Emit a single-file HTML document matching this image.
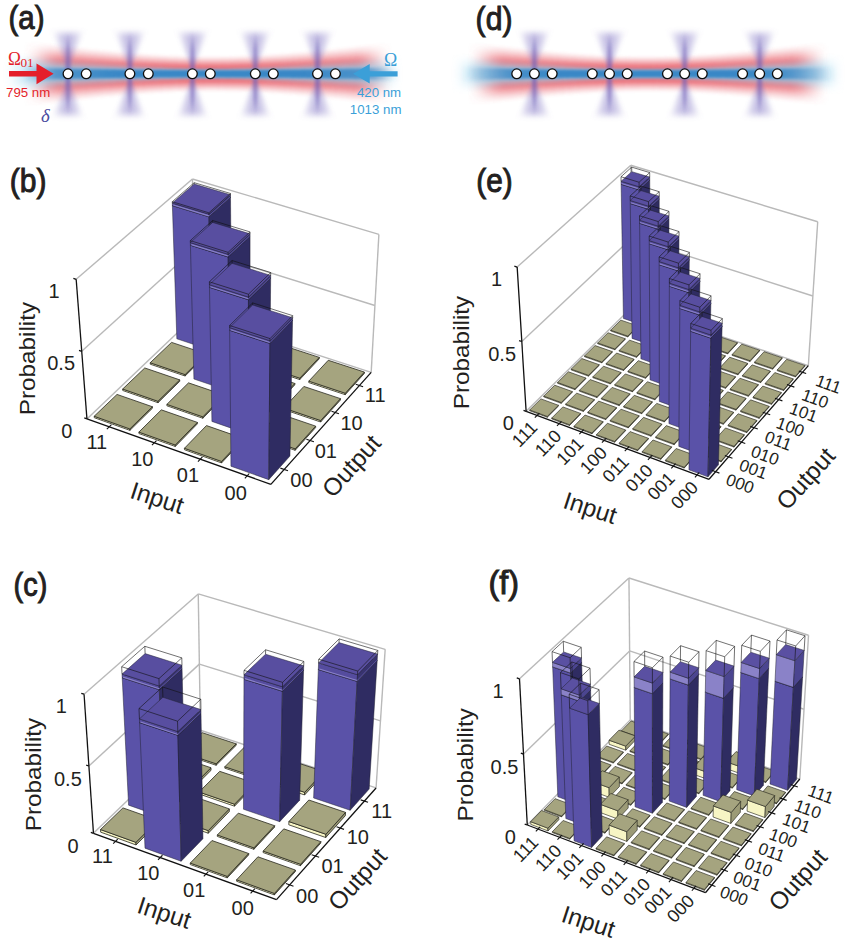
<!DOCTYPE html>
<html><head><meta charset="utf-8"><style>
html,body{margin:0;padding:0;background:#fff;overflow:hidden;}
svg{display:block;font-family:"Liberation Sans",sans-serif;}
</style></head><body>
<svg width="847" height="944" viewBox="0 0 847 944">
<defs><filter id="fsoft" x="-10%" y="-10%" width="120%" height="120%"><feGaussianBlur stdDeviation="0.9"/></filter><filter id="fsoft2" x="-30%" y="-10%" width="160%" height="120%"><feGaussianBlur stdDeviation="1.8"/></filter><linearGradient id="gRed" x1="0" y1="0" x2="0" y2="1"><stop offset="0.000" stop-color="#e9606a" stop-opacity="0.000"/><stop offset="0.090" stop-color="#e9606a" stop-opacity="0.200"/><stop offset="0.175" stop-color="#e9606a" stop-opacity="0.470"/><stop offset="0.275" stop-color="#e9606a" stop-opacity="0.800"/><stop offset="0.375" stop-color="#e9606a" stop-opacity="0.970"/><stop offset="0.500" stop-color="#e9606a" stop-opacity="1.000"/><stop offset="0.625" stop-color="#e9606a" stop-opacity="0.970"/><stop offset="0.725" stop-color="#e9606a" stop-opacity="0.800"/><stop offset="0.825" stop-color="#e9606a" stop-opacity="0.470"/><stop offset="0.910" stop-color="#e9606a" stop-opacity="0.200"/><stop offset="1.000" stop-color="#e9606a" stop-opacity="0.000"/></linearGradient><linearGradient id="gBlue" x1="0" y1="0" x2="0" y2="1"><stop offset="0.000" stop-color="#3787c6" stop-opacity="0.000"/><stop offset="0.075" stop-color="#3787c6" stop-opacity="0.120"/><stop offset="0.150" stop-color="#3787c6" stop-opacity="0.450"/><stop offset="0.225" stop-color="#3787c6" stop-opacity="0.850"/><stop offset="0.300" stop-color="#3787c6" stop-opacity="0.980"/><stop offset="0.500" stop-color="#3787c6" stop-opacity="1.000"/><stop offset="0.700" stop-color="#3787c6" stop-opacity="0.980"/><stop offset="0.775" stop-color="#3787c6" stop-opacity="0.850"/><stop offset="0.850" stop-color="#3787c6" stop-opacity="0.450"/><stop offset="0.925" stop-color="#3787c6" stop-opacity="0.120"/><stop offset="1.000" stop-color="#3787c6" stop-opacity="0.000"/></linearGradient><linearGradient id="gCyan" x1="0" y1="0" x2="0" y2="1"><stop offset="0.000" stop-color="#9ed8f2" stop-opacity="0.000"/><stop offset="0.100" stop-color="#9ed8f2" stop-opacity="0.180"/><stop offset="0.200" stop-color="#9ed8f2" stop-opacity="0.500"/><stop offset="0.325" stop-color="#9ed8f2" stop-opacity="0.900"/><stop offset="0.500" stop-color="#9ed8f2" stop-opacity="1.000"/><stop offset="0.675" stop-color="#9ed8f2" stop-opacity="0.900"/><stop offset="0.800" stop-color="#9ed8f2" stop-opacity="0.500"/><stop offset="0.900" stop-color="#9ed8f2" stop-opacity="0.180"/><stop offset="1.000" stop-color="#9ed8f2" stop-opacity="0.000"/></linearGradient><linearGradient id="gPurC" x1="0" y1="0" x2="1" y2="0"><stop offset="0.000" stop-color="#6656b2" stop-opacity="0.000"/><stop offset="0.150" stop-color="#6656b2" stop-opacity="0.350"/><stop offset="0.300" stop-color="#6656b2" stop-opacity="0.850"/><stop offset="0.500" stop-color="#6656b2" stop-opacity="1.000"/><stop offset="0.700" stop-color="#6656b2" stop-opacity="0.850"/><stop offset="0.850" stop-color="#6656b2" stop-opacity="0.350"/><stop offset="1.000" stop-color="#6656b2" stop-opacity="0.000"/></linearGradient><linearGradient id="gPurW" x1="0" y1="0" x2="1" y2="0"><stop offset="0.000" stop-color="#7c70c2" stop-opacity="0.000"/><stop offset="0.100" stop-color="#7c70c2" stop-opacity="0.200"/><stop offset="0.200" stop-color="#7c70c2" stop-opacity="0.500"/><stop offset="0.325" stop-color="#7c70c2" stop-opacity="0.850"/><stop offset="0.500" stop-color="#7c70c2" stop-opacity="1.000"/><stop offset="0.675" stop-color="#7c70c2" stop-opacity="0.850"/><stop offset="0.800" stop-color="#7c70c2" stop-opacity="0.500"/><stop offset="0.900" stop-color="#7c70c2" stop-opacity="0.200"/><stop offset="1.000" stop-color="#7c70c2" stop-opacity="0.000"/></linearGradient></defs>
<g fill="url(#gRed)" shape-rendering="crispEdges" filter="url(#fsoft)"><rect x="25" y="40.7" width="3" height="66.3" fill-opacity="0.04"/><rect x="28" y="41.0" width="3" height="65.5" fill-opacity="0.09"/><rect x="31" y="41.4" width="3" height="64.8" fill-opacity="0.17"/><rect x="34" y="41.8" width="3" height="64.0" fill-opacity="0.26"/><rect x="37" y="42.2" width="3" height="63.3" fill-opacity="0.37"/><rect x="40" y="42.5" width="3" height="62.5" fill-opacity="0.48"/><rect x="43" y="42.9" width="3" height="61.8" fill-opacity="0.59"/><rect x="46" y="43.3" width="3" height="61.1" fill-opacity="0.70"/><rect x="49" y="43.6" width="3" height="60.4" fill-opacity="0.80"/><rect x="52" y="44.0" width="3" height="59.6" fill-opacity="0.88"/><rect x="55" y="44.3" width="3" height="58.9" fill-opacity="0.95"/><rect x="58" y="44.7" width="3" height="58.2" fill-opacity="0.99"/><rect x="61" y="45.0" width="3" height="57.5" fill-opacity="1.00"/><rect x="64" y="45.4" width="3" height="56.8" fill-opacity="1.00"/><rect x="67" y="45.7" width="3" height="56.1" fill-opacity="1.00"/><rect x="70" y="46.1" width="3" height="55.4" fill-opacity="1.00"/><rect x="73" y="46.4" width="3" height="54.8" fill-opacity="1.00"/><rect x="76" y="46.8" width="3" height="54.1" fill-opacity="1.00"/><rect x="79" y="47.1" width="3" height="53.4" fill-opacity="1.00"/><rect x="82" y="47.4" width="3" height="52.7" fill-opacity="1.00"/><rect x="85" y="47.8" width="3" height="52.1" fill-opacity="1.00"/><rect x="88" y="48.1" width="3" height="51.4" fill-opacity="1.00"/><rect x="91" y="48.4" width="3" height="50.8" fill-opacity="1.00"/><rect x="94" y="48.7" width="3" height="50.2" fill-opacity="1.00"/><rect x="97" y="49.0" width="3" height="49.6" fill-opacity="1.00"/><rect x="100" y="49.3" width="3" height="48.9" fill-opacity="1.00"/><rect x="103" y="49.6" width="3" height="48.3" fill-opacity="1.00"/><rect x="106" y="49.9" width="3" height="47.7" fill-opacity="1.00"/><rect x="109" y="50.2" width="3" height="47.2" fill-opacity="1.00"/><rect x="112" y="50.5" width="3" height="46.6" fill-opacity="1.00"/><rect x="115" y="50.8" width="3" height="46.0" fill-opacity="1.00"/><rect x="118" y="51.1" width="3" height="45.5" fill-opacity="1.00"/><rect x="121" y="51.3" width="3" height="44.9" fill-opacity="1.00"/><rect x="124" y="51.6" width="3" height="44.4" fill-opacity="1.00"/><rect x="127" y="51.9" width="3" height="43.9" fill-opacity="1.00"/><rect x="130" y="52.1" width="3" height="43.3" fill-opacity="1.00"/><rect x="133" y="52.4" width="3" height="42.9" fill-opacity="1.00"/><rect x="136" y="52.6" width="3" height="42.4" fill-opacity="1.00"/><rect x="139" y="52.8" width="3" height="41.9" fill-opacity="1.00"/><rect x="142" y="53.1" width="3" height="41.5" fill-opacity="1.00"/><rect x="145" y="53.3" width="3" height="41.0" fill-opacity="1.00"/><rect x="148" y="53.5" width="3" height="40.6" fill-opacity="1.00"/><rect x="151" y="53.7" width="3" height="40.2" fill-opacity="1.00"/><rect x="154" y="53.9" width="3" height="39.8" fill-opacity="1.00"/><rect x="157" y="54.1" width="3" height="39.4" fill-opacity="1.00"/><rect x="160" y="54.3" width="3" height="39.1" fill-opacity="1.00"/><rect x="163" y="54.4" width="3" height="38.7" fill-opacity="1.00"/><rect x="166" y="54.6" width="3" height="38.4" fill-opacity="1.00"/><rect x="169" y="54.8" width="3" height="38.1" fill-opacity="1.00"/><rect x="172" y="54.9" width="3" height="37.8" fill-opacity="1.00"/><rect x="175" y="55.0" width="3" height="37.5" fill-opacity="1.00"/><rect x="178" y="55.2" width="3" height="37.3" fill-opacity="1.00"/><rect x="181" y="55.3" width="3" height="37.1" fill-opacity="1.00"/><rect x="184" y="55.4" width="3" height="36.9" fill-opacity="1.00"/><rect x="187" y="55.5" width="3" height="36.7" fill-opacity="1.00"/><rect x="190" y="55.5" width="3" height="36.5" fill-opacity="1.00"/><rect x="193" y="55.6" width="3" height="36.4" fill-opacity="1.00"/><rect x="196" y="55.7" width="3" height="36.3" fill-opacity="1.00"/><rect x="199" y="55.7" width="3" height="36.2" fill-opacity="1.00"/><rect x="202" y="55.8" width="3" height="36.1" fill-opacity="1.00"/><rect x="205" y="55.8" width="3" height="36.0" fill-opacity="1.00"/><rect x="208" y="55.8" width="3" height="36.0" fill-opacity="1.00"/><rect x="211" y="55.8" width="3" height="36.0" fill-opacity="1.00"/><rect x="214" y="55.8" width="3" height="36.0" fill-opacity="1.00"/><rect x="217" y="55.8" width="3" height="36.1" fill-opacity="1.00"/><rect x="220" y="55.7" width="3" height="36.1" fill-opacity="1.00"/><rect x="223" y="55.7" width="3" height="36.2" fill-opacity="1.00"/><rect x="226" y="55.7" width="3" height="36.3" fill-opacity="1.00"/><rect x="229" y="55.6" width="3" height="36.4" fill-opacity="1.00"/><rect x="232" y="55.5" width="3" height="36.6" fill-opacity="1.00"/><rect x="235" y="55.4" width="3" height="36.7" fill-opacity="1.00"/><rect x="238" y="55.3" width="3" height="36.9" fill-opacity="1.00"/><rect x="241" y="55.2" width="3" height="37.1" fill-opacity="1.00"/><rect x="244" y="55.1" width="3" height="37.4" fill-opacity="1.00"/><rect x="247" y="55.0" width="3" height="37.6" fill-opacity="1.00"/><rect x="250" y="54.8" width="3" height="37.9" fill-opacity="1.00"/><rect x="253" y="54.7" width="3" height="38.2" fill-opacity="1.00"/><rect x="256" y="54.5" width="3" height="38.5" fill-opacity="1.00"/><rect x="259" y="54.4" width="3" height="38.8" fill-opacity="1.00"/><rect x="262" y="54.2" width="3" height="39.2" fill-opacity="1.00"/><rect x="265" y="54.0" width="3" height="39.5" fill-opacity="1.00"/><rect x="268" y="53.8" width="3" height="39.9" fill-opacity="1.00"/><rect x="271" y="53.6" width="3" height="40.3" fill-opacity="1.00"/><rect x="274" y="53.4" width="3" height="40.7" fill-opacity="1.00"/><rect x="277" y="53.2" width="3" height="41.2" fill-opacity="1.00"/><rect x="280" y="53.0" width="3" height="41.6" fill-opacity="1.00"/><rect x="283" y="52.8" width="3" height="42.1" fill-opacity="1.00"/><rect x="286" y="52.5" width="3" height="42.5" fill-opacity="1.00"/><rect x="289" y="52.3" width="3" height="43.0" fill-opacity="1.00"/><rect x="292" y="52.0" width="3" height="43.5" fill-opacity="1.00"/><rect x="295" y="51.8" width="3" height="44.0" fill-opacity="1.00"/><rect x="298" y="51.5" width="3" height="44.6" fill-opacity="1.00"/><rect x="301" y="51.3" width="3" height="45.1" fill-opacity="1.00"/><rect x="304" y="51.0" width="3" height="45.6" fill-opacity="1.00"/><rect x="307" y="50.7" width="3" height="46.2" fill-opacity="1.00"/><rect x="310" y="50.4" width="3" height="46.8" fill-opacity="1.00"/><rect x="313" y="50.1" width="3" height="47.3" fill-opacity="1.00"/><rect x="316" y="49.8" width="3" height="47.9" fill-opacity="1.00"/><rect x="319" y="49.5" width="3" height="48.5" fill-opacity="1.00"/><rect x="322" y="49.2" width="3" height="49.1" fill-opacity="1.00"/><rect x="325" y="48.9" width="3" height="49.8" fill-opacity="1.00"/><rect x="328" y="48.6" width="3" height="50.4" fill-opacity="1.00"/><rect x="331" y="48.3" width="3" height="51.0" fill-opacity="1.00"/><rect x="334" y="48.0" width="3" height="51.7" fill-opacity="1.00"/><rect x="337" y="47.6" width="3" height="52.3" fill-opacity="1.00"/><rect x="340" y="47.3" width="3" height="53.0" fill-opacity="1.00"/><rect x="343" y="47.0" width="3" height="53.6" fill-opacity="1.00"/><rect x="346" y="46.7" width="3" height="54.3" fill-opacity="1.00"/><rect x="349" y="46.3" width="3" height="55.0" fill-opacity="1.00"/><rect x="352" y="46.0" width="3" height="55.7" fill-opacity="1.00"/><rect x="355" y="45.6" width="3" height="56.3" fill-opacity="0.99"/><rect x="358" y="45.3" width="3" height="57.0" fill-opacity="0.95"/><rect x="361" y="44.9" width="3" height="57.7" fill-opacity="0.88"/><rect x="364" y="44.6" width="3" height="58.5" fill-opacity="0.80"/><rect x="367" y="44.2" width="3" height="59.2" fill-opacity="0.70"/><rect x="370" y="43.9" width="3" height="59.9" fill-opacity="0.59"/><rect x="373" y="43.5" width="3" height="60.6" fill-opacity="0.48"/><rect x="376" y="43.1" width="3" height="61.3" fill-opacity="0.37"/><rect x="379" y="42.8" width="3" height="62.1" fill-opacity="0.26"/><rect x="382" y="42.4" width="3" height="62.8" fill-opacity="0.17"/><rect x="385" y="42.0" width="3" height="63.5" fill-opacity="0.09"/><rect x="388" y="41.7" width="3" height="64.3" fill-opacity="0.04"/></g>
<g fill="url(#gCyan)" shape-rendering="crispEdges" filter="url(#fsoft)"><rect x="5" y="52.1" width="3" height="43.4" fill-opacity="0.03"/><rect x="8" y="52.4" width="3" height="42.9" fill-opacity="0.08"/><rect x="11" y="52.7" width="3" height="42.3" fill-opacity="0.14"/><rect x="14" y="52.9" width="3" height="41.7" fill-opacity="0.23"/><rect x="17" y="53.2" width="3" height="41.2" fill-opacity="0.31"/><rect x="20" y="53.5" width="3" height="40.6" fill-opacity="0.41"/><rect x="23" y="53.8" width="3" height="40.0" fill-opacity="0.50"/><rect x="26" y="54.1" width="3" height="39.5" fill-opacity="0.60"/><rect x="29" y="54.3" width="3" height="38.9" fill-opacity="0.68"/><rect x="32" y="54.6" width="3" height="38.3" fill-opacity="0.75"/><rect x="35" y="54.9" width="3" height="37.8" fill-opacity="0.81"/><rect x="38" y="55.2" width="3" height="37.2" fill-opacity="0.84"/><rect x="41" y="55.5" width="3" height="36.7" fill-opacity="0.85"/><rect x="44" y="55.7" width="3" height="36.1" fill-opacity="0.85"/><rect x="47" y="56.0" width="3" height="35.6" fill-opacity="0.85"/><rect x="50" y="56.3" width="3" height="35.0" fill-opacity="0.85"/><rect x="53" y="56.6" width="3" height="34.5" fill-opacity="0.85"/><rect x="56" y="56.8" width="3" height="33.9" fill-opacity="0.85"/><rect x="59" y="57.1" width="3" height="33.4" fill-opacity="0.85"/><rect x="62" y="57.4" width="3" height="32.8" fill-opacity="0.85"/><rect x="65" y="57.7" width="3" height="32.3" fill-opacity="0.85"/><rect x="68" y="57.9" width="3" height="31.8" fill-opacity="0.85"/><rect x="71" y="58.2" width="3" height="31.2" fill-opacity="0.85"/><rect x="74" y="58.5" width="3" height="30.7" fill-opacity="0.85"/><rect x="77" y="58.7" width="3" height="30.1" fill-opacity="0.85"/><rect x="80" y="59.0" width="3" height="29.6" fill-opacity="0.85"/><rect x="83" y="59.3" width="3" height="29.1" fill-opacity="0.85"/><rect x="86" y="59.5" width="3" height="28.6" fill-opacity="0.85"/><rect x="89" y="59.8" width="3" height="28.0" fill-opacity="0.85"/><rect x="92" y="60.0" width="3" height="27.5" fill-opacity="0.85"/><rect x="95" y="60.3" width="3" height="27.0" fill-opacity="0.85"/><rect x="98" y="60.5" width="3" height="26.5" fill-opacity="0.85"/><rect x="101" y="60.8" width="3" height="26.0" fill-opacity="0.85"/><rect x="104" y="61.1" width="3" height="25.5" fill-opacity="0.85"/><rect x="107" y="61.3" width="3" height="25.0" fill-opacity="0.85"/><rect x="110" y="61.6" width="3" height="24.5" fill-opacity="0.85"/><rect x="113" y="61.8" width="3" height="24.0" fill-opacity="0.85"/><rect x="116" y="62.0" width="3" height="23.5" fill-opacity="0.85"/><rect x="119" y="62.3" width="3" height="23.0" fill-opacity="0.85"/><rect x="122" y="62.5" width="3" height="22.6" fill-opacity="0.85"/><rect x="125" y="62.8" width="3" height="22.1" fill-opacity="0.85"/><rect x="128" y="63.0" width="3" height="21.6" fill-opacity="0.85"/><rect x="131" y="63.2" width="3" height="21.2" fill-opacity="0.85"/><rect x="134" y="63.4" width="3" height="20.7" fill-opacity="0.85"/><rect x="137" y="63.6" width="3" height="20.3" fill-opacity="0.85"/><rect x="140" y="63.9" width="3" height="19.9" fill-opacity="0.85"/><rect x="143" y="64.1" width="3" height="19.4" fill-opacity="0.85"/><rect x="146" y="64.3" width="3" height="19.0" fill-opacity="0.85"/><rect x="149" y="64.5" width="3" height="18.6" fill-opacity="0.85"/><rect x="152" y="64.7" width="3" height="18.2" fill-opacity="0.85"/><rect x="155" y="64.9" width="3" height="17.9" fill-opacity="0.85"/><rect x="158" y="65.0" width="3" height="17.5" fill-opacity="0.85"/><rect x="161" y="65.2" width="3" height="17.1" fill-opacity="0.85"/><rect x="164" y="65.4" width="3" height="16.8" fill-opacity="0.85"/><rect x="167" y="65.6" width="3" height="16.5" fill-opacity="0.85"/><rect x="170" y="65.7" width="3" height="16.2" fill-opacity="0.85"/><rect x="173" y="65.9" width="3" height="15.9" fill-opacity="0.85"/><rect x="176" y="66.0" width="3" height="15.6" fill-opacity="0.85"/><rect x="179" y="66.1" width="3" height="15.4" fill-opacity="0.85"/><rect x="182" y="66.2" width="3" height="15.1" fill-opacity="0.85"/><rect x="185" y="66.3" width="3" height="14.9" fill-opacity="0.85"/><rect x="188" y="66.4" width="3" height="14.7" fill-opacity="0.85"/><rect x="191" y="66.5" width="3" height="14.5" fill-opacity="0.85"/><rect x="194" y="66.6" width="3" height="14.4" fill-opacity="0.85"/><rect x="197" y="66.7" width="3" height="14.3" fill-opacity="0.85"/><rect x="200" y="66.7" width="3" height="14.2" fill-opacity="0.85"/><rect x="203" y="66.8" width="3" height="14.1" fill-opacity="0.85"/><rect x="206" y="66.8" width="3" height="14.0" fill-opacity="0.85"/><rect x="209" y="66.8" width="3" height="14.0" fill-opacity="0.85"/><rect x="212" y="66.8" width="3" height="14.0" fill-opacity="0.85"/><rect x="215" y="66.8" width="3" height="14.0" fill-opacity="0.85"/><rect x="218" y="66.8" width="3" height="14.1" fill-opacity="0.85"/><rect x="221" y="66.7" width="3" height="14.2" fill-opacity="0.85"/><rect x="224" y="66.7" width="3" height="14.3" fill-opacity="0.85"/><rect x="227" y="66.6" width="3" height="14.4" fill-opacity="0.85"/><rect x="230" y="66.5" width="3" height="14.5" fill-opacity="0.85"/><rect x="233" y="66.4" width="3" height="14.7" fill-opacity="0.85"/><rect x="236" y="66.3" width="3" height="14.9" fill-opacity="0.85"/><rect x="239" y="66.2" width="3" height="15.1" fill-opacity="0.85"/><rect x="242" y="66.1" width="3" height="15.4" fill-opacity="0.85"/><rect x="245" y="66.0" width="3" height="15.6" fill-opacity="0.85"/><rect x="248" y="65.9" width="3" height="15.9" fill-opacity="0.85"/><rect x="251" y="65.7" width="3" height="16.2" fill-opacity="0.85"/><rect x="254" y="65.6" width="3" height="16.5" fill-opacity="0.85"/><rect x="257" y="65.4" width="3" height="16.8" fill-opacity="0.85"/><rect x="260" y="65.2" width="3" height="17.1" fill-opacity="0.85"/><rect x="263" y="65.0" width="3" height="17.5" fill-opacity="0.85"/><rect x="266" y="64.9" width="3" height="17.9" fill-opacity="0.85"/><rect x="269" y="64.7" width="3" height="18.2" fill-opacity="0.85"/><rect x="272" y="64.5" width="3" height="18.6" fill-opacity="0.85"/><rect x="275" y="64.3" width="3" height="19.0" fill-opacity="0.85"/><rect x="278" y="64.1" width="3" height="19.4" fill-opacity="0.85"/><rect x="281" y="63.9" width="3" height="19.9" fill-opacity="0.85"/><rect x="284" y="63.6" width="3" height="20.3" fill-opacity="0.85"/><rect x="287" y="63.4" width="3" height="20.7" fill-opacity="0.85"/><rect x="290" y="63.2" width="3" height="21.2" fill-opacity="0.85"/><rect x="293" y="63.0" width="3" height="21.6" fill-opacity="0.85"/><rect x="296" y="62.8" width="3" height="22.1" fill-opacity="0.85"/><rect x="299" y="62.5" width="3" height="22.6" fill-opacity="0.85"/><rect x="302" y="62.3" width="3" height="23.0" fill-opacity="0.85"/><rect x="305" y="62.0" width="3" height="23.5" fill-opacity="0.85"/><rect x="308" y="61.8" width="3" height="24.0" fill-opacity="0.85"/><rect x="311" y="61.6" width="3" height="24.5" fill-opacity="0.85"/><rect x="314" y="61.3" width="3" height="25.0" fill-opacity="0.85"/><rect x="317" y="61.1" width="3" height="25.5" fill-opacity="0.85"/><rect x="320" y="60.8" width="3" height="26.0" fill-opacity="0.85"/><rect x="323" y="60.5" width="3" height="26.5" fill-opacity="0.85"/><rect x="326" y="60.3" width="3" height="27.0" fill-opacity="0.85"/><rect x="329" y="60.0" width="3" height="27.5" fill-opacity="0.85"/><rect x="332" y="59.8" width="3" height="28.0" fill-opacity="0.85"/><rect x="335" y="59.5" width="3" height="28.6" fill-opacity="0.85"/><rect x="338" y="59.3" width="3" height="29.1" fill-opacity="0.85"/><rect x="341" y="59.0" width="3" height="29.6" fill-opacity="0.85"/><rect x="344" y="58.7" width="3" height="30.1" fill-opacity="0.85"/><rect x="347" y="58.5" width="3" height="30.7" fill-opacity="0.85"/><rect x="350" y="58.2" width="3" height="31.2" fill-opacity="0.85"/><rect x="353" y="57.9" width="3" height="31.8" fill-opacity="0.85"/><rect x="356" y="57.7" width="3" height="32.3" fill-opacity="0.85"/><rect x="359" y="57.4" width="3" height="32.8" fill-opacity="0.85"/><rect x="362" y="57.1" width="3" height="33.4" fill-opacity="0.85"/><rect x="365" y="56.8" width="3" height="33.9" fill-opacity="0.84"/><rect x="368" y="56.6" width="3" height="34.5" fill-opacity="0.81"/><rect x="371" y="56.3" width="3" height="35.0" fill-opacity="0.75"/><rect x="374" y="56.0" width="3" height="35.6" fill-opacity="0.68"/><rect x="377" y="55.7" width="3" height="36.1" fill-opacity="0.60"/><rect x="380" y="55.5" width="3" height="36.7" fill-opacity="0.50"/><rect x="383" y="55.2" width="3" height="37.2" fill-opacity="0.41"/><rect x="386" y="54.9" width="3" height="37.8" fill-opacity="0.31"/><rect x="389" y="54.6" width="3" height="38.3" fill-opacity="0.23"/><rect x="392" y="54.3" width="3" height="38.9" fill-opacity="0.14"/><rect x="395" y="54.1" width="3" height="39.5" fill-opacity="0.08"/><rect x="398" y="53.8" width="3" height="40.0" fill-opacity="0.03"/></g>
<g fill="url(#gBlue)" shape-rendering="crispEdges" filter="url(#fsoft)"><rect x="21" y="64.7" width="3" height="18.2" fill-opacity="0.02"/><rect x="24" y="64.8" width="3" height="18.0" fill-opacity="0.05"/><rect x="27" y="64.9" width="3" height="17.8" fill-opacity="0.10"/><rect x="30" y="65.0" width="3" height="17.6" fill-opacity="0.16"/><rect x="33" y="65.1" width="3" height="17.4" fill-opacity="0.23"/><rect x="36" y="65.2" width="3" height="17.3" fill-opacity="0.30"/><rect x="39" y="65.3" width="3" height="17.1" fill-opacity="0.38"/><rect x="42" y="65.4" width="3" height="16.9" fill-opacity="0.46"/><rect x="45" y="65.4" width="3" height="16.7" fill-opacity="0.54"/><rect x="48" y="65.5" width="3" height="16.5" fill-opacity="0.61"/><rect x="51" y="65.6" width="3" height="16.4" fill-opacity="0.68"/><rect x="54" y="65.7" width="3" height="16.2" fill-opacity="0.74"/><rect x="57" y="65.8" width="3" height="16.0" fill-opacity="0.79"/><rect x="60" y="65.9" width="3" height="15.9" fill-opacity="0.81"/><rect x="63" y="66.0" width="3" height="15.7" fill-opacity="0.83"/><rect x="66" y="66.0" width="3" height="15.5" fill-opacity="0.84"/><rect x="69" y="66.1" width="3" height="15.4" fill-opacity="0.84"/><rect x="72" y="66.2" width="3" height="15.2" fill-opacity="0.85"/><rect x="75" y="66.3" width="3" height="15.0" fill-opacity="0.86"/><rect x="78" y="66.4" width="3" height="14.9" fill-opacity="0.87"/><rect x="81" y="66.4" width="3" height="14.7" fill-opacity="0.88"/><rect x="84" y="66.5" width="3" height="14.6" fill-opacity="0.89"/><rect x="87" y="66.6" width="3" height="14.4" fill-opacity="0.90"/><rect x="90" y="66.7" width="3" height="14.2" fill-opacity="0.91"/><rect x="93" y="66.8" width="3" height="14.1" fill-opacity="0.92"/><rect x="96" y="66.8" width="3" height="14.0" fill-opacity="0.93"/><rect x="99" y="66.9" width="3" height="13.8" fill-opacity="0.94"/><rect x="102" y="67.0" width="3" height="13.7" fill-opacity="0.95"/><rect x="105" y="67.0" width="3" height="13.5" fill-opacity="0.96"/><rect x="108" y="67.1" width="3" height="13.4" fill-opacity="0.97"/><rect x="111" y="67.2" width="3" height="13.2" fill-opacity="0.98"/><rect x="114" y="67.2" width="3" height="13.1" fill-opacity="0.99"/><rect x="117" y="67.3" width="3" height="13.0" fill-opacity="1.00"/><rect x="120" y="67.4" width="3" height="12.9" fill-opacity="1.00"/><rect x="123" y="67.4" width="3" height="12.7" fill-opacity="1.00"/><rect x="126" y="67.5" width="3" height="12.6" fill-opacity="1.00"/><rect x="129" y="67.6" width="3" height="12.5" fill-opacity="1.00"/><rect x="132" y="67.6" width="3" height="12.4" fill-opacity="1.00"/><rect x="135" y="67.7" width="3" height="12.3" fill-opacity="1.00"/><rect x="138" y="67.7" width="3" height="12.2" fill-opacity="1.00"/><rect x="141" y="67.8" width="3" height="12.1" fill-opacity="1.00"/><rect x="144" y="67.8" width="3" height="12.0" fill-opacity="1.00"/><rect x="147" y="67.9" width="3" height="11.9" fill-opacity="1.00"/><rect x="150" y="67.9" width="3" height="11.8" fill-opacity="1.00"/><rect x="153" y="68.0" width="3" height="11.7" fill-opacity="1.00"/><rect x="156" y="68.0" width="3" height="11.6" fill-opacity="1.00"/><rect x="159" y="68.0" width="3" height="11.5" fill-opacity="1.00"/><rect x="162" y="68.1" width="3" height="11.4" fill-opacity="1.00"/><rect x="165" y="68.1" width="3" height="11.4" fill-opacity="1.00"/><rect x="168" y="68.2" width="3" height="11.3" fill-opacity="1.00"/><rect x="171" y="68.2" width="3" height="11.2" fill-opacity="1.00"/><rect x="174" y="68.2" width="3" height="11.2" fill-opacity="1.00"/><rect x="177" y="68.2" width="3" height="11.1" fill-opacity="1.00"/><rect x="180" y="68.3" width="3" height="11.1" fill-opacity="1.00"/><rect x="183" y="68.3" width="3" height="11.0" fill-opacity="1.00"/><rect x="186" y="68.3" width="3" height="11.0" fill-opacity="1.00"/><rect x="189" y="68.3" width="3" height="10.9" fill-opacity="1.00"/><rect x="192" y="68.4" width="3" height="10.9" fill-opacity="1.00"/><rect x="195" y="68.4" width="3" height="10.9" fill-opacity="1.00"/><rect x="198" y="68.4" width="3" height="10.8" fill-opacity="1.00"/><rect x="201" y="68.4" width="3" height="10.8" fill-opacity="1.00"/><rect x="204" y="68.4" width="3" height="10.8" fill-opacity="1.00"/><rect x="207" y="68.4" width="3" height="10.8" fill-opacity="1.00"/><rect x="210" y="68.4" width="3" height="10.8" fill-opacity="1.00"/><rect x="213" y="68.4" width="3" height="10.8" fill-opacity="1.00"/><rect x="216" y="68.4" width="3" height="10.8" fill-opacity="1.00"/><rect x="219" y="68.4" width="3" height="10.8" fill-opacity="1.00"/><rect x="222" y="68.4" width="3" height="10.8" fill-opacity="1.00"/><rect x="225" y="68.4" width="3" height="10.9" fill-opacity="1.00"/><rect x="228" y="68.4" width="3" height="10.9" fill-opacity="1.00"/><rect x="231" y="68.3" width="3" height="10.9" fill-opacity="1.00"/><rect x="234" y="68.3" width="3" height="11.0" fill-opacity="1.00"/><rect x="237" y="68.3" width="3" height="11.0" fill-opacity="1.00"/><rect x="240" y="68.3" width="3" height="11.0" fill-opacity="1.00"/><rect x="243" y="68.3" width="3" height="11.1" fill-opacity="1.00"/><rect x="246" y="68.2" width="3" height="11.1" fill-opacity="1.00"/><rect x="249" y="68.2" width="3" height="11.2" fill-opacity="1.00"/><rect x="252" y="68.2" width="3" height="11.3" fill-opacity="1.00"/><rect x="255" y="68.1" width="3" height="11.3" fill-opacity="1.00"/><rect x="258" y="68.1" width="3" height="11.4" fill-opacity="1.00"/><rect x="261" y="68.1" width="3" height="11.5" fill-opacity="1.00"/><rect x="264" y="68.0" width="3" height="11.6" fill-opacity="1.00"/><rect x="267" y="68.0" width="3" height="11.6" fill-opacity="1.00"/><rect x="270" y="67.9" width="3" height="11.7" fill-opacity="1.00"/><rect x="273" y="67.9" width="3" height="11.8" fill-opacity="1.00"/><rect x="276" y="67.8" width="3" height="11.9" fill-opacity="1.00"/><rect x="279" y="67.8" width="3" height="12.0" fill-opacity="1.00"/><rect x="282" y="67.7" width="3" height="12.1" fill-opacity="1.00"/><rect x="285" y="67.7" width="3" height="12.2" fill-opacity="1.00"/><rect x="288" y="67.6" width="3" height="12.3" fill-opacity="1.00"/><rect x="291" y="67.6" width="3" height="12.5" fill-opacity="1.00"/><rect x="294" y="67.5" width="3" height="12.6" fill-opacity="1.00"/><rect x="297" y="67.5" width="3" height="12.7" fill-opacity="1.00"/><rect x="300" y="67.4" width="3" height="12.8" fill-opacity="1.00"/><rect x="303" y="67.3" width="3" height="12.9" fill-opacity="1.00"/><rect x="306" y="67.3" width="3" height="13.1" fill-opacity="0.99"/><rect x="309" y="67.2" width="3" height="13.2" fill-opacity="0.98"/><rect x="312" y="67.1" width="3" height="13.3" fill-opacity="0.97"/><rect x="315" y="67.1" width="3" height="13.5" fill-opacity="0.96"/><rect x="318" y="67.0" width="3" height="13.6" fill-opacity="0.95"/><rect x="321" y="66.9" width="3" height="13.8" fill-opacity="0.94"/><rect x="324" y="66.8" width="3" height="13.9" fill-opacity="0.93"/><rect x="327" y="66.8" width="3" height="14.1" fill-opacity="0.92"/><rect x="330" y="66.7" width="3" height="14.2" fill-opacity="0.91"/><rect x="333" y="66.6" width="3" height="14.4" fill-opacity="0.90"/><rect x="336" y="66.5" width="3" height="14.5" fill-opacity="0.89"/><rect x="339" y="66.5" width="3" height="14.7" fill-opacity="0.88"/><rect x="342" y="66.4" width="3" height="14.8" fill-opacity="0.87"/><rect x="345" y="66.3" width="3" height="15.0" fill-opacity="0.87"/><rect x="348" y="66.2" width="3" height="15.1" fill-opacity="0.86"/><rect x="351" y="66.1" width="3" height="15.3" fill-opacity="0.85"/><rect x="354" y="66.1" width="3" height="15.5" fill-opacity="0.84"/><rect x="357" y="66.0" width="3" height="15.6" fill-opacity="0.83"/><rect x="360" y="65.9" width="3" height="15.8" fill-opacity="0.80"/><rect x="363" y="65.8" width="3" height="16.0" fill-opacity="0.75"/><rect x="366" y="65.7" width="3" height="16.1" fill-opacity="0.69"/><rect x="369" y="65.6" width="3" height="16.3" fill-opacity="0.62"/><rect x="372" y="65.6" width="3" height="16.5" fill-opacity="0.55"/><rect x="375" y="65.5" width="3" height="16.7" fill-opacity="0.47"/><rect x="378" y="65.4" width="3" height="16.8" fill-opacity="0.38"/><rect x="381" y="65.3" width="3" height="17.0" fill-opacity="0.31"/><rect x="384" y="65.2" width="3" height="17.2" fill-opacity="0.23"/><rect x="387" y="65.1" width="3" height="17.4" fill-opacity="0.16"/><rect x="390" y="65.0" width="3" height="17.6" fill-opacity="0.10"/><rect x="393" y="64.9" width="3" height="17.7" fill-opacity="0.05"/><rect x="396" y="64.8" width="3" height="17.9" fill-opacity="0.02"/></g>
<g fill="url(#gPurW)" shape-rendering="crispEdges" filter="url(#fsoft2)"><rect x="48.9" y="28.799999999999997" width="38.2" height="2" fill-opacity="0.07"/><rect x="49.8" y="30.799999999999997" width="36.5" height="2" fill-opacity="0.17"/><rect x="50.6" y="32.8" width="34.8" height="2" fill-opacity="0.28"/><rect x="51.4" y="34.8" width="33.1" height="2" fill-opacity="0.38"/><rect x="52.3" y="36.8" width="31.4" height="2" fill-opacity="0.44"/><rect x="53.1" y="38.8" width="29.8" height="2" fill-opacity="0.45"/><rect x="54.0" y="40.8" width="28.1" height="2" fill-opacity="0.45"/><rect x="54.8" y="42.8" width="26.4" height="2" fill-opacity="0.45"/><rect x="55.6" y="44.8" width="24.7" height="2" fill-opacity="0.45"/><rect x="56.5" y="46.8" width="23.1" height="2" fill-opacity="0.45"/><rect x="57.3" y="48.8" width="21.4" height="2" fill-opacity="0.45"/><rect x="58.1" y="50.8" width="19.8" height="2" fill-opacity="0.45"/><rect x="58.9" y="52.8" width="18.2" height="2" fill-opacity="0.45"/><rect x="59.7" y="54.8" width="16.6" height="2" fill-opacity="0.45"/><rect x="60.5" y="56.8" width="15.0" height="2" fill-opacity="0.45"/><rect x="61.3" y="58.8" width="13.4" height="2" fill-opacity="0.45"/><rect x="62.0" y="60.8" width="11.9" height="2" fill-opacity="0.45"/><rect x="62.8" y="62.8" width="10.5" height="2" fill-opacity="0.45"/><rect x="63.4" y="64.8" width="9.1" height="2" fill-opacity="0.45"/><rect x="64.0" y="66.8" width="7.9" height="2" fill-opacity="0.45"/><rect x="64.5" y="68.8" width="6.9" height="2" fill-opacity="0.45"/><rect x="64.9" y="70.8" width="6.2" height="2" fill-opacity="0.45"/><rect x="65.0" y="72.8" width="6.0" height="2" fill-opacity="0.45"/><rect x="64.9" y="74.8" width="6.2" height="2" fill-opacity="0.45"/><rect x="64.5" y="76.8" width="6.9" height="2" fill-opacity="0.45"/><rect x="64.0" y="78.8" width="7.9" height="2" fill-opacity="0.45"/><rect x="63.4" y="80.8" width="9.1" height="2" fill-opacity="0.45"/><rect x="62.8" y="82.8" width="10.5" height="2" fill-opacity="0.45"/><rect x="62.0" y="84.8" width="11.9" height="2" fill-opacity="0.45"/><rect x="61.3" y="86.8" width="13.4" height="2" fill-opacity="0.45"/><rect x="60.5" y="88.8" width="15.0" height="2" fill-opacity="0.45"/><rect x="59.7" y="90.8" width="16.6" height="2" fill-opacity="0.45"/><rect x="58.9" y="92.8" width="18.2" height="2" fill-opacity="0.45"/><rect x="58.1" y="94.8" width="19.8" height="2" fill-opacity="0.45"/><rect x="57.3" y="96.8" width="21.4" height="2" fill-opacity="0.45"/><rect x="56.5" y="98.8" width="23.1" height="2" fill-opacity="0.45"/><rect x="55.6" y="100.8" width="24.7" height="2" fill-opacity="0.45"/><rect x="54.8" y="102.8" width="26.4" height="2" fill-opacity="0.45"/><rect x="54.0" y="104.8" width="28.1" height="2" fill-opacity="0.45"/><rect x="53.1" y="106.8" width="29.8" height="2" fill-opacity="0.45"/><rect x="52.3" y="108.8" width="31.4" height="2" fill-opacity="0.44"/><rect x="51.4" y="110.8" width="33.1" height="2" fill-opacity="0.38"/><rect x="50.6" y="112.8" width="34.8" height="2" fill-opacity="0.28"/><rect x="49.8" y="114.8" width="36.5" height="2" fill-opacity="0.17"/><rect x="48.9" y="116.8" width="38.2" height="2" fill-opacity="0.07"/></g>
<g fill="url(#gPurC)" shape-rendering="crispEdges" filter="url(#fsoft2)"><rect x="65.3" y="32.8" width="5.4" height="2" fill-opacity="0.03"/><rect x="65.3" y="34.8" width="5.4" height="2" fill-opacity="0.07"/><rect x="65.3" y="36.8" width="5.4" height="2" fill-opacity="0.12"/><rect x="65.3" y="38.8" width="5.4" height="2" fill-opacity="0.18"/><rect x="65.3" y="40.8" width="5.4" height="2" fill-opacity="0.25"/><rect x="65.3" y="42.8" width="5.4" height="2" fill-opacity="0.32"/><rect x="65.3" y="44.8" width="5.4" height="2" fill-opacity="0.38"/><rect x="65.3" y="46.8" width="5.4" height="2" fill-opacity="0.43"/><rect x="65.3" y="48.8" width="5.4" height="2" fill-opacity="0.47"/><rect x="65.3" y="50.8" width="5.4" height="2" fill-opacity="0.50"/><rect x="65.3" y="52.8" width="5.4" height="2" fill-opacity="0.50"/><rect x="65.3" y="54.8" width="5.4" height="2" fill-opacity="0.50"/><rect x="65.3" y="56.8" width="5.4" height="2" fill-opacity="0.50"/><rect x="65.3" y="58.8" width="5.4" height="2" fill-opacity="0.50"/><rect x="65.3" y="60.8" width="5.4" height="2" fill-opacity="0.50"/><rect x="65.3" y="62.8" width="5.4" height="2" fill-opacity="0.50"/><rect x="65.3" y="64.8" width="5.4" height="2" fill-opacity="0.50"/><rect x="65.3" y="66.8" width="5.4" height="2" fill-opacity="0.50"/><rect x="65.3" y="68.8" width="5.4" height="2" fill-opacity="0.50"/><rect x="65.3" y="70.8" width="5.4" height="2" fill-opacity="0.50"/><rect x="65.3" y="72.8" width="5.4" height="2" fill-opacity="0.50"/><rect x="65.3" y="74.8" width="5.4" height="2" fill-opacity="0.50"/><rect x="65.3" y="76.8" width="5.4" height="2" fill-opacity="0.50"/><rect x="65.3" y="78.8" width="5.4" height="2" fill-opacity="0.50"/><rect x="65.3" y="80.8" width="5.4" height="2" fill-opacity="0.50"/><rect x="65.3" y="82.8" width="5.4" height="2" fill-opacity="0.50"/><rect x="65.3" y="84.8" width="5.4" height="2" fill-opacity="0.50"/><rect x="65.3" y="86.8" width="5.4" height="2" fill-opacity="0.50"/><rect x="65.3" y="88.8" width="5.4" height="2" fill-opacity="0.50"/><rect x="65.3" y="90.8" width="5.4" height="2" fill-opacity="0.50"/><rect x="65.3" y="92.8" width="5.4" height="2" fill-opacity="0.50"/><rect x="65.3" y="94.8" width="5.4" height="2" fill-opacity="0.50"/><rect x="65.3" y="96.8" width="5.4" height="2" fill-opacity="0.47"/><rect x="65.3" y="98.8" width="5.4" height="2" fill-opacity="0.43"/><rect x="65.3" y="100.8" width="5.4" height="2" fill-opacity="0.38"/><rect x="65.3" y="102.8" width="5.4" height="2" fill-opacity="0.32"/><rect x="65.3" y="104.8" width="5.4" height="2" fill-opacity="0.25"/><rect x="65.3" y="106.8" width="5.4" height="2" fill-opacity="0.18"/><rect x="65.3" y="108.8" width="5.4" height="2" fill-opacity="0.12"/><rect x="65.3" y="110.8" width="5.4" height="2" fill-opacity="0.07"/><rect x="65.3" y="112.8" width="5.4" height="2" fill-opacity="0.03"/></g>
<g fill="url(#gPurW)" shape-rendering="crispEdges" filter="url(#fsoft2)"><rect x="110.8" y="28.799999999999997" width="38.2" height="2" fill-opacity="0.07"/><rect x="111.7" y="30.799999999999997" width="36.5" height="2" fill-opacity="0.17"/><rect x="112.5" y="32.8" width="34.8" height="2" fill-opacity="0.28"/><rect x="113.3" y="34.8" width="33.1" height="2" fill-opacity="0.38"/><rect x="114.2" y="36.8" width="31.4" height="2" fill-opacity="0.44"/><rect x="115.0" y="38.8" width="29.8" height="2" fill-opacity="0.45"/><rect x="115.9" y="40.8" width="28.1" height="2" fill-opacity="0.45"/><rect x="116.7" y="42.8" width="26.4" height="2" fill-opacity="0.45"/><rect x="117.5" y="44.8" width="24.7" height="2" fill-opacity="0.45"/><rect x="118.4" y="46.8" width="23.1" height="2" fill-opacity="0.45"/><rect x="119.2" y="48.8" width="21.4" height="2" fill-opacity="0.45"/><rect x="120.0" y="50.8" width="19.8" height="2" fill-opacity="0.45"/><rect x="120.8" y="52.8" width="18.2" height="2" fill-opacity="0.45"/><rect x="121.6" y="54.8" width="16.6" height="2" fill-opacity="0.45"/><rect x="122.4" y="56.8" width="15.0" height="2" fill-opacity="0.45"/><rect x="123.2" y="58.8" width="13.4" height="2" fill-opacity="0.45"/><rect x="123.9" y="60.8" width="11.9" height="2" fill-opacity="0.45"/><rect x="124.7" y="62.8" width="10.5" height="2" fill-opacity="0.45"/><rect x="125.3" y="64.8" width="9.1" height="2" fill-opacity="0.45"/><rect x="125.9" y="66.8" width="7.9" height="2" fill-opacity="0.45"/><rect x="126.4" y="68.8" width="6.9" height="2" fill-opacity="0.45"/><rect x="126.8" y="70.8" width="6.2" height="2" fill-opacity="0.45"/><rect x="126.9" y="72.8" width="6.0" height="2" fill-opacity="0.45"/><rect x="126.8" y="74.8" width="6.2" height="2" fill-opacity="0.45"/><rect x="126.4" y="76.8" width="6.9" height="2" fill-opacity="0.45"/><rect x="125.9" y="78.8" width="7.9" height="2" fill-opacity="0.45"/><rect x="125.3" y="80.8" width="9.1" height="2" fill-opacity="0.45"/><rect x="124.7" y="82.8" width="10.5" height="2" fill-opacity="0.45"/><rect x="123.9" y="84.8" width="11.9" height="2" fill-opacity="0.45"/><rect x="123.2" y="86.8" width="13.4" height="2" fill-opacity="0.45"/><rect x="122.4" y="88.8" width="15.0" height="2" fill-opacity="0.45"/><rect x="121.6" y="90.8" width="16.6" height="2" fill-opacity="0.45"/><rect x="120.8" y="92.8" width="18.2" height="2" fill-opacity="0.45"/><rect x="120.0" y="94.8" width="19.8" height="2" fill-opacity="0.45"/><rect x="119.2" y="96.8" width="21.4" height="2" fill-opacity="0.45"/><rect x="118.4" y="98.8" width="23.1" height="2" fill-opacity="0.45"/><rect x="117.5" y="100.8" width="24.7" height="2" fill-opacity="0.45"/><rect x="116.7" y="102.8" width="26.4" height="2" fill-opacity="0.45"/><rect x="115.9" y="104.8" width="28.1" height="2" fill-opacity="0.45"/><rect x="115.0" y="106.8" width="29.8" height="2" fill-opacity="0.45"/><rect x="114.2" y="108.8" width="31.4" height="2" fill-opacity="0.44"/><rect x="113.3" y="110.8" width="33.1" height="2" fill-opacity="0.38"/><rect x="112.5" y="112.8" width="34.8" height="2" fill-opacity="0.28"/><rect x="111.7" y="114.8" width="36.5" height="2" fill-opacity="0.17"/><rect x="110.8" y="116.8" width="38.2" height="2" fill-opacity="0.07"/></g>
<g fill="url(#gPurC)" shape-rendering="crispEdges" filter="url(#fsoft2)"><rect x="127.2" y="32.8" width="5.4" height="2" fill-opacity="0.03"/><rect x="127.2" y="34.8" width="5.4" height="2" fill-opacity="0.07"/><rect x="127.2" y="36.8" width="5.4" height="2" fill-opacity="0.12"/><rect x="127.2" y="38.8" width="5.4" height="2" fill-opacity="0.18"/><rect x="127.2" y="40.8" width="5.4" height="2" fill-opacity="0.25"/><rect x="127.2" y="42.8" width="5.4" height="2" fill-opacity="0.32"/><rect x="127.2" y="44.8" width="5.4" height="2" fill-opacity="0.38"/><rect x="127.2" y="46.8" width="5.4" height="2" fill-opacity="0.43"/><rect x="127.2" y="48.8" width="5.4" height="2" fill-opacity="0.47"/><rect x="127.2" y="50.8" width="5.4" height="2" fill-opacity="0.50"/><rect x="127.2" y="52.8" width="5.4" height="2" fill-opacity="0.50"/><rect x="127.2" y="54.8" width="5.4" height="2" fill-opacity="0.50"/><rect x="127.2" y="56.8" width="5.4" height="2" fill-opacity="0.50"/><rect x="127.2" y="58.8" width="5.4" height="2" fill-opacity="0.50"/><rect x="127.2" y="60.8" width="5.4" height="2" fill-opacity="0.50"/><rect x="127.2" y="62.8" width="5.4" height="2" fill-opacity="0.50"/><rect x="127.2" y="64.8" width="5.4" height="2" fill-opacity="0.50"/><rect x="127.2" y="66.8" width="5.4" height="2" fill-opacity="0.50"/><rect x="127.2" y="68.8" width="5.4" height="2" fill-opacity="0.50"/><rect x="127.2" y="70.8" width="5.4" height="2" fill-opacity="0.50"/><rect x="127.2" y="72.8" width="5.4" height="2" fill-opacity="0.50"/><rect x="127.2" y="74.8" width="5.4" height="2" fill-opacity="0.50"/><rect x="127.2" y="76.8" width="5.4" height="2" fill-opacity="0.50"/><rect x="127.2" y="78.8" width="5.4" height="2" fill-opacity="0.50"/><rect x="127.2" y="80.8" width="5.4" height="2" fill-opacity="0.50"/><rect x="127.2" y="82.8" width="5.4" height="2" fill-opacity="0.50"/><rect x="127.2" y="84.8" width="5.4" height="2" fill-opacity="0.50"/><rect x="127.2" y="86.8" width="5.4" height="2" fill-opacity="0.50"/><rect x="127.2" y="88.8" width="5.4" height="2" fill-opacity="0.50"/><rect x="127.2" y="90.8" width="5.4" height="2" fill-opacity="0.50"/><rect x="127.2" y="92.8" width="5.4" height="2" fill-opacity="0.50"/><rect x="127.2" y="94.8" width="5.4" height="2" fill-opacity="0.50"/><rect x="127.2" y="96.8" width="5.4" height="2" fill-opacity="0.47"/><rect x="127.2" y="98.8" width="5.4" height="2" fill-opacity="0.43"/><rect x="127.2" y="100.8" width="5.4" height="2" fill-opacity="0.38"/><rect x="127.2" y="102.8" width="5.4" height="2" fill-opacity="0.32"/><rect x="127.2" y="104.8" width="5.4" height="2" fill-opacity="0.25"/><rect x="127.2" y="106.8" width="5.4" height="2" fill-opacity="0.18"/><rect x="127.2" y="108.8" width="5.4" height="2" fill-opacity="0.12"/><rect x="127.2" y="110.8" width="5.4" height="2" fill-opacity="0.07"/><rect x="127.2" y="112.8" width="5.4" height="2" fill-opacity="0.03"/></g>
<g fill="url(#gPurW)" shape-rendering="crispEdges" filter="url(#fsoft2)"><rect x="173.3" y="28.799999999999997" width="38.2" height="2" fill-opacity="0.07"/><rect x="174.2" y="30.799999999999997" width="36.5" height="2" fill-opacity="0.17"/><rect x="175.0" y="32.8" width="34.8" height="2" fill-opacity="0.28"/><rect x="175.8" y="34.8" width="33.1" height="2" fill-opacity="0.38"/><rect x="176.7" y="36.8" width="31.4" height="2" fill-opacity="0.44"/><rect x="177.5" y="38.8" width="29.8" height="2" fill-opacity="0.45"/><rect x="178.4" y="40.8" width="28.1" height="2" fill-opacity="0.45"/><rect x="179.2" y="42.8" width="26.4" height="2" fill-opacity="0.45"/><rect x="180.0" y="44.8" width="24.7" height="2" fill-opacity="0.45"/><rect x="180.9" y="46.8" width="23.1" height="2" fill-opacity="0.45"/><rect x="181.7" y="48.8" width="21.4" height="2" fill-opacity="0.45"/><rect x="182.5" y="50.8" width="19.8" height="2" fill-opacity="0.45"/><rect x="183.3" y="52.8" width="18.2" height="2" fill-opacity="0.45"/><rect x="184.1" y="54.8" width="16.6" height="2" fill-opacity="0.45"/><rect x="184.9" y="56.8" width="15.0" height="2" fill-opacity="0.45"/><rect x="185.7" y="58.8" width="13.4" height="2" fill-opacity="0.45"/><rect x="186.4" y="60.8" width="11.9" height="2" fill-opacity="0.45"/><rect x="187.2" y="62.8" width="10.5" height="2" fill-opacity="0.45"/><rect x="187.8" y="64.8" width="9.1" height="2" fill-opacity="0.45"/><rect x="188.4" y="66.8" width="7.9" height="2" fill-opacity="0.45"/><rect x="188.9" y="68.8" width="6.9" height="2" fill-opacity="0.45"/><rect x="189.3" y="70.8" width="6.2" height="2" fill-opacity="0.45"/><rect x="189.4" y="72.8" width="6.0" height="2" fill-opacity="0.45"/><rect x="189.3" y="74.8" width="6.2" height="2" fill-opacity="0.45"/><rect x="188.9" y="76.8" width="6.9" height="2" fill-opacity="0.45"/><rect x="188.4" y="78.8" width="7.9" height="2" fill-opacity="0.45"/><rect x="187.8" y="80.8" width="9.1" height="2" fill-opacity="0.45"/><rect x="187.2" y="82.8" width="10.5" height="2" fill-opacity="0.45"/><rect x="186.4" y="84.8" width="11.9" height="2" fill-opacity="0.45"/><rect x="185.7" y="86.8" width="13.4" height="2" fill-opacity="0.45"/><rect x="184.9" y="88.8" width="15.0" height="2" fill-opacity="0.45"/><rect x="184.1" y="90.8" width="16.6" height="2" fill-opacity="0.45"/><rect x="183.3" y="92.8" width="18.2" height="2" fill-opacity="0.45"/><rect x="182.5" y="94.8" width="19.8" height="2" fill-opacity="0.45"/><rect x="181.7" y="96.8" width="21.4" height="2" fill-opacity="0.45"/><rect x="180.9" y="98.8" width="23.1" height="2" fill-opacity="0.45"/><rect x="180.0" y="100.8" width="24.7" height="2" fill-opacity="0.45"/><rect x="179.2" y="102.8" width="26.4" height="2" fill-opacity="0.45"/><rect x="178.4" y="104.8" width="28.1" height="2" fill-opacity="0.45"/><rect x="177.5" y="106.8" width="29.8" height="2" fill-opacity="0.45"/><rect x="176.7" y="108.8" width="31.4" height="2" fill-opacity="0.44"/><rect x="175.8" y="110.8" width="33.1" height="2" fill-opacity="0.38"/><rect x="175.0" y="112.8" width="34.8" height="2" fill-opacity="0.28"/><rect x="174.2" y="114.8" width="36.5" height="2" fill-opacity="0.17"/><rect x="173.3" y="116.8" width="38.2" height="2" fill-opacity="0.07"/></g>
<g fill="url(#gPurC)" shape-rendering="crispEdges" filter="url(#fsoft2)"><rect x="189.7" y="32.8" width="5.4" height="2" fill-opacity="0.03"/><rect x="189.7" y="34.8" width="5.4" height="2" fill-opacity="0.07"/><rect x="189.7" y="36.8" width="5.4" height="2" fill-opacity="0.12"/><rect x="189.7" y="38.8" width="5.4" height="2" fill-opacity="0.18"/><rect x="189.7" y="40.8" width="5.4" height="2" fill-opacity="0.25"/><rect x="189.7" y="42.8" width="5.4" height="2" fill-opacity="0.32"/><rect x="189.7" y="44.8" width="5.4" height="2" fill-opacity="0.38"/><rect x="189.7" y="46.8" width="5.4" height="2" fill-opacity="0.43"/><rect x="189.7" y="48.8" width="5.4" height="2" fill-opacity="0.47"/><rect x="189.7" y="50.8" width="5.4" height="2" fill-opacity="0.50"/><rect x="189.7" y="52.8" width="5.4" height="2" fill-opacity="0.50"/><rect x="189.7" y="54.8" width="5.4" height="2" fill-opacity="0.50"/><rect x="189.7" y="56.8" width="5.4" height="2" fill-opacity="0.50"/><rect x="189.7" y="58.8" width="5.4" height="2" fill-opacity="0.50"/><rect x="189.7" y="60.8" width="5.4" height="2" fill-opacity="0.50"/><rect x="189.7" y="62.8" width="5.4" height="2" fill-opacity="0.50"/><rect x="189.7" y="64.8" width="5.4" height="2" fill-opacity="0.50"/><rect x="189.7" y="66.8" width="5.4" height="2" fill-opacity="0.50"/><rect x="189.7" y="68.8" width="5.4" height="2" fill-opacity="0.50"/><rect x="189.7" y="70.8" width="5.4" height="2" fill-opacity="0.50"/><rect x="189.7" y="72.8" width="5.4" height="2" fill-opacity="0.50"/><rect x="189.7" y="74.8" width="5.4" height="2" fill-opacity="0.50"/><rect x="189.7" y="76.8" width="5.4" height="2" fill-opacity="0.50"/><rect x="189.7" y="78.8" width="5.4" height="2" fill-opacity="0.50"/><rect x="189.7" y="80.8" width="5.4" height="2" fill-opacity="0.50"/><rect x="189.7" y="82.8" width="5.4" height="2" fill-opacity="0.50"/><rect x="189.7" y="84.8" width="5.4" height="2" fill-opacity="0.50"/><rect x="189.7" y="86.8" width="5.4" height="2" fill-opacity="0.50"/><rect x="189.7" y="88.8" width="5.4" height="2" fill-opacity="0.50"/><rect x="189.7" y="90.8" width="5.4" height="2" fill-opacity="0.50"/><rect x="189.7" y="92.8" width="5.4" height="2" fill-opacity="0.50"/><rect x="189.7" y="94.8" width="5.4" height="2" fill-opacity="0.50"/><rect x="189.7" y="96.8" width="5.4" height="2" fill-opacity="0.47"/><rect x="189.7" y="98.8" width="5.4" height="2" fill-opacity="0.43"/><rect x="189.7" y="100.8" width="5.4" height="2" fill-opacity="0.38"/><rect x="189.7" y="102.8" width="5.4" height="2" fill-opacity="0.32"/><rect x="189.7" y="104.8" width="5.4" height="2" fill-opacity="0.25"/><rect x="189.7" y="106.8" width="5.4" height="2" fill-opacity="0.18"/><rect x="189.7" y="108.8" width="5.4" height="2" fill-opacity="0.12"/><rect x="189.7" y="110.8" width="5.4" height="2" fill-opacity="0.07"/><rect x="189.7" y="112.8" width="5.4" height="2" fill-opacity="0.03"/></g>
<g fill="url(#gPurW)" shape-rendering="crispEdges" filter="url(#fsoft2)"><rect x="236.2" y="28.799999999999997" width="38.2" height="2" fill-opacity="0.07"/><rect x="237.1" y="30.799999999999997" width="36.5" height="2" fill-opacity="0.17"/><rect x="237.9" y="32.8" width="34.8" height="2" fill-opacity="0.28"/><rect x="238.7" y="34.8" width="33.1" height="2" fill-opacity="0.38"/><rect x="239.6" y="36.8" width="31.4" height="2" fill-opacity="0.44"/><rect x="240.4" y="38.8" width="29.8" height="2" fill-opacity="0.45"/><rect x="241.3" y="40.8" width="28.1" height="2" fill-opacity="0.45"/><rect x="242.1" y="42.8" width="26.4" height="2" fill-opacity="0.45"/><rect x="242.9" y="44.8" width="24.7" height="2" fill-opacity="0.45"/><rect x="243.8" y="46.8" width="23.1" height="2" fill-opacity="0.45"/><rect x="244.6" y="48.8" width="21.4" height="2" fill-opacity="0.45"/><rect x="245.4" y="50.8" width="19.8" height="2" fill-opacity="0.45"/><rect x="246.2" y="52.8" width="18.2" height="2" fill-opacity="0.45"/><rect x="247.0" y="54.8" width="16.6" height="2" fill-opacity="0.45"/><rect x="247.8" y="56.8" width="15.0" height="2" fill-opacity="0.45"/><rect x="248.6" y="58.8" width="13.4" height="2" fill-opacity="0.45"/><rect x="249.3" y="60.8" width="11.9" height="2" fill-opacity="0.45"/><rect x="250.1" y="62.8" width="10.5" height="2" fill-opacity="0.45"/><rect x="250.7" y="64.8" width="9.1" height="2" fill-opacity="0.45"/><rect x="251.3" y="66.8" width="7.9" height="2" fill-opacity="0.45"/><rect x="251.8" y="68.8" width="6.9" height="2" fill-opacity="0.45"/><rect x="252.2" y="70.8" width="6.2" height="2" fill-opacity="0.45"/><rect x="252.3" y="72.8" width="6.0" height="2" fill-opacity="0.45"/><rect x="252.2" y="74.8" width="6.2" height="2" fill-opacity="0.45"/><rect x="251.8" y="76.8" width="6.9" height="2" fill-opacity="0.45"/><rect x="251.3" y="78.8" width="7.9" height="2" fill-opacity="0.45"/><rect x="250.7" y="80.8" width="9.1" height="2" fill-opacity="0.45"/><rect x="250.1" y="82.8" width="10.5" height="2" fill-opacity="0.45"/><rect x="249.3" y="84.8" width="11.9" height="2" fill-opacity="0.45"/><rect x="248.6" y="86.8" width="13.4" height="2" fill-opacity="0.45"/><rect x="247.8" y="88.8" width="15.0" height="2" fill-opacity="0.45"/><rect x="247.0" y="90.8" width="16.6" height="2" fill-opacity="0.45"/><rect x="246.2" y="92.8" width="18.2" height="2" fill-opacity="0.45"/><rect x="245.4" y="94.8" width="19.8" height="2" fill-opacity="0.45"/><rect x="244.6" y="96.8" width="21.4" height="2" fill-opacity="0.45"/><rect x="243.8" y="98.8" width="23.1" height="2" fill-opacity="0.45"/><rect x="242.9" y="100.8" width="24.7" height="2" fill-opacity="0.45"/><rect x="242.1" y="102.8" width="26.4" height="2" fill-opacity="0.45"/><rect x="241.3" y="104.8" width="28.1" height="2" fill-opacity="0.45"/><rect x="240.4" y="106.8" width="29.8" height="2" fill-opacity="0.45"/><rect x="239.6" y="108.8" width="31.4" height="2" fill-opacity="0.44"/><rect x="238.7" y="110.8" width="33.1" height="2" fill-opacity="0.38"/><rect x="237.9" y="112.8" width="34.8" height="2" fill-opacity="0.28"/><rect x="237.1" y="114.8" width="36.5" height="2" fill-opacity="0.17"/><rect x="236.2" y="116.8" width="38.2" height="2" fill-opacity="0.07"/></g>
<g fill="url(#gPurC)" shape-rendering="crispEdges" filter="url(#fsoft2)"><rect x="252.6" y="32.8" width="5.4" height="2" fill-opacity="0.03"/><rect x="252.6" y="34.8" width="5.4" height="2" fill-opacity="0.07"/><rect x="252.6" y="36.8" width="5.4" height="2" fill-opacity="0.12"/><rect x="252.6" y="38.8" width="5.4" height="2" fill-opacity="0.18"/><rect x="252.6" y="40.8" width="5.4" height="2" fill-opacity="0.25"/><rect x="252.6" y="42.8" width="5.4" height="2" fill-opacity="0.32"/><rect x="252.6" y="44.8" width="5.4" height="2" fill-opacity="0.38"/><rect x="252.6" y="46.8" width="5.4" height="2" fill-opacity="0.43"/><rect x="252.6" y="48.8" width="5.4" height="2" fill-opacity="0.47"/><rect x="252.6" y="50.8" width="5.4" height="2" fill-opacity="0.50"/><rect x="252.6" y="52.8" width="5.4" height="2" fill-opacity="0.50"/><rect x="252.6" y="54.8" width="5.4" height="2" fill-opacity="0.50"/><rect x="252.6" y="56.8" width="5.4" height="2" fill-opacity="0.50"/><rect x="252.6" y="58.8" width="5.4" height="2" fill-opacity="0.50"/><rect x="252.6" y="60.8" width="5.4" height="2" fill-opacity="0.50"/><rect x="252.6" y="62.8" width="5.4" height="2" fill-opacity="0.50"/><rect x="252.6" y="64.8" width="5.4" height="2" fill-opacity="0.50"/><rect x="252.6" y="66.8" width="5.4" height="2" fill-opacity="0.50"/><rect x="252.6" y="68.8" width="5.4" height="2" fill-opacity="0.50"/><rect x="252.6" y="70.8" width="5.4" height="2" fill-opacity="0.50"/><rect x="252.6" y="72.8" width="5.4" height="2" fill-opacity="0.50"/><rect x="252.6" y="74.8" width="5.4" height="2" fill-opacity="0.50"/><rect x="252.6" y="76.8" width="5.4" height="2" fill-opacity="0.50"/><rect x="252.6" y="78.8" width="5.4" height="2" fill-opacity="0.50"/><rect x="252.6" y="80.8" width="5.4" height="2" fill-opacity="0.50"/><rect x="252.6" y="82.8" width="5.4" height="2" fill-opacity="0.50"/><rect x="252.6" y="84.8" width="5.4" height="2" fill-opacity="0.50"/><rect x="252.6" y="86.8" width="5.4" height="2" fill-opacity="0.50"/><rect x="252.6" y="88.8" width="5.4" height="2" fill-opacity="0.50"/><rect x="252.6" y="90.8" width="5.4" height="2" fill-opacity="0.50"/><rect x="252.6" y="92.8" width="5.4" height="2" fill-opacity="0.50"/><rect x="252.6" y="94.8" width="5.4" height="2" fill-opacity="0.50"/><rect x="252.6" y="96.8" width="5.4" height="2" fill-opacity="0.47"/><rect x="252.6" y="98.8" width="5.4" height="2" fill-opacity="0.43"/><rect x="252.6" y="100.8" width="5.4" height="2" fill-opacity="0.38"/><rect x="252.6" y="102.8" width="5.4" height="2" fill-opacity="0.32"/><rect x="252.6" y="104.8" width="5.4" height="2" fill-opacity="0.25"/><rect x="252.6" y="106.8" width="5.4" height="2" fill-opacity="0.18"/><rect x="252.6" y="108.8" width="5.4" height="2" fill-opacity="0.12"/><rect x="252.6" y="110.8" width="5.4" height="2" fill-opacity="0.07"/><rect x="252.6" y="112.8" width="5.4" height="2" fill-opacity="0.03"/></g>
<g fill="url(#gPurW)" shape-rendering="crispEdges" filter="url(#fsoft2)"><rect x="298.4" y="28.799999999999997" width="38.2" height="2" fill-opacity="0.07"/><rect x="299.3" y="30.799999999999997" width="36.5" height="2" fill-opacity="0.17"/><rect x="300.1" y="32.8" width="34.8" height="2" fill-opacity="0.28"/><rect x="300.9" y="34.8" width="33.1" height="2" fill-opacity="0.38"/><rect x="301.8" y="36.8" width="31.4" height="2" fill-opacity="0.44"/><rect x="302.6" y="38.8" width="29.8" height="2" fill-opacity="0.45"/><rect x="303.5" y="40.8" width="28.1" height="2" fill-opacity="0.45"/><rect x="304.3" y="42.8" width="26.4" height="2" fill-opacity="0.45"/><rect x="305.1" y="44.8" width="24.7" height="2" fill-opacity="0.45"/><rect x="306.0" y="46.8" width="23.1" height="2" fill-opacity="0.45"/><rect x="306.8" y="48.8" width="21.4" height="2" fill-opacity="0.45"/><rect x="307.6" y="50.8" width="19.8" height="2" fill-opacity="0.45"/><rect x="308.4" y="52.8" width="18.2" height="2" fill-opacity="0.45"/><rect x="309.2" y="54.8" width="16.6" height="2" fill-opacity="0.45"/><rect x="310.0" y="56.8" width="15.0" height="2" fill-opacity="0.45"/><rect x="310.8" y="58.8" width="13.4" height="2" fill-opacity="0.45"/><rect x="311.5" y="60.8" width="11.9" height="2" fill-opacity="0.45"/><rect x="312.3" y="62.8" width="10.5" height="2" fill-opacity="0.45"/><rect x="312.9" y="64.8" width="9.1" height="2" fill-opacity="0.45"/><rect x="313.5" y="66.8" width="7.9" height="2" fill-opacity="0.45"/><rect x="314.0" y="68.8" width="6.9" height="2" fill-opacity="0.45"/><rect x="314.4" y="70.8" width="6.2" height="2" fill-opacity="0.45"/><rect x="314.5" y="72.8" width="6.0" height="2" fill-opacity="0.45"/><rect x="314.4" y="74.8" width="6.2" height="2" fill-opacity="0.45"/><rect x="314.0" y="76.8" width="6.9" height="2" fill-opacity="0.45"/><rect x="313.5" y="78.8" width="7.9" height="2" fill-opacity="0.45"/><rect x="312.9" y="80.8" width="9.1" height="2" fill-opacity="0.45"/><rect x="312.3" y="82.8" width="10.5" height="2" fill-opacity="0.45"/><rect x="311.5" y="84.8" width="11.9" height="2" fill-opacity="0.45"/><rect x="310.8" y="86.8" width="13.4" height="2" fill-opacity="0.45"/><rect x="310.0" y="88.8" width="15.0" height="2" fill-opacity="0.45"/><rect x="309.2" y="90.8" width="16.6" height="2" fill-opacity="0.45"/><rect x="308.4" y="92.8" width="18.2" height="2" fill-opacity="0.45"/><rect x="307.6" y="94.8" width="19.8" height="2" fill-opacity="0.45"/><rect x="306.8" y="96.8" width="21.4" height="2" fill-opacity="0.45"/><rect x="306.0" y="98.8" width="23.1" height="2" fill-opacity="0.45"/><rect x="305.1" y="100.8" width="24.7" height="2" fill-opacity="0.45"/><rect x="304.3" y="102.8" width="26.4" height="2" fill-opacity="0.45"/><rect x="303.5" y="104.8" width="28.1" height="2" fill-opacity="0.45"/><rect x="302.6" y="106.8" width="29.8" height="2" fill-opacity="0.45"/><rect x="301.8" y="108.8" width="31.4" height="2" fill-opacity="0.44"/><rect x="300.9" y="110.8" width="33.1" height="2" fill-opacity="0.38"/><rect x="300.1" y="112.8" width="34.8" height="2" fill-opacity="0.28"/><rect x="299.3" y="114.8" width="36.5" height="2" fill-opacity="0.17"/><rect x="298.4" y="116.8" width="38.2" height="2" fill-opacity="0.07"/></g>
<g fill="url(#gPurC)" shape-rendering="crispEdges" filter="url(#fsoft2)"><rect x="314.8" y="32.8" width="5.4" height="2" fill-opacity="0.03"/><rect x="314.8" y="34.8" width="5.4" height="2" fill-opacity="0.07"/><rect x="314.8" y="36.8" width="5.4" height="2" fill-opacity="0.12"/><rect x="314.8" y="38.8" width="5.4" height="2" fill-opacity="0.18"/><rect x="314.8" y="40.8" width="5.4" height="2" fill-opacity="0.25"/><rect x="314.8" y="42.8" width="5.4" height="2" fill-opacity="0.32"/><rect x="314.8" y="44.8" width="5.4" height="2" fill-opacity="0.38"/><rect x="314.8" y="46.8" width="5.4" height="2" fill-opacity="0.43"/><rect x="314.8" y="48.8" width="5.4" height="2" fill-opacity="0.47"/><rect x="314.8" y="50.8" width="5.4" height="2" fill-opacity="0.50"/><rect x="314.8" y="52.8" width="5.4" height="2" fill-opacity="0.50"/><rect x="314.8" y="54.8" width="5.4" height="2" fill-opacity="0.50"/><rect x="314.8" y="56.8" width="5.4" height="2" fill-opacity="0.50"/><rect x="314.8" y="58.8" width="5.4" height="2" fill-opacity="0.50"/><rect x="314.8" y="60.8" width="5.4" height="2" fill-opacity="0.50"/><rect x="314.8" y="62.8" width="5.4" height="2" fill-opacity="0.50"/><rect x="314.8" y="64.8" width="5.4" height="2" fill-opacity="0.50"/><rect x="314.8" y="66.8" width="5.4" height="2" fill-opacity="0.50"/><rect x="314.8" y="68.8" width="5.4" height="2" fill-opacity="0.50"/><rect x="314.8" y="70.8" width="5.4" height="2" fill-opacity="0.50"/><rect x="314.8" y="72.8" width="5.4" height="2" fill-opacity="0.50"/><rect x="314.8" y="74.8" width="5.4" height="2" fill-opacity="0.50"/><rect x="314.8" y="76.8" width="5.4" height="2" fill-opacity="0.50"/><rect x="314.8" y="78.8" width="5.4" height="2" fill-opacity="0.50"/><rect x="314.8" y="80.8" width="5.4" height="2" fill-opacity="0.50"/><rect x="314.8" y="82.8" width="5.4" height="2" fill-opacity="0.50"/><rect x="314.8" y="84.8" width="5.4" height="2" fill-opacity="0.50"/><rect x="314.8" y="86.8" width="5.4" height="2" fill-opacity="0.50"/><rect x="314.8" y="88.8" width="5.4" height="2" fill-opacity="0.50"/><rect x="314.8" y="90.8" width="5.4" height="2" fill-opacity="0.50"/><rect x="314.8" y="92.8" width="5.4" height="2" fill-opacity="0.50"/><rect x="314.8" y="94.8" width="5.4" height="2" fill-opacity="0.50"/><rect x="314.8" y="96.8" width="5.4" height="2" fill-opacity="0.47"/><rect x="314.8" y="98.8" width="5.4" height="2" fill-opacity="0.43"/><rect x="314.8" y="100.8" width="5.4" height="2" fill-opacity="0.38"/><rect x="314.8" y="102.8" width="5.4" height="2" fill-opacity="0.32"/><rect x="314.8" y="104.8" width="5.4" height="2" fill-opacity="0.25"/><rect x="314.8" y="106.8" width="5.4" height="2" fill-opacity="0.18"/><rect x="314.8" y="108.8" width="5.4" height="2" fill-opacity="0.12"/><rect x="314.8" y="110.8" width="5.4" height="2" fill-opacity="0.07"/><rect x="314.8" y="112.8" width="5.4" height="2" fill-opacity="0.03"/></g>
<circle cx="68" cy="73.8" r="4.85" fill="#fff" stroke="#111" stroke-width="1.3"/>
<circle cx="86.2" cy="73.8" r="4.85" fill="#fff" stroke="#111" stroke-width="1.3"/>
<circle cx="129.9" cy="73.8" r="4.85" fill="#fff" stroke="#111" stroke-width="1.3"/>
<circle cx="148.3" cy="73.8" r="4.85" fill="#fff" stroke="#111" stroke-width="1.3"/>
<circle cx="192.4" cy="73.8" r="4.85" fill="#fff" stroke="#111" stroke-width="1.3"/>
<circle cx="210.3" cy="73.8" r="4.85" fill="#fff" stroke="#111" stroke-width="1.3"/>
<circle cx="255.3" cy="73.8" r="4.85" fill="#fff" stroke="#111" stroke-width="1.3"/>
<circle cx="273.3" cy="73.8" r="4.85" fill="#fff" stroke="#111" stroke-width="1.3"/>
<circle cx="317.5" cy="73.8" r="4.85" fill="#fff" stroke="#111" stroke-width="1.3"/>
<circle cx="335.4" cy="73.8" r="4.85" fill="#fff" stroke="#111" stroke-width="1.3"/>
<g fill="url(#gRed)" shape-rendering="crispEdges" filter="url(#fsoft)"><rect x="469" y="41.8" width="3" height="64.0" fill-opacity="0.04"/><rect x="472" y="42.2" width="3" height="63.3" fill-opacity="0.09"/><rect x="475" y="42.5" width="3" height="62.5" fill-opacity="0.17"/><rect x="478" y="42.9" width="3" height="61.8" fill-opacity="0.26"/><rect x="481" y="43.3" width="3" height="61.1" fill-opacity="0.37"/><rect x="484" y="43.6" width="3" height="60.4" fill-opacity="0.48"/><rect x="487" y="44.0" width="3" height="59.6" fill-opacity="0.59"/><rect x="490" y="44.3" width="3" height="58.9" fill-opacity="0.70"/><rect x="493" y="44.7" width="3" height="58.2" fill-opacity="0.80"/><rect x="496" y="45.0" width="3" height="57.5" fill-opacity="0.88"/><rect x="499" y="45.4" width="3" height="56.8" fill-opacity="0.95"/><rect x="502" y="45.7" width="3" height="56.1" fill-opacity="0.99"/><rect x="505" y="46.1" width="3" height="55.4" fill-opacity="1.00"/><rect x="508" y="46.4" width="3" height="54.8" fill-opacity="1.00"/><rect x="511" y="46.8" width="3" height="54.1" fill-opacity="1.00"/><rect x="514" y="47.1" width="3" height="53.4" fill-opacity="1.00"/><rect x="517" y="47.4" width="3" height="52.7" fill-opacity="1.00"/><rect x="520" y="47.8" width="3" height="52.1" fill-opacity="1.00"/><rect x="523" y="48.1" width="3" height="51.4" fill-opacity="1.00"/><rect x="526" y="48.4" width="3" height="50.8" fill-opacity="1.00"/><rect x="529" y="48.7" width="3" height="50.2" fill-opacity="1.00"/><rect x="532" y="49.0" width="3" height="49.6" fill-opacity="1.00"/><rect x="535" y="49.3" width="3" height="48.9" fill-opacity="1.00"/><rect x="538" y="49.6" width="3" height="48.3" fill-opacity="1.00"/><rect x="541" y="49.9" width="3" height="47.7" fill-opacity="1.00"/><rect x="544" y="50.2" width="3" height="47.2" fill-opacity="1.00"/><rect x="547" y="50.5" width="3" height="46.6" fill-opacity="1.00"/><rect x="550" y="50.8" width="3" height="46.0" fill-opacity="1.00"/><rect x="553" y="51.1" width="3" height="45.5" fill-opacity="1.00"/><rect x="556" y="51.3" width="3" height="44.9" fill-opacity="1.00"/><rect x="559" y="51.6" width="3" height="44.4" fill-opacity="1.00"/><rect x="562" y="51.9" width="3" height="43.9" fill-opacity="1.00"/><rect x="565" y="52.1" width="3" height="43.3" fill-opacity="1.00"/><rect x="568" y="52.4" width="3" height="42.9" fill-opacity="1.00"/><rect x="571" y="52.6" width="3" height="42.4" fill-opacity="1.00"/><rect x="574" y="52.8" width="3" height="41.9" fill-opacity="1.00"/><rect x="577" y="53.1" width="3" height="41.5" fill-opacity="1.00"/><rect x="580" y="53.3" width="3" height="41.0" fill-opacity="1.00"/><rect x="583" y="53.5" width="3" height="40.6" fill-opacity="1.00"/><rect x="586" y="53.7" width="3" height="40.2" fill-opacity="1.00"/><rect x="589" y="53.9" width="3" height="39.8" fill-opacity="1.00"/><rect x="592" y="54.1" width="3" height="39.4" fill-opacity="1.00"/><rect x="595" y="54.3" width="3" height="39.1" fill-opacity="1.00"/><rect x="598" y="54.4" width="3" height="38.7" fill-opacity="1.00"/><rect x="601" y="54.6" width="3" height="38.4" fill-opacity="1.00"/><rect x="604" y="54.8" width="3" height="38.1" fill-opacity="1.00"/><rect x="607" y="54.9" width="3" height="37.8" fill-opacity="1.00"/><rect x="610" y="55.0" width="3" height="37.5" fill-opacity="1.00"/><rect x="613" y="55.2" width="3" height="37.3" fill-opacity="1.00"/><rect x="616" y="55.3" width="3" height="37.1" fill-opacity="1.00"/><rect x="619" y="55.4" width="3" height="36.9" fill-opacity="1.00"/><rect x="622" y="55.5" width="3" height="36.7" fill-opacity="1.00"/><rect x="625" y="55.5" width="3" height="36.5" fill-opacity="1.00"/><rect x="628" y="55.6" width="3" height="36.4" fill-opacity="1.00"/><rect x="631" y="55.7" width="3" height="36.3" fill-opacity="1.00"/><rect x="634" y="55.7" width="3" height="36.2" fill-opacity="1.00"/><rect x="637" y="55.8" width="3" height="36.1" fill-opacity="1.00"/><rect x="640" y="55.8" width="3" height="36.0" fill-opacity="1.00"/><rect x="643" y="55.8" width="3" height="36.0" fill-opacity="1.00"/><rect x="646" y="55.8" width="3" height="36.0" fill-opacity="1.00"/><rect x="649" y="55.8" width="3" height="36.0" fill-opacity="1.00"/><rect x="652" y="55.8" width="3" height="36.1" fill-opacity="1.00"/><rect x="655" y="55.7" width="3" height="36.1" fill-opacity="1.00"/><rect x="658" y="55.7" width="3" height="36.2" fill-opacity="1.00"/><rect x="661" y="55.7" width="3" height="36.3" fill-opacity="1.00"/><rect x="664" y="55.6" width="3" height="36.4" fill-opacity="1.00"/><rect x="667" y="55.5" width="3" height="36.6" fill-opacity="1.00"/><rect x="670" y="55.4" width="3" height="36.7" fill-opacity="1.00"/><rect x="673" y="55.3" width="3" height="36.9" fill-opacity="1.00"/><rect x="676" y="55.2" width="3" height="37.1" fill-opacity="1.00"/><rect x="679" y="55.1" width="3" height="37.4" fill-opacity="1.00"/><rect x="682" y="55.0" width="3" height="37.6" fill-opacity="1.00"/><rect x="685" y="54.8" width="3" height="37.9" fill-opacity="1.00"/><rect x="688" y="54.7" width="3" height="38.2" fill-opacity="1.00"/><rect x="691" y="54.5" width="3" height="38.5" fill-opacity="1.00"/><rect x="694" y="54.4" width="3" height="38.8" fill-opacity="1.00"/><rect x="697" y="54.2" width="3" height="39.2" fill-opacity="1.00"/><rect x="700" y="54.0" width="3" height="39.5" fill-opacity="1.00"/><rect x="703" y="53.8" width="3" height="39.9" fill-opacity="1.00"/><rect x="706" y="53.6" width="3" height="40.3" fill-opacity="1.00"/><rect x="709" y="53.4" width="3" height="40.7" fill-opacity="1.00"/><rect x="712" y="53.2" width="3" height="41.2" fill-opacity="1.00"/><rect x="715" y="53.0" width="3" height="41.6" fill-opacity="1.00"/><rect x="718" y="52.8" width="3" height="42.1" fill-opacity="1.00"/><rect x="721" y="52.5" width="3" height="42.5" fill-opacity="1.00"/><rect x="724" y="52.3" width="3" height="43.0" fill-opacity="1.00"/><rect x="727" y="52.0" width="3" height="43.5" fill-opacity="1.00"/><rect x="730" y="51.8" width="3" height="44.0" fill-opacity="1.00"/><rect x="733" y="51.5" width="3" height="44.6" fill-opacity="1.00"/><rect x="736" y="51.3" width="3" height="45.1" fill-opacity="1.00"/><rect x="739" y="51.0" width="3" height="45.6" fill-opacity="1.00"/><rect x="742" y="50.7" width="3" height="46.2" fill-opacity="1.00"/><rect x="745" y="50.4" width="3" height="46.8" fill-opacity="1.00"/><rect x="748" y="50.1" width="3" height="47.3" fill-opacity="1.00"/><rect x="751" y="49.8" width="3" height="47.9" fill-opacity="1.00"/><rect x="754" y="49.5" width="3" height="48.5" fill-opacity="1.00"/><rect x="757" y="49.2" width="3" height="49.1" fill-opacity="1.00"/><rect x="760" y="48.9" width="3" height="49.8" fill-opacity="1.00"/><rect x="763" y="48.6" width="3" height="50.4" fill-opacity="1.00"/><rect x="766" y="48.3" width="3" height="51.0" fill-opacity="1.00"/><rect x="769" y="48.0" width="3" height="51.7" fill-opacity="1.00"/><rect x="772" y="47.6" width="3" height="52.3" fill-opacity="1.00"/><rect x="775" y="47.3" width="3" height="53.0" fill-opacity="1.00"/><rect x="778" y="47.0" width="3" height="53.6" fill-opacity="1.00"/><rect x="781" y="46.7" width="3" height="54.3" fill-opacity="1.00"/><rect x="784" y="46.3" width="3" height="55.0" fill-opacity="1.00"/><rect x="787" y="46.0" width="3" height="55.7" fill-opacity="1.00"/><rect x="790" y="45.6" width="3" height="56.3" fill-opacity="1.00"/><rect x="793" y="45.3" width="3" height="57.0" fill-opacity="0.96"/><rect x="796" y="44.9" width="3" height="57.7" fill-opacity="0.91"/><rect x="799" y="44.6" width="3" height="58.5" fill-opacity="0.83"/><rect x="802" y="44.2" width="3" height="59.2" fill-opacity="0.74"/><rect x="805" y="43.9" width="3" height="59.9" fill-opacity="0.63"/><rect x="808" y="43.5" width="3" height="60.6" fill-opacity="0.52"/><rect x="811" y="43.1" width="3" height="61.3" fill-opacity="0.41"/><rect x="814" y="42.8" width="3" height="62.1" fill-opacity="0.30"/><rect x="817" y="42.4" width="3" height="62.8" fill-opacity="0.20"/><rect x="820" y="42.0" width="3" height="63.5" fill-opacity="0.12"/><rect x="823" y="41.7" width="3" height="64.3" fill-opacity="0.05"/><rect x="826" y="41.3" width="3" height="65.0" fill-opacity="0.01"/></g>
<g fill="url(#gCyan)" shape-rendering="crispEdges" filter="url(#fsoft)"><rect x="453" y="53.3" width="3" height="41.0" fill-opacity="0.03"/><rect x="456" y="53.6" width="3" height="40.4" fill-opacity="0.08"/><rect x="459" y="53.9" width="3" height="39.8" fill-opacity="0.14"/><rect x="462" y="54.2" width="3" height="39.3" fill-opacity="0.23"/><rect x="465" y="54.4" width="3" height="38.7" fill-opacity="0.31"/><rect x="468" y="54.7" width="3" height="38.2" fill-opacity="0.41"/><rect x="471" y="55.0" width="3" height="37.6" fill-opacity="0.50"/><rect x="474" y="55.3" width="3" height="37.0" fill-opacity="0.60"/><rect x="477" y="55.6" width="3" height="36.5" fill-opacity="0.68"/><rect x="480" y="55.8" width="3" height="35.9" fill-opacity="0.75"/><rect x="483" y="56.1" width="3" height="35.4" fill-opacity="0.81"/><rect x="486" y="56.4" width="3" height="34.8" fill-opacity="0.84"/><rect x="489" y="56.7" width="3" height="34.3" fill-opacity="0.85"/><rect x="492" y="56.9" width="3" height="33.7" fill-opacity="0.85"/><rect x="495" y="57.2" width="3" height="33.2" fill-opacity="0.85"/><rect x="498" y="57.5" width="3" height="32.7" fill-opacity="0.85"/><rect x="501" y="57.7" width="3" height="32.1" fill-opacity="0.85"/><rect x="504" y="58.0" width="3" height="31.6" fill-opacity="0.85"/><rect x="507" y="58.3" width="3" height="31.0" fill-opacity="0.85"/><rect x="510" y="58.5" width="3" height="30.5" fill-opacity="0.85"/><rect x="513" y="58.8" width="3" height="30.0" fill-opacity="0.85"/><rect x="516" y="59.1" width="3" height="29.4" fill-opacity="0.85"/><rect x="519" y="59.3" width="3" height="28.9" fill-opacity="0.85"/><rect x="522" y="59.6" width="3" height="28.4" fill-opacity="0.85"/><rect x="525" y="59.9" width="3" height="27.9" fill-opacity="0.85"/><rect x="528" y="60.1" width="3" height="27.4" fill-opacity="0.85"/><rect x="531" y="60.4" width="3" height="26.8" fill-opacity="0.85"/><rect x="534" y="60.6" width="3" height="26.3" fill-opacity="0.85"/><rect x="537" y="60.9" width="3" height="25.8" fill-opacity="0.85"/><rect x="540" y="61.1" width="3" height="25.3" fill-opacity="0.85"/><rect x="543" y="61.4" width="3" height="24.8" fill-opacity="0.85"/><rect x="546" y="61.6" width="3" height="24.3" fill-opacity="0.85"/><rect x="549" y="61.9" width="3" height="23.8" fill-opacity="0.85"/><rect x="552" y="62.1" width="3" height="23.4" fill-opacity="0.85"/><rect x="555" y="62.4" width="3" height="22.9" fill-opacity="0.85"/><rect x="558" y="62.6" width="3" height="22.4" fill-opacity="0.85"/><rect x="561" y="62.8" width="3" height="21.9" fill-opacity="0.85"/><rect x="564" y="63.1" width="3" height="21.5" fill-opacity="0.85"/><rect x="567" y="63.3" width="3" height="21.0" fill-opacity="0.85"/><rect x="570" y="63.5" width="3" height="20.6" fill-opacity="0.85"/><rect x="573" y="63.7" width="3" height="20.2" fill-opacity="0.85"/><rect x="576" y="63.9" width="3" height="19.7" fill-opacity="0.85"/><rect x="579" y="64.1" width="3" height="19.3" fill-opacity="0.85"/><rect x="582" y="64.3" width="3" height="18.9" fill-opacity="0.85"/><rect x="585" y="64.5" width="3" height="18.5" fill-opacity="0.85"/><rect x="588" y="64.7" width="3" height="18.1" fill-opacity="0.85"/><rect x="591" y="64.9" width="3" height="17.7" fill-opacity="0.85"/><rect x="594" y="65.1" width="3" height="17.4" fill-opacity="0.85"/><rect x="597" y="65.3" width="3" height="17.0" fill-opacity="0.85"/><rect x="600" y="65.5" width="3" height="16.7" fill-opacity="0.85"/><rect x="603" y="65.6" width="3" height="16.4" fill-opacity="0.85"/><rect x="606" y="65.8" width="3" height="16.1" fill-opacity="0.85"/><rect x="609" y="65.9" width="3" height="15.8" fill-opacity="0.85"/><rect x="612" y="66.0" width="3" height="15.5" fill-opacity="0.85"/><rect x="615" y="66.2" width="3" height="15.3" fill-opacity="0.85"/><rect x="618" y="66.3" width="3" height="15.0" fill-opacity="0.85"/><rect x="621" y="66.4" width="3" height="14.8" fill-opacity="0.85"/><rect x="624" y="66.5" width="3" height="14.6" fill-opacity="0.85"/><rect x="627" y="66.6" width="3" height="14.5" fill-opacity="0.85"/><rect x="630" y="66.6" width="3" height="14.3" fill-opacity="0.85"/><rect x="633" y="66.7" width="3" height="14.2" fill-opacity="0.85"/><rect x="636" y="66.7" width="3" height="14.1" fill-opacity="0.85"/><rect x="639" y="66.8" width="3" height="14.1" fill-opacity="0.85"/><rect x="642" y="66.8" width="3" height="14.0" fill-opacity="0.85"/><rect x="645" y="66.8" width="3" height="14.0" fill-opacity="0.85"/><rect x="648" y="66.8" width="3" height="14.0" fill-opacity="0.85"/><rect x="651" y="66.8" width="3" height="14.0" fill-opacity="0.85"/><rect x="654" y="66.7" width="3" height="14.1" fill-opacity="0.85"/><rect x="657" y="66.7" width="3" height="14.2" fill-opacity="0.85"/><rect x="660" y="66.7" width="3" height="14.3" fill-opacity="0.85"/><rect x="663" y="66.6" width="3" height="14.4" fill-opacity="0.85"/><rect x="666" y="66.5" width="3" height="14.6" fill-opacity="0.85"/><rect x="669" y="66.4" width="3" height="14.8" fill-opacity="0.85"/><rect x="672" y="66.3" width="3" height="15.0" fill-opacity="0.85"/><rect x="675" y="66.2" width="3" height="15.2" fill-opacity="0.85"/><rect x="678" y="66.1" width="3" height="15.4" fill-opacity="0.85"/><rect x="681" y="66.0" width="3" height="15.7" fill-opacity="0.85"/><rect x="684" y="65.8" width="3" height="16.0" fill-opacity="0.85"/><rect x="687" y="65.7" width="3" height="16.3" fill-opacity="0.85"/><rect x="690" y="65.5" width="3" height="16.6" fill-opacity="0.85"/><rect x="693" y="65.3" width="3" height="16.9" fill-opacity="0.85"/><rect x="696" y="65.2" width="3" height="17.3" fill-opacity="0.85"/><rect x="699" y="65.0" width="3" height="17.6" fill-opacity="0.85"/><rect x="702" y="64.8" width="3" height="18.0" fill-opacity="0.85"/><rect x="705" y="64.6" width="3" height="18.4" fill-opacity="0.85"/><rect x="708" y="64.4" width="3" height="18.8" fill-opacity="0.85"/><rect x="711" y="64.2" width="3" height="19.2" fill-opacity="0.85"/><rect x="714" y="64.0" width="3" height="19.6" fill-opacity="0.85"/><rect x="717" y="63.8" width="3" height="20.0" fill-opacity="0.85"/><rect x="720" y="63.6" width="3" height="20.4" fill-opacity="0.85"/><rect x="723" y="63.4" width="3" height="20.9" fill-opacity="0.85"/><rect x="726" y="63.1" width="3" height="21.3" fill-opacity="0.85"/><rect x="729" y="62.9" width="3" height="21.8" fill-opacity="0.85"/><rect x="732" y="62.7" width="3" height="22.3" fill-opacity="0.85"/><rect x="735" y="62.4" width="3" height="22.7" fill-opacity="0.85"/><rect x="738" y="62.2" width="3" height="23.2" fill-opacity="0.85"/><rect x="741" y="62.0" width="3" height="23.7" fill-opacity="0.85"/><rect x="744" y="61.7" width="3" height="24.2" fill-opacity="0.85"/><rect x="747" y="61.5" width="3" height="24.7" fill-opacity="0.85"/><rect x="750" y="61.2" width="3" height="25.2" fill-opacity="0.85"/><rect x="753" y="61.0" width="3" height="25.7" fill-opacity="0.85"/><rect x="756" y="60.7" width="3" height="26.2" fill-opacity="0.85"/><rect x="759" y="60.5" width="3" height="26.7" fill-opacity="0.85"/><rect x="762" y="60.2" width="3" height="27.2" fill-opacity="0.85"/><rect x="765" y="60.0" width="3" height="27.7" fill-opacity="0.85"/><rect x="768" y="59.7" width="3" height="28.2" fill-opacity="0.85"/><rect x="771" y="59.4" width="3" height="28.7" fill-opacity="0.85"/><rect x="774" y="59.2" width="3" height="29.3" fill-opacity="0.85"/><rect x="777" y="58.9" width="3" height="29.8" fill-opacity="0.85"/><rect x="780" y="58.6" width="3" height="30.3" fill-opacity="0.85"/><rect x="783" y="58.4" width="3" height="30.9" fill-opacity="0.85"/><rect x="786" y="58.1" width="3" height="31.4" fill-opacity="0.85"/><rect x="789" y="57.8" width="3" height="31.9" fill-opacity="0.85"/><rect x="792" y="57.6" width="3" height="32.5" fill-opacity="0.85"/><rect x="795" y="57.3" width="3" height="33.0" fill-opacity="0.85"/><rect x="798" y="57.0" width="3" height="33.6" fill-opacity="0.85"/><rect x="801" y="56.7" width="3" height="34.1" fill-opacity="0.85"/><rect x="804" y="56.5" width="3" height="34.7" fill-opacity="0.85"/><rect x="807" y="56.2" width="3" height="35.2" fill-opacity="0.84"/><rect x="810" y="55.9" width="3" height="35.8" fill-opacity="0.81"/><rect x="813" y="55.6" width="3" height="36.3" fill-opacity="0.75"/><rect x="816" y="55.4" width="3" height="36.9" fill-opacity="0.68"/><rect x="819" y="55.1" width="3" height="37.4" fill-opacity="0.60"/><rect x="822" y="54.8" width="3" height="38.0" fill-opacity="0.50"/><rect x="825" y="54.5" width="3" height="38.5" fill-opacity="0.41"/><rect x="828" y="54.3" width="3" height="39.1" fill-opacity="0.31"/><rect x="831" y="54.0" width="3" height="39.7" fill-opacity="0.23"/><rect x="834" y="53.7" width="3" height="40.2" fill-opacity="0.14"/><rect x="837" y="53.4" width="3" height="40.8" fill-opacity="0.08"/><rect x="840" y="53.1" width="3" height="41.3" fill-opacity="0.03"/></g>
<g fill="url(#gBlue)" shape-rendering="crispEdges" filter="url(#fsoft)"><rect x="461" y="64.9" width="3" height="17.9" fill-opacity="0.01"/><rect x="464" y="65.0" width="3" height="17.7" fill-opacity="0.03"/><rect x="467" y="65.0" width="3" height="17.5" fill-opacity="0.06"/><rect x="470" y="65.1" width="3" height="17.3" fill-opacity="0.10"/><rect x="473" y="65.2" width="3" height="17.1" fill-opacity="0.14"/><rect x="476" y="65.3" width="3" height="17.0" fill-opacity="0.19"/><rect x="479" y="65.4" width="3" height="16.8" fill-opacity="0.24"/><rect x="482" y="65.5" width="3" height="16.6" fill-opacity="0.30"/><rect x="485" y="65.6" width="3" height="16.4" fill-opacity="0.36"/><rect x="488" y="65.7" width="3" height="16.3" fill-opacity="0.43"/><rect x="491" y="65.8" width="3" height="16.1" fill-opacity="0.49"/><rect x="494" y="65.8" width="3" height="15.9" fill-opacity="0.56"/><rect x="497" y="65.9" width="3" height="15.7" fill-opacity="0.62"/><rect x="500" y="66.0" width="3" height="15.6" fill-opacity="0.68"/><rect x="503" y="66.1" width="3" height="15.4" fill-opacity="0.73"/><rect x="506" y="66.2" width="3" height="15.2" fill-opacity="0.78"/><rect x="509" y="66.3" width="3" height="15.1" fill-opacity="0.82"/><rect x="512" y="66.3" width="3" height="14.9" fill-opacity="0.85"/><rect x="515" y="66.4" width="3" height="14.8" fill-opacity="0.88"/><rect x="518" y="66.5" width="3" height="14.6" fill-opacity="0.89"/><rect x="521" y="66.6" width="3" height="14.5" fill-opacity="0.90"/><rect x="524" y="66.6" width="3" height="14.3" fill-opacity="0.91"/><rect x="527" y="66.7" width="3" height="14.1" fill-opacity="0.92"/><rect x="530" y="66.8" width="3" height="14.0" fill-opacity="0.93"/><rect x="533" y="66.9" width="3" height="13.9" fill-opacity="0.94"/><rect x="536" y="66.9" width="3" height="13.7" fill-opacity="0.95"/><rect x="539" y="67.0" width="3" height="13.6" fill-opacity="0.96"/><rect x="542" y="67.1" width="3" height="13.4" fill-opacity="0.96"/><rect x="545" y="67.2" width="3" height="13.3" fill-opacity="0.97"/><rect x="548" y="67.2" width="3" height="13.2" fill-opacity="0.98"/><rect x="551" y="67.3" width="3" height="13.0" fill-opacity="0.99"/><rect x="554" y="67.3" width="3" height="12.9" fill-opacity="1.00"/><rect x="557" y="67.4" width="3" height="12.8" fill-opacity="1.00"/><rect x="560" y="67.5" width="3" height="12.7" fill-opacity="1.00"/><rect x="563" y="67.5" width="3" height="12.5" fill-opacity="1.00"/><rect x="566" y="67.6" width="3" height="12.4" fill-opacity="1.00"/><rect x="569" y="67.6" width="3" height="12.3" fill-opacity="1.00"/><rect x="572" y="67.7" width="3" height="12.2" fill-opacity="1.00"/><rect x="575" y="67.8" width="3" height="12.1" fill-opacity="1.00"/><rect x="578" y="67.8" width="3" height="12.0" fill-opacity="1.00"/><rect x="581" y="67.9" width="3" height="11.9" fill-opacity="1.00"/><rect x="584" y="67.9" width="3" height="11.8" fill-opacity="1.00"/><rect x="587" y="67.9" width="3" height="11.7" fill-opacity="1.00"/><rect x="590" y="68.0" width="3" height="11.6" fill-opacity="1.00"/><rect x="593" y="68.0" width="3" height="11.5" fill-opacity="1.00"/><rect x="596" y="68.1" width="3" height="11.5" fill-opacity="1.00"/><rect x="599" y="68.1" width="3" height="11.4" fill-opacity="1.00"/><rect x="602" y="68.1" width="3" height="11.3" fill-opacity="1.00"/><rect x="605" y="68.2" width="3" height="11.2" fill-opacity="1.00"/><rect x="608" y="68.2" width="3" height="11.2" fill-opacity="1.00"/><rect x="611" y="68.2" width="3" height="11.1" fill-opacity="1.00"/><rect x="614" y="68.3" width="3" height="11.1" fill-opacity="1.00"/><rect x="617" y="68.3" width="3" height="11.0" fill-opacity="1.00"/><rect x="620" y="68.3" width="3" height="11.0" fill-opacity="1.00"/><rect x="623" y="68.3" width="3" height="10.9" fill-opacity="1.00"/><rect x="626" y="68.3" width="3" height="10.9" fill-opacity="1.00"/><rect x="629" y="68.4" width="3" height="10.9" fill-opacity="1.00"/><rect x="632" y="68.4" width="3" height="10.9" fill-opacity="1.00"/><rect x="635" y="68.4" width="3" height="10.8" fill-opacity="1.00"/><rect x="638" y="68.4" width="3" height="10.8" fill-opacity="1.00"/><rect x="641" y="68.4" width="3" height="10.8" fill-opacity="1.00"/><rect x="644" y="68.4" width="3" height="10.8" fill-opacity="1.00"/><rect x="647" y="68.4" width="3" height="10.8" fill-opacity="1.00"/><rect x="650" y="68.4" width="3" height="10.8" fill-opacity="1.00"/><rect x="653" y="68.4" width="3" height="10.8" fill-opacity="1.00"/><rect x="656" y="68.4" width="3" height="10.8" fill-opacity="1.00"/><rect x="659" y="68.4" width="3" height="10.9" fill-opacity="1.00"/><rect x="662" y="68.4" width="3" height="10.9" fill-opacity="1.00"/><rect x="665" y="68.3" width="3" height="10.9" fill-opacity="1.00"/><rect x="668" y="68.3" width="3" height="10.9" fill-opacity="1.00"/><rect x="671" y="68.3" width="3" height="11.0" fill-opacity="1.00"/><rect x="674" y="68.3" width="3" height="11.0" fill-opacity="1.00"/><rect x="677" y="68.3" width="3" height="11.1" fill-opacity="1.00"/><rect x="680" y="68.2" width="3" height="11.1" fill-opacity="1.00"/><rect x="683" y="68.2" width="3" height="11.2" fill-opacity="1.00"/><rect x="686" y="68.2" width="3" height="11.2" fill-opacity="1.00"/><rect x="689" y="68.1" width="3" height="11.3" fill-opacity="1.00"/><rect x="692" y="68.1" width="3" height="11.4" fill-opacity="1.00"/><rect x="695" y="68.1" width="3" height="11.5" fill-opacity="1.00"/><rect x="698" y="68.0" width="3" height="11.5" fill-opacity="1.00"/><rect x="701" y="68.0" width="3" height="11.6" fill-opacity="1.00"/><rect x="704" y="67.9" width="3" height="11.7" fill-opacity="1.00"/><rect x="707" y="67.9" width="3" height="11.8" fill-opacity="1.00"/><rect x="710" y="67.9" width="3" height="11.9" fill-opacity="1.00"/><rect x="713" y="67.8" width="3" height="12.0" fill-opacity="1.00"/><rect x="716" y="67.8" width="3" height="12.1" fill-opacity="1.00"/><rect x="719" y="67.7" width="3" height="12.2" fill-opacity="1.00"/><rect x="722" y="67.6" width="3" height="12.3" fill-opacity="1.00"/><rect x="725" y="67.6" width="3" height="12.4" fill-opacity="1.00"/><rect x="728" y="67.5" width="3" height="12.5" fill-opacity="1.00"/><rect x="731" y="67.5" width="3" height="12.7" fill-opacity="1.00"/><rect x="734" y="67.4" width="3" height="12.8" fill-opacity="1.00"/><rect x="737" y="67.3" width="3" height="12.9" fill-opacity="1.00"/><rect x="740" y="67.3" width="3" height="13.0" fill-opacity="0.99"/><rect x="743" y="67.2" width="3" height="13.2" fill-opacity="0.98"/><rect x="746" y="67.2" width="3" height="13.3" fill-opacity="0.97"/><rect x="749" y="67.1" width="3" height="13.4" fill-opacity="0.96"/><rect x="752" y="67.0" width="3" height="13.6" fill-opacity="0.96"/><rect x="755" y="66.9" width="3" height="13.7" fill-opacity="0.95"/><rect x="758" y="66.9" width="3" height="13.9" fill-opacity="0.94"/><rect x="761" y="66.8" width="3" height="14.0" fill-opacity="0.93"/><rect x="764" y="66.7" width="3" height="14.1" fill-opacity="0.92"/><rect x="767" y="66.6" width="3" height="14.3" fill-opacity="0.91"/><rect x="770" y="66.6" width="3" height="14.5" fill-opacity="0.90"/><rect x="773" y="66.5" width="3" height="14.6" fill-opacity="0.89"/><rect x="776" y="66.4" width="3" height="14.8" fill-opacity="0.88"/><rect x="779" y="66.3" width="3" height="14.9" fill-opacity="0.87"/><rect x="782" y="66.3" width="3" height="15.1" fill-opacity="0.85"/><rect x="785" y="66.2" width="3" height="15.2" fill-opacity="0.82"/><rect x="788" y="66.1" width="3" height="15.4" fill-opacity="0.78"/><rect x="791" y="66.0" width="3" height="15.6" fill-opacity="0.74"/><rect x="794" y="65.9" width="3" height="15.7" fill-opacity="0.69"/><rect x="797" y="65.8" width="3" height="15.9" fill-opacity="0.63"/><rect x="800" y="65.8" width="3" height="16.1" fill-opacity="0.57"/><rect x="803" y="65.7" width="3" height="16.3" fill-opacity="0.51"/><rect x="806" y="65.6" width="3" height="16.4" fill-opacity="0.44"/><rect x="809" y="65.5" width="3" height="16.6" fill-opacity="0.38"/><rect x="812" y="65.4" width="3" height="16.8" fill-opacity="0.32"/><rect x="815" y="65.3" width="3" height="17.0" fill-opacity="0.26"/><rect x="818" y="65.2" width="3" height="17.1" fill-opacity="0.20"/><rect x="821" y="65.1" width="3" height="17.3" fill-opacity="0.15"/><rect x="824" y="65.0" width="3" height="17.5" fill-opacity="0.11"/><rect x="827" y="65.0" width="3" height="17.7" fill-opacity="0.07"/><rect x="830" y="64.9" width="3" height="17.9" fill-opacity="0.04"/><rect x="833" y="64.8" width="3" height="18.1" fill-opacity="0.02"/></g>
<g fill="url(#gPurW)" shape-rendering="crispEdges" filter="url(#fsoft2)"><rect x="515.3" y="28.799999999999997" width="38.2" height="2" fill-opacity="0.07"/><rect x="516.2" y="30.799999999999997" width="36.5" height="2" fill-opacity="0.17"/><rect x="517.0" y="32.8" width="34.8" height="2" fill-opacity="0.28"/><rect x="517.8" y="34.8" width="33.1" height="2" fill-opacity="0.38"/><rect x="518.7" y="36.8" width="31.4" height="2" fill-opacity="0.44"/><rect x="519.5" y="38.8" width="29.8" height="2" fill-opacity="0.45"/><rect x="520.4" y="40.8" width="28.1" height="2" fill-opacity="0.45"/><rect x="521.2" y="42.8" width="26.4" height="2" fill-opacity="0.45"/><rect x="522.0" y="44.8" width="24.7" height="2" fill-opacity="0.45"/><rect x="522.9" y="46.8" width="23.1" height="2" fill-opacity="0.45"/><rect x="523.7" y="48.8" width="21.4" height="2" fill-opacity="0.45"/><rect x="524.5" y="50.8" width="19.8" height="2" fill-opacity="0.45"/><rect x="525.3" y="52.8" width="18.2" height="2" fill-opacity="0.45"/><rect x="526.1" y="54.8" width="16.6" height="2" fill-opacity="0.45"/><rect x="526.9" y="56.8" width="15.0" height="2" fill-opacity="0.45"/><rect x="527.7" y="58.8" width="13.4" height="2" fill-opacity="0.45"/><rect x="528.4" y="60.8" width="11.9" height="2" fill-opacity="0.45"/><rect x="529.2" y="62.8" width="10.5" height="2" fill-opacity="0.45"/><rect x="529.8" y="64.8" width="9.1" height="2" fill-opacity="0.45"/><rect x="530.4" y="66.8" width="7.9" height="2" fill-opacity="0.45"/><rect x="530.9" y="68.8" width="6.9" height="2" fill-opacity="0.45"/><rect x="531.3" y="70.8" width="6.2" height="2" fill-opacity="0.45"/><rect x="531.4" y="72.8" width="6.0" height="2" fill-opacity="0.45"/><rect x="531.3" y="74.8" width="6.2" height="2" fill-opacity="0.45"/><rect x="530.9" y="76.8" width="6.9" height="2" fill-opacity="0.45"/><rect x="530.4" y="78.8" width="7.9" height="2" fill-opacity="0.45"/><rect x="529.8" y="80.8" width="9.1" height="2" fill-opacity="0.45"/><rect x="529.2" y="82.8" width="10.5" height="2" fill-opacity="0.45"/><rect x="528.4" y="84.8" width="11.9" height="2" fill-opacity="0.45"/><rect x="527.7" y="86.8" width="13.4" height="2" fill-opacity="0.45"/><rect x="526.9" y="88.8" width="15.0" height="2" fill-opacity="0.45"/><rect x="526.1" y="90.8" width="16.6" height="2" fill-opacity="0.45"/><rect x="525.3" y="92.8" width="18.2" height="2" fill-opacity="0.45"/><rect x="524.5" y="94.8" width="19.8" height="2" fill-opacity="0.45"/><rect x="523.7" y="96.8" width="21.4" height="2" fill-opacity="0.45"/><rect x="522.9" y="98.8" width="23.1" height="2" fill-opacity="0.45"/><rect x="522.0" y="100.8" width="24.7" height="2" fill-opacity="0.45"/><rect x="521.2" y="102.8" width="26.4" height="2" fill-opacity="0.45"/><rect x="520.4" y="104.8" width="28.1" height="2" fill-opacity="0.45"/><rect x="519.5" y="106.8" width="29.8" height="2" fill-opacity="0.45"/><rect x="518.7" y="108.8" width="31.4" height="2" fill-opacity="0.44"/><rect x="517.8" y="110.8" width="33.1" height="2" fill-opacity="0.38"/><rect x="517.0" y="112.8" width="34.8" height="2" fill-opacity="0.28"/><rect x="516.2" y="114.8" width="36.5" height="2" fill-opacity="0.17"/><rect x="515.3" y="116.8" width="38.2" height="2" fill-opacity="0.07"/></g>
<g fill="url(#gPurC)" shape-rendering="crispEdges" filter="url(#fsoft2)"><rect x="531.7" y="32.8" width="5.4" height="2" fill-opacity="0.03"/><rect x="531.7" y="34.8" width="5.4" height="2" fill-opacity="0.07"/><rect x="531.7" y="36.8" width="5.4" height="2" fill-opacity="0.12"/><rect x="531.7" y="38.8" width="5.4" height="2" fill-opacity="0.18"/><rect x="531.7" y="40.8" width="5.4" height="2" fill-opacity="0.25"/><rect x="531.7" y="42.8" width="5.4" height="2" fill-opacity="0.32"/><rect x="531.7" y="44.8" width="5.4" height="2" fill-opacity="0.38"/><rect x="531.7" y="46.8" width="5.4" height="2" fill-opacity="0.43"/><rect x="531.7" y="48.8" width="5.4" height="2" fill-opacity="0.47"/><rect x="531.7" y="50.8" width="5.4" height="2" fill-opacity="0.50"/><rect x="531.7" y="52.8" width="5.4" height="2" fill-opacity="0.50"/><rect x="531.7" y="54.8" width="5.4" height="2" fill-opacity="0.50"/><rect x="531.7" y="56.8" width="5.4" height="2" fill-opacity="0.50"/><rect x="531.7" y="58.8" width="5.4" height="2" fill-opacity="0.50"/><rect x="531.7" y="60.8" width="5.4" height="2" fill-opacity="0.50"/><rect x="531.7" y="62.8" width="5.4" height="2" fill-opacity="0.50"/><rect x="531.7" y="64.8" width="5.4" height="2" fill-opacity="0.50"/><rect x="531.7" y="66.8" width="5.4" height="2" fill-opacity="0.50"/><rect x="531.7" y="68.8" width="5.4" height="2" fill-opacity="0.50"/><rect x="531.7" y="70.8" width="5.4" height="2" fill-opacity="0.50"/><rect x="531.7" y="72.8" width="5.4" height="2" fill-opacity="0.50"/><rect x="531.7" y="74.8" width="5.4" height="2" fill-opacity="0.50"/><rect x="531.7" y="76.8" width="5.4" height="2" fill-opacity="0.50"/><rect x="531.7" y="78.8" width="5.4" height="2" fill-opacity="0.50"/><rect x="531.7" y="80.8" width="5.4" height="2" fill-opacity="0.50"/><rect x="531.7" y="82.8" width="5.4" height="2" fill-opacity="0.50"/><rect x="531.7" y="84.8" width="5.4" height="2" fill-opacity="0.50"/><rect x="531.7" y="86.8" width="5.4" height="2" fill-opacity="0.50"/><rect x="531.7" y="88.8" width="5.4" height="2" fill-opacity="0.50"/><rect x="531.7" y="90.8" width="5.4" height="2" fill-opacity="0.50"/><rect x="531.7" y="92.8" width="5.4" height="2" fill-opacity="0.50"/><rect x="531.7" y="94.8" width="5.4" height="2" fill-opacity="0.50"/><rect x="531.7" y="96.8" width="5.4" height="2" fill-opacity="0.47"/><rect x="531.7" y="98.8" width="5.4" height="2" fill-opacity="0.43"/><rect x="531.7" y="100.8" width="5.4" height="2" fill-opacity="0.38"/><rect x="531.7" y="102.8" width="5.4" height="2" fill-opacity="0.32"/><rect x="531.7" y="104.8" width="5.4" height="2" fill-opacity="0.25"/><rect x="531.7" y="106.8" width="5.4" height="2" fill-opacity="0.18"/><rect x="531.7" y="108.8" width="5.4" height="2" fill-opacity="0.12"/><rect x="531.7" y="110.8" width="5.4" height="2" fill-opacity="0.07"/><rect x="531.7" y="112.8" width="5.4" height="2" fill-opacity="0.03"/></g>
<g fill="url(#gPurW)" shape-rendering="crispEdges" filter="url(#fsoft2)"><rect x="590.4" y="28.799999999999997" width="38.2" height="2" fill-opacity="0.07"/><rect x="591.3" y="30.799999999999997" width="36.5" height="2" fill-opacity="0.17"/><rect x="592.1" y="32.8" width="34.8" height="2" fill-opacity="0.28"/><rect x="592.9" y="34.8" width="33.1" height="2" fill-opacity="0.38"/><rect x="593.8" y="36.8" width="31.4" height="2" fill-opacity="0.44"/><rect x="594.6" y="38.8" width="29.8" height="2" fill-opacity="0.45"/><rect x="595.5" y="40.8" width="28.1" height="2" fill-opacity="0.45"/><rect x="596.3" y="42.8" width="26.4" height="2" fill-opacity="0.45"/><rect x="597.1" y="44.8" width="24.7" height="2" fill-opacity="0.45"/><rect x="598.0" y="46.8" width="23.1" height="2" fill-opacity="0.45"/><rect x="598.8" y="48.8" width="21.4" height="2" fill-opacity="0.45"/><rect x="599.6" y="50.8" width="19.8" height="2" fill-opacity="0.45"/><rect x="600.4" y="52.8" width="18.2" height="2" fill-opacity="0.45"/><rect x="601.2" y="54.8" width="16.6" height="2" fill-opacity="0.45"/><rect x="602.0" y="56.8" width="15.0" height="2" fill-opacity="0.45"/><rect x="602.8" y="58.8" width="13.4" height="2" fill-opacity="0.45"/><rect x="603.5" y="60.8" width="11.9" height="2" fill-opacity="0.45"/><rect x="604.3" y="62.8" width="10.5" height="2" fill-opacity="0.45"/><rect x="604.9" y="64.8" width="9.1" height="2" fill-opacity="0.45"/><rect x="605.5" y="66.8" width="7.9" height="2" fill-opacity="0.45"/><rect x="606.0" y="68.8" width="6.9" height="2" fill-opacity="0.45"/><rect x="606.4" y="70.8" width="6.2" height="2" fill-opacity="0.45"/><rect x="606.5" y="72.8" width="6.0" height="2" fill-opacity="0.45"/><rect x="606.4" y="74.8" width="6.2" height="2" fill-opacity="0.45"/><rect x="606.0" y="76.8" width="6.9" height="2" fill-opacity="0.45"/><rect x="605.5" y="78.8" width="7.9" height="2" fill-opacity="0.45"/><rect x="604.9" y="80.8" width="9.1" height="2" fill-opacity="0.45"/><rect x="604.3" y="82.8" width="10.5" height="2" fill-opacity="0.45"/><rect x="603.5" y="84.8" width="11.9" height="2" fill-opacity="0.45"/><rect x="602.8" y="86.8" width="13.4" height="2" fill-opacity="0.45"/><rect x="602.0" y="88.8" width="15.0" height="2" fill-opacity="0.45"/><rect x="601.2" y="90.8" width="16.6" height="2" fill-opacity="0.45"/><rect x="600.4" y="92.8" width="18.2" height="2" fill-opacity="0.45"/><rect x="599.6" y="94.8" width="19.8" height="2" fill-opacity="0.45"/><rect x="598.8" y="96.8" width="21.4" height="2" fill-opacity="0.45"/><rect x="598.0" y="98.8" width="23.1" height="2" fill-opacity="0.45"/><rect x="597.1" y="100.8" width="24.7" height="2" fill-opacity="0.45"/><rect x="596.3" y="102.8" width="26.4" height="2" fill-opacity="0.45"/><rect x="595.5" y="104.8" width="28.1" height="2" fill-opacity="0.45"/><rect x="594.6" y="106.8" width="29.8" height="2" fill-opacity="0.45"/><rect x="593.8" y="108.8" width="31.4" height="2" fill-opacity="0.44"/><rect x="592.9" y="110.8" width="33.1" height="2" fill-opacity="0.38"/><rect x="592.1" y="112.8" width="34.8" height="2" fill-opacity="0.28"/><rect x="591.3" y="114.8" width="36.5" height="2" fill-opacity="0.17"/><rect x="590.4" y="116.8" width="38.2" height="2" fill-opacity="0.07"/></g>
<g fill="url(#gPurC)" shape-rendering="crispEdges" filter="url(#fsoft2)"><rect x="606.8" y="32.8" width="5.4" height="2" fill-opacity="0.03"/><rect x="606.8" y="34.8" width="5.4" height="2" fill-opacity="0.07"/><rect x="606.8" y="36.8" width="5.4" height="2" fill-opacity="0.12"/><rect x="606.8" y="38.8" width="5.4" height="2" fill-opacity="0.18"/><rect x="606.8" y="40.8" width="5.4" height="2" fill-opacity="0.25"/><rect x="606.8" y="42.8" width="5.4" height="2" fill-opacity="0.32"/><rect x="606.8" y="44.8" width="5.4" height="2" fill-opacity="0.38"/><rect x="606.8" y="46.8" width="5.4" height="2" fill-opacity="0.43"/><rect x="606.8" y="48.8" width="5.4" height="2" fill-opacity="0.47"/><rect x="606.8" y="50.8" width="5.4" height="2" fill-opacity="0.50"/><rect x="606.8" y="52.8" width="5.4" height="2" fill-opacity="0.50"/><rect x="606.8" y="54.8" width="5.4" height="2" fill-opacity="0.50"/><rect x="606.8" y="56.8" width="5.4" height="2" fill-opacity="0.50"/><rect x="606.8" y="58.8" width="5.4" height="2" fill-opacity="0.50"/><rect x="606.8" y="60.8" width="5.4" height="2" fill-opacity="0.50"/><rect x="606.8" y="62.8" width="5.4" height="2" fill-opacity="0.50"/><rect x="606.8" y="64.8" width="5.4" height="2" fill-opacity="0.50"/><rect x="606.8" y="66.8" width="5.4" height="2" fill-opacity="0.50"/><rect x="606.8" y="68.8" width="5.4" height="2" fill-opacity="0.50"/><rect x="606.8" y="70.8" width="5.4" height="2" fill-opacity="0.50"/><rect x="606.8" y="72.8" width="5.4" height="2" fill-opacity="0.50"/><rect x="606.8" y="74.8" width="5.4" height="2" fill-opacity="0.50"/><rect x="606.8" y="76.8" width="5.4" height="2" fill-opacity="0.50"/><rect x="606.8" y="78.8" width="5.4" height="2" fill-opacity="0.50"/><rect x="606.8" y="80.8" width="5.4" height="2" fill-opacity="0.50"/><rect x="606.8" y="82.8" width="5.4" height="2" fill-opacity="0.50"/><rect x="606.8" y="84.8" width="5.4" height="2" fill-opacity="0.50"/><rect x="606.8" y="86.8" width="5.4" height="2" fill-opacity="0.50"/><rect x="606.8" y="88.8" width="5.4" height="2" fill-opacity="0.50"/><rect x="606.8" y="90.8" width="5.4" height="2" fill-opacity="0.50"/><rect x="606.8" y="92.8" width="5.4" height="2" fill-opacity="0.50"/><rect x="606.8" y="94.8" width="5.4" height="2" fill-opacity="0.50"/><rect x="606.8" y="96.8" width="5.4" height="2" fill-opacity="0.47"/><rect x="606.8" y="98.8" width="5.4" height="2" fill-opacity="0.43"/><rect x="606.8" y="100.8" width="5.4" height="2" fill-opacity="0.38"/><rect x="606.8" y="102.8" width="5.4" height="2" fill-opacity="0.32"/><rect x="606.8" y="104.8" width="5.4" height="2" fill-opacity="0.25"/><rect x="606.8" y="106.8" width="5.4" height="2" fill-opacity="0.18"/><rect x="606.8" y="108.8" width="5.4" height="2" fill-opacity="0.12"/><rect x="606.8" y="110.8" width="5.4" height="2" fill-opacity="0.07"/><rect x="606.8" y="112.8" width="5.4" height="2" fill-opacity="0.03"/></g>
<g fill="url(#gPurW)" shape-rendering="crispEdges" filter="url(#fsoft2)"><rect x="665.6" y="28.799999999999997" width="38.2" height="2" fill-opacity="0.07"/><rect x="666.5" y="30.799999999999997" width="36.5" height="2" fill-opacity="0.17"/><rect x="667.3" y="32.8" width="34.8" height="2" fill-opacity="0.28"/><rect x="668.1" y="34.8" width="33.1" height="2" fill-opacity="0.38"/><rect x="669.0" y="36.8" width="31.4" height="2" fill-opacity="0.44"/><rect x="669.8" y="38.8" width="29.8" height="2" fill-opacity="0.45"/><rect x="670.7" y="40.8" width="28.1" height="2" fill-opacity="0.45"/><rect x="671.5" y="42.8" width="26.4" height="2" fill-opacity="0.45"/><rect x="672.3" y="44.8" width="24.7" height="2" fill-opacity="0.45"/><rect x="673.2" y="46.8" width="23.1" height="2" fill-opacity="0.45"/><rect x="674.0" y="48.8" width="21.4" height="2" fill-opacity="0.45"/><rect x="674.8" y="50.8" width="19.8" height="2" fill-opacity="0.45"/><rect x="675.6" y="52.8" width="18.2" height="2" fill-opacity="0.45"/><rect x="676.4" y="54.8" width="16.6" height="2" fill-opacity="0.45"/><rect x="677.2" y="56.8" width="15.0" height="2" fill-opacity="0.45"/><rect x="678.0" y="58.8" width="13.4" height="2" fill-opacity="0.45"/><rect x="678.7" y="60.8" width="11.9" height="2" fill-opacity="0.45"/><rect x="679.5" y="62.8" width="10.5" height="2" fill-opacity="0.45"/><rect x="680.1" y="64.8" width="9.1" height="2" fill-opacity="0.45"/><rect x="680.7" y="66.8" width="7.9" height="2" fill-opacity="0.45"/><rect x="681.2" y="68.8" width="6.9" height="2" fill-opacity="0.45"/><rect x="681.6" y="70.8" width="6.2" height="2" fill-opacity="0.45"/><rect x="681.7" y="72.8" width="6.0" height="2" fill-opacity="0.45"/><rect x="681.6" y="74.8" width="6.2" height="2" fill-opacity="0.45"/><rect x="681.2" y="76.8" width="6.9" height="2" fill-opacity="0.45"/><rect x="680.7" y="78.8" width="7.9" height="2" fill-opacity="0.45"/><rect x="680.1" y="80.8" width="9.1" height="2" fill-opacity="0.45"/><rect x="679.5" y="82.8" width="10.5" height="2" fill-opacity="0.45"/><rect x="678.7" y="84.8" width="11.9" height="2" fill-opacity="0.45"/><rect x="678.0" y="86.8" width="13.4" height="2" fill-opacity="0.45"/><rect x="677.2" y="88.8" width="15.0" height="2" fill-opacity="0.45"/><rect x="676.4" y="90.8" width="16.6" height="2" fill-opacity="0.45"/><rect x="675.6" y="92.8" width="18.2" height="2" fill-opacity="0.45"/><rect x="674.8" y="94.8" width="19.8" height="2" fill-opacity="0.45"/><rect x="674.0" y="96.8" width="21.4" height="2" fill-opacity="0.45"/><rect x="673.2" y="98.8" width="23.1" height="2" fill-opacity="0.45"/><rect x="672.3" y="100.8" width="24.7" height="2" fill-opacity="0.45"/><rect x="671.5" y="102.8" width="26.4" height="2" fill-opacity="0.45"/><rect x="670.7" y="104.8" width="28.1" height="2" fill-opacity="0.45"/><rect x="669.8" y="106.8" width="29.8" height="2" fill-opacity="0.45"/><rect x="669.0" y="108.8" width="31.4" height="2" fill-opacity="0.44"/><rect x="668.1" y="110.8" width="33.1" height="2" fill-opacity="0.38"/><rect x="667.3" y="112.8" width="34.8" height="2" fill-opacity="0.28"/><rect x="666.5" y="114.8" width="36.5" height="2" fill-opacity="0.17"/><rect x="665.6" y="116.8" width="38.2" height="2" fill-opacity="0.07"/></g>
<g fill="url(#gPurC)" shape-rendering="crispEdges" filter="url(#fsoft2)"><rect x="682.0" y="32.8" width="5.4" height="2" fill-opacity="0.03"/><rect x="682.0" y="34.8" width="5.4" height="2" fill-opacity="0.07"/><rect x="682.0" y="36.8" width="5.4" height="2" fill-opacity="0.12"/><rect x="682.0" y="38.8" width="5.4" height="2" fill-opacity="0.18"/><rect x="682.0" y="40.8" width="5.4" height="2" fill-opacity="0.25"/><rect x="682.0" y="42.8" width="5.4" height="2" fill-opacity="0.32"/><rect x="682.0" y="44.8" width="5.4" height="2" fill-opacity="0.38"/><rect x="682.0" y="46.8" width="5.4" height="2" fill-opacity="0.43"/><rect x="682.0" y="48.8" width="5.4" height="2" fill-opacity="0.47"/><rect x="682.0" y="50.8" width="5.4" height="2" fill-opacity="0.50"/><rect x="682.0" y="52.8" width="5.4" height="2" fill-opacity="0.50"/><rect x="682.0" y="54.8" width="5.4" height="2" fill-opacity="0.50"/><rect x="682.0" y="56.8" width="5.4" height="2" fill-opacity="0.50"/><rect x="682.0" y="58.8" width="5.4" height="2" fill-opacity="0.50"/><rect x="682.0" y="60.8" width="5.4" height="2" fill-opacity="0.50"/><rect x="682.0" y="62.8" width="5.4" height="2" fill-opacity="0.50"/><rect x="682.0" y="64.8" width="5.4" height="2" fill-opacity="0.50"/><rect x="682.0" y="66.8" width="5.4" height="2" fill-opacity="0.50"/><rect x="682.0" y="68.8" width="5.4" height="2" fill-opacity="0.50"/><rect x="682.0" y="70.8" width="5.4" height="2" fill-opacity="0.50"/><rect x="682.0" y="72.8" width="5.4" height="2" fill-opacity="0.50"/><rect x="682.0" y="74.8" width="5.4" height="2" fill-opacity="0.50"/><rect x="682.0" y="76.8" width="5.4" height="2" fill-opacity="0.50"/><rect x="682.0" y="78.8" width="5.4" height="2" fill-opacity="0.50"/><rect x="682.0" y="80.8" width="5.4" height="2" fill-opacity="0.50"/><rect x="682.0" y="82.8" width="5.4" height="2" fill-opacity="0.50"/><rect x="682.0" y="84.8" width="5.4" height="2" fill-opacity="0.50"/><rect x="682.0" y="86.8" width="5.4" height="2" fill-opacity="0.50"/><rect x="682.0" y="88.8" width="5.4" height="2" fill-opacity="0.50"/><rect x="682.0" y="90.8" width="5.4" height="2" fill-opacity="0.50"/><rect x="682.0" y="92.8" width="5.4" height="2" fill-opacity="0.50"/><rect x="682.0" y="94.8" width="5.4" height="2" fill-opacity="0.50"/><rect x="682.0" y="96.8" width="5.4" height="2" fill-opacity="0.47"/><rect x="682.0" y="98.8" width="5.4" height="2" fill-opacity="0.43"/><rect x="682.0" y="100.8" width="5.4" height="2" fill-opacity="0.38"/><rect x="682.0" y="102.8" width="5.4" height="2" fill-opacity="0.32"/><rect x="682.0" y="104.8" width="5.4" height="2" fill-opacity="0.25"/><rect x="682.0" y="106.8" width="5.4" height="2" fill-opacity="0.18"/><rect x="682.0" y="108.8" width="5.4" height="2" fill-opacity="0.12"/><rect x="682.0" y="110.8" width="5.4" height="2" fill-opacity="0.07"/><rect x="682.0" y="112.8" width="5.4" height="2" fill-opacity="0.03"/></g>
<g fill="url(#gPurW)" shape-rendering="crispEdges" filter="url(#fsoft2)"><rect x="740.6" y="28.799999999999997" width="38.2" height="2" fill-opacity="0.07"/><rect x="741.5" y="30.799999999999997" width="36.5" height="2" fill-opacity="0.17"/><rect x="742.3" y="32.8" width="34.8" height="2" fill-opacity="0.28"/><rect x="743.1" y="34.8" width="33.1" height="2" fill-opacity="0.38"/><rect x="744.0" y="36.8" width="31.4" height="2" fill-opacity="0.44"/><rect x="744.8" y="38.8" width="29.8" height="2" fill-opacity="0.45"/><rect x="745.7" y="40.8" width="28.1" height="2" fill-opacity="0.45"/><rect x="746.5" y="42.8" width="26.4" height="2" fill-opacity="0.45"/><rect x="747.3" y="44.8" width="24.7" height="2" fill-opacity="0.45"/><rect x="748.2" y="46.8" width="23.1" height="2" fill-opacity="0.45"/><rect x="749.0" y="48.8" width="21.4" height="2" fill-opacity="0.45"/><rect x="749.8" y="50.8" width="19.8" height="2" fill-opacity="0.45"/><rect x="750.6" y="52.8" width="18.2" height="2" fill-opacity="0.45"/><rect x="751.4" y="54.8" width="16.6" height="2" fill-opacity="0.45"/><rect x="752.2" y="56.8" width="15.0" height="2" fill-opacity="0.45"/><rect x="753.0" y="58.8" width="13.4" height="2" fill-opacity="0.45"/><rect x="753.7" y="60.8" width="11.9" height="2" fill-opacity="0.45"/><rect x="754.5" y="62.8" width="10.5" height="2" fill-opacity="0.45"/><rect x="755.1" y="64.8" width="9.1" height="2" fill-opacity="0.45"/><rect x="755.7" y="66.8" width="7.9" height="2" fill-opacity="0.45"/><rect x="756.2" y="68.8" width="6.9" height="2" fill-opacity="0.45"/><rect x="756.6" y="70.8" width="6.2" height="2" fill-opacity="0.45"/><rect x="756.7" y="72.8" width="6.0" height="2" fill-opacity="0.45"/><rect x="756.6" y="74.8" width="6.2" height="2" fill-opacity="0.45"/><rect x="756.2" y="76.8" width="6.9" height="2" fill-opacity="0.45"/><rect x="755.7" y="78.8" width="7.9" height="2" fill-opacity="0.45"/><rect x="755.1" y="80.8" width="9.1" height="2" fill-opacity="0.45"/><rect x="754.5" y="82.8" width="10.5" height="2" fill-opacity="0.45"/><rect x="753.7" y="84.8" width="11.9" height="2" fill-opacity="0.45"/><rect x="753.0" y="86.8" width="13.4" height="2" fill-opacity="0.45"/><rect x="752.2" y="88.8" width="15.0" height="2" fill-opacity="0.45"/><rect x="751.4" y="90.8" width="16.6" height="2" fill-opacity="0.45"/><rect x="750.6" y="92.8" width="18.2" height="2" fill-opacity="0.45"/><rect x="749.8" y="94.8" width="19.8" height="2" fill-opacity="0.45"/><rect x="749.0" y="96.8" width="21.4" height="2" fill-opacity="0.45"/><rect x="748.2" y="98.8" width="23.1" height="2" fill-opacity="0.45"/><rect x="747.3" y="100.8" width="24.7" height="2" fill-opacity="0.45"/><rect x="746.5" y="102.8" width="26.4" height="2" fill-opacity="0.45"/><rect x="745.7" y="104.8" width="28.1" height="2" fill-opacity="0.45"/><rect x="744.8" y="106.8" width="29.8" height="2" fill-opacity="0.45"/><rect x="744.0" y="108.8" width="31.4" height="2" fill-opacity="0.44"/><rect x="743.1" y="110.8" width="33.1" height="2" fill-opacity="0.38"/><rect x="742.3" y="112.8" width="34.8" height="2" fill-opacity="0.28"/><rect x="741.5" y="114.8" width="36.5" height="2" fill-opacity="0.17"/><rect x="740.6" y="116.8" width="38.2" height="2" fill-opacity="0.07"/></g>
<g fill="url(#gPurC)" shape-rendering="crispEdges" filter="url(#fsoft2)"><rect x="757.0" y="32.8" width="5.4" height="2" fill-opacity="0.03"/><rect x="757.0" y="34.8" width="5.4" height="2" fill-opacity="0.07"/><rect x="757.0" y="36.8" width="5.4" height="2" fill-opacity="0.12"/><rect x="757.0" y="38.8" width="5.4" height="2" fill-opacity="0.18"/><rect x="757.0" y="40.8" width="5.4" height="2" fill-opacity="0.25"/><rect x="757.0" y="42.8" width="5.4" height="2" fill-opacity="0.32"/><rect x="757.0" y="44.8" width="5.4" height="2" fill-opacity="0.38"/><rect x="757.0" y="46.8" width="5.4" height="2" fill-opacity="0.43"/><rect x="757.0" y="48.8" width="5.4" height="2" fill-opacity="0.47"/><rect x="757.0" y="50.8" width="5.4" height="2" fill-opacity="0.50"/><rect x="757.0" y="52.8" width="5.4" height="2" fill-opacity="0.50"/><rect x="757.0" y="54.8" width="5.4" height="2" fill-opacity="0.50"/><rect x="757.0" y="56.8" width="5.4" height="2" fill-opacity="0.50"/><rect x="757.0" y="58.8" width="5.4" height="2" fill-opacity="0.50"/><rect x="757.0" y="60.8" width="5.4" height="2" fill-opacity="0.50"/><rect x="757.0" y="62.8" width="5.4" height="2" fill-opacity="0.50"/><rect x="757.0" y="64.8" width="5.4" height="2" fill-opacity="0.50"/><rect x="757.0" y="66.8" width="5.4" height="2" fill-opacity="0.50"/><rect x="757.0" y="68.8" width="5.4" height="2" fill-opacity="0.50"/><rect x="757.0" y="70.8" width="5.4" height="2" fill-opacity="0.50"/><rect x="757.0" y="72.8" width="5.4" height="2" fill-opacity="0.50"/><rect x="757.0" y="74.8" width="5.4" height="2" fill-opacity="0.50"/><rect x="757.0" y="76.8" width="5.4" height="2" fill-opacity="0.50"/><rect x="757.0" y="78.8" width="5.4" height="2" fill-opacity="0.50"/><rect x="757.0" y="80.8" width="5.4" height="2" fill-opacity="0.50"/><rect x="757.0" y="82.8" width="5.4" height="2" fill-opacity="0.50"/><rect x="757.0" y="84.8" width="5.4" height="2" fill-opacity="0.50"/><rect x="757.0" y="86.8" width="5.4" height="2" fill-opacity="0.50"/><rect x="757.0" y="88.8" width="5.4" height="2" fill-opacity="0.50"/><rect x="757.0" y="90.8" width="5.4" height="2" fill-opacity="0.50"/><rect x="757.0" y="92.8" width="5.4" height="2" fill-opacity="0.50"/><rect x="757.0" y="94.8" width="5.4" height="2" fill-opacity="0.50"/><rect x="757.0" y="96.8" width="5.4" height="2" fill-opacity="0.47"/><rect x="757.0" y="98.8" width="5.4" height="2" fill-opacity="0.43"/><rect x="757.0" y="100.8" width="5.4" height="2" fill-opacity="0.38"/><rect x="757.0" y="102.8" width="5.4" height="2" fill-opacity="0.32"/><rect x="757.0" y="104.8" width="5.4" height="2" fill-opacity="0.25"/><rect x="757.0" y="106.8" width="5.4" height="2" fill-opacity="0.18"/><rect x="757.0" y="108.8" width="5.4" height="2" fill-opacity="0.12"/><rect x="757.0" y="110.8" width="5.4" height="2" fill-opacity="0.07"/><rect x="757.0" y="112.8" width="5.4" height="2" fill-opacity="0.03"/></g>
<circle cx="516.7" cy="73.8" r="4.85" fill="#fff" stroke="#111" stroke-width="1.3"/>
<circle cx="534.4" cy="73.8" r="4.85" fill="#fff" stroke="#111" stroke-width="1.3"/>
<circle cx="552.2" cy="73.8" r="4.85" fill="#fff" stroke="#111" stroke-width="1.3"/>
<circle cx="592.3" cy="73.8" r="4.85" fill="#fff" stroke="#111" stroke-width="1.3"/>
<circle cx="609.5" cy="73.8" r="4.85" fill="#fff" stroke="#111" stroke-width="1.3"/>
<circle cx="627.2" cy="73.8" r="4.85" fill="#fff" stroke="#111" stroke-width="1.3"/>
<circle cx="667.4" cy="73.8" r="4.85" fill="#fff" stroke="#111" stroke-width="1.3"/>
<circle cx="684.7" cy="73.8" r="4.85" fill="#fff" stroke="#111" stroke-width="1.3"/>
<circle cx="702.3" cy="73.8" r="4.85" fill="#fff" stroke="#111" stroke-width="1.3"/>
<circle cx="742.6" cy="73.8" r="4.85" fill="#fff" stroke="#111" stroke-width="1.3"/>
<circle cx="759.7" cy="73.8" r="4.85" fill="#fff" stroke="#111" stroke-width="1.3"/>
<circle cx="777.3" cy="73.8" r="4.85" fill="#fff" stroke="#111" stroke-width="1.3"/>
<polygon points="9,71.1 36.5,71.1 36.5,63.5 53.6,73.8 36.5,84.2 36.5,76.5 9,76.5" fill="#e41f2b"/>
<polygon points="397.6,71.3 369.7,71.3 369.7,64.1 353.1,73.8 369.7,83.6 369.7,76.5 397.6,76.5" fill="#3b9fd8"/>
<text transform="translate(8.09 64.54) scale(0.9 1)" font-size="19.25" fill="#e41f2b" font-family="Liberation Serif">Ω</text>
<text transform="translate(20.46 67.28)" font-size="13.25" fill="#e41f2b" font-family="Liberation Serif">01</text>
<text transform="translate(40.96 122.31)" font-size="18.75" fill="#4b4b9e" font-family="Liberation Serif" font-style="italic">δ</text>
<text transform="translate(383.91 65.90) scale(0.95 1)" font-size="18.75" fill="#3b9fd8" font-family="Liberation Serif">Ω</text>
<text transform="translate(6.07 96.82)" font-size="13.25" fill="#e41f2b" >795 nm</text>
<text transform="translate(356.91 96.68)" font-size="13.25" fill="#3b9fd8" >420 nm</text>
<text transform="translate(349.85 114.22)" font-size="13.25" fill="#3b9fd8" >1013 nm</text>
<line x1="81.73" y1="351.31" x2="194.16" y2="249.18" stroke="#b9b9b9" stroke-width="1.4"/>
<line x1="194.16" y1="249.18" x2="374.92" y2="305.48" stroke="#b9b9b9" stroke-width="1.4"/>
<line x1="76.17" y1="279.26" x2="192.44" y2="179.03" stroke="#b9b9b9" stroke-width="1.4"/>
<line x1="192.44" y1="179.03" x2="378.89" y2="234.35" stroke="#b9b9b9" stroke-width="1.4"/>
<line x1="86.94" y1="418.91" x2="195.78" y2="315.27" stroke="#b9b9b9" stroke-width="1.4"/>
<line x1="195.78" y1="315.27" x2="371.19" y2="372.36" stroke="#b9b9b9" stroke-width="1.4"/>
<line x1="195.78" y1="315.27" x2="192.44" y2="179.03" stroke="#b9b9b9" stroke-width="1.4"/>
<line x1="371.19" y1="372.36" x2="378.89" y2="234.35" stroke="#b9b9b9" stroke-width="1.4"/>
<polygon points="176.84,338.80 211.31,350.24 208.93,216.73 172.39,205.64" fill="#5a52a8" stroke="#222233" stroke-width="0.5" stroke-linejoin="round" />
<polygon points="211.31,350.24 231.64,330.22 230.51,197.39 208.93,216.73" fill="#2f2c62" stroke="#222233" stroke-width="0.5" stroke-linejoin="round" />
<polygon points="172.39,205.64 208.93,216.73 230.51,197.39 194.32,186.60" fill="#584ea0" stroke="#222233" stroke-width="0.5" stroke-linejoin="round" />
<polygon points="172.39,205.64 208.93,216.73 208.88,214.11 172.30,203.02" fill="#554c9e" stroke="#222233" stroke-width="0.5" stroke-linejoin="round" />
<polygon points="208.93,216.73 230.51,197.39 230.49,194.79 208.88,214.11" fill="#38336f" stroke="#222233" stroke-width="0.5" stroke-linejoin="round" />
<polygon points="172.30,203.02 208.88,214.11 230.49,194.79 194.26,184.00" fill="#584ea0" stroke="#222233" stroke-width="0.5" stroke-linejoin="round" />
<line x1="173.26" y1="205.04" x2="208.91" y2="215.86" stroke="#8a82c8" stroke-width="1.1"/>
<line x1="208.91" y1="215.86" x2="229.97" y2="197.00" stroke="#5a54a0" stroke-width="1.0"/>
<line x1="172.26" y1="201.71" x2="208.86" y2="212.80" stroke="#111" stroke-width="0.6"/>
<line x1="208.86" y1="212.80" x2="230.48" y2="193.48" stroke="#111" stroke-width="0.6"/>
<line x1="230.48" y1="193.48" x2="194.23" y2="182.70" stroke="#111" stroke-width="0.6"/>
<line x1="194.23" y1="182.70" x2="172.26" y2="201.71" stroke="#111" stroke-width="0.6"/>
<line x1="172.30" y1="203.02" x2="172.26" y2="201.71" stroke="#111" stroke-width="0.6"/>
<line x1="208.88" y1="214.11" x2="208.86" y2="212.80" stroke="#111" stroke-width="0.6"/>
<line x1="230.49" y1="194.79" x2="230.48" y2="193.48" stroke="#111" stroke-width="0.6"/>
<line x1="194.26" y1="184.00" x2="194.23" y2="182.70" stroke="#111" stroke-width="0.6"/>
<polygon points="220.01,353.12 255.12,364.78 255.12,363.35 219.99,351.70" fill="#f7f5c4" stroke="#2a2a20" stroke-width="0.8" stroke-linejoin="round" />
<polygon points="255.12,364.78 275.05,344.38 275.06,342.96 255.12,363.35" fill="#9c9b77" stroke="#2a2a20" stroke-width="0.8" stroke-linejoin="round" />
<polygon points="219.99,351.70 255.12,363.35 275.06,342.96 240.25,331.61" fill="#a5a47f" stroke="#2a2a20" stroke-width="0.8" stroke-linejoin="round" />
<polygon points="150.25,364.21 185.11,376.03 185.07,374.60 150.19,362.78" fill="#f7f5c4" stroke="#2a2a20" stroke-width="0.8" stroke-linejoin="round" />
<polygon points="185.11,376.03 206.14,355.33 206.11,353.90 185.07,374.60" fill="#9c9b77" stroke="#2a2a20" stroke-width="0.8" stroke-linejoin="round" />
<polygon points="150.19,362.78 185.07,374.60 206.11,353.90 171.54,342.39" fill="#a5a47f" stroke="#2a2a20" stroke-width="0.8" stroke-linejoin="round" />
<polygon points="263.98,367.72 299.75,379.59 299.79,378.16 263.99,366.29" fill="#f7f5c4" stroke="#2a2a20" stroke-width="0.8" stroke-linejoin="round" />
<polygon points="299.75,379.59 319.26,358.80 319.31,357.38 299.79,378.16" fill="#9c9b77" stroke="#2a2a20" stroke-width="0.8" stroke-linejoin="round" />
<polygon points="263.99,366.29 299.79,378.16 319.31,357.38 283.85,345.82" fill="#a5a47f" stroke="#2a2a20" stroke-width="0.8" stroke-linejoin="round" />
<polygon points="193.91,379.02 229.44,391.07 228.13,256.92 190.41,245.19" fill="#5a52a8" stroke="#222233" stroke-width="0.5" stroke-linejoin="round" />
<polygon points="229.44,391.07 250.05,369.96 250.04,236.46 228.13,256.92" fill="#2f2c62" stroke="#222233" stroke-width="0.5" stroke-linejoin="round" />
<polygon points="190.41,245.19 228.13,256.92 250.04,236.46 212.69,225.06" fill="#584ea0" stroke="#222233" stroke-width="0.5" stroke-linejoin="round" />
<polygon points="190.41,245.19 228.13,256.92 228.10,254.26 190.35,242.55" fill="#554c9e" stroke="#222233" stroke-width="0.5" stroke-linejoin="round" />
<polygon points="228.13,256.92 250.04,236.46 250.04,233.82 228.10,254.26" fill="#38336f" stroke="#222233" stroke-width="0.5" stroke-linejoin="round" />
<polygon points="190.35,242.55 228.10,254.26 250.04,233.82 212.65,222.43" fill="#584ea0" stroke="#222233" stroke-width="0.5" stroke-linejoin="round" />
<line x1="191.33" y1="244.60" x2="228.12" y2="256.03" stroke="#8a82c8" stroke-width="1.1"/>
<line x1="228.12" y1="256.03" x2="249.50" y2="236.08" stroke="#5a54a0" stroke-width="1.0"/>
<line x1="190.30" y1="240.63" x2="228.08" y2="252.35" stroke="#111" stroke-width="0.6"/>
<line x1="228.08" y1="252.35" x2="250.04" y2="231.91" stroke="#111" stroke-width="0.6"/>
<line x1="250.04" y1="231.91" x2="212.62" y2="220.53" stroke="#111" stroke-width="0.6"/>
<line x1="212.62" y1="220.53" x2="190.30" y2="240.63" stroke="#111" stroke-width="0.6"/>
<line x1="190.35" y1="242.55" x2="190.30" y2="240.63" stroke="#111" stroke-width="0.6"/>
<line x1="228.10" y1="254.26" x2="228.08" y2="252.35" stroke="#111" stroke-width="0.6"/>
<line x1="250.04" y1="233.82" x2="250.04" y2="231.91" stroke="#111" stroke-width="0.6"/>
<line x1="212.65" y1="222.43" x2="212.62" y2="220.53" stroke="#111" stroke-width="0.6"/>
<polygon points="308.78,382.58 345.23,394.68 345.30,393.24 308.82,381.15" fill="#f7f5c4" stroke="#2a2a20" stroke-width="0.8" stroke-linejoin="round" />
<polygon points="345.23,394.68 364.30,373.49 364.38,372.06 345.30,393.24" fill="#9c9b77" stroke="#2a2a20" stroke-width="0.8" stroke-linejoin="round" />
<polygon points="308.82,381.15 345.30,393.24 364.38,372.06 328.25,360.29" fill="#a5a47f" stroke="#2a2a20" stroke-width="0.8" stroke-linejoin="round" />
<polygon points="122.74,390.50 158.01,402.73 157.94,401.29 122.66,389.06" fill="#f7f5c4" stroke="#2a2a20" stroke-width="0.8" stroke-linejoin="round" />
<polygon points="158.01,402.73 179.77,381.30 179.72,379.87 157.94,401.29" fill="#9c9b77" stroke="#2a2a20" stroke-width="0.8" stroke-linejoin="round" />
<polygon points="122.66,389.06 157.94,401.29 179.72,379.87 144.76,367.96" fill="#a5a47f" stroke="#2a2a20" stroke-width="0.8" stroke-linejoin="round" />
<polygon points="238.40,394.11 274.60,406.39 274.62,404.95 238.39,392.67" fill="#f7f5c4" stroke="#2a2a20" stroke-width="0.8" stroke-linejoin="round" />
<polygon points="274.60,406.39 294.79,384.87 294.82,383.44 274.62,404.95" fill="#9c9b77" stroke="#2a2a20" stroke-width="0.8" stroke-linejoin="round" />
<polygon points="238.39,392.67 274.62,404.95 294.82,383.44 258.94,371.49" fill="#a5a47f" stroke="#2a2a20" stroke-width="0.8" stroke-linejoin="round" />
<polygon points="166.91,405.81 202.85,418.28 202.81,416.84 166.85,404.38" fill="#f7f5c4" stroke="#2a2a20" stroke-width="0.8" stroke-linejoin="round" />
<polygon points="202.85,418.28 224.19,396.43 224.17,395.00 202.81,416.84" fill="#9c9b77" stroke="#2a2a20" stroke-width="0.8" stroke-linejoin="round" />
<polygon points="166.85,404.38 202.81,416.84 224.17,395.00 188.54,382.87" fill="#a5a47f" stroke="#2a2a20" stroke-width="0.8" stroke-linejoin="round" />
<polygon points="283.74,409.49 320.64,422.00 320.69,420.56 283.76,408.05" fill="#f7f5c4" stroke="#2a2a20" stroke-width="0.8" stroke-linejoin="round" />
<polygon points="320.64,422.00 340.38,400.07 340.44,398.63 320.69,420.56" fill="#9c9b77" stroke="#2a2a20" stroke-width="0.8" stroke-linejoin="round" />
<polygon points="283.76,408.05 320.69,420.56 340.44,398.63 303.88,386.46" fill="#a5a47f" stroke="#2a2a20" stroke-width="0.8" stroke-linejoin="round" />
<polygon points="94.27,417.71 129.93,430.37 129.85,428.93 94.16,416.27" fill="#f7f5c4" stroke="#2a2a20" stroke-width="0.8" stroke-linejoin="round" />
<polygon points="129.93,430.37 152.47,408.18 152.40,406.74 129.85,428.93" fill="#9c9b77" stroke="#2a2a20" stroke-width="0.8" stroke-linejoin="round" />
<polygon points="94.16,416.27 129.85,428.93 152.40,406.74 117.04,394.43" fill="#a5a47f" stroke="#2a2a20" stroke-width="0.8" stroke-linejoin="round" />
<polygon points="211.92,421.43 248.56,434.14 248.44,299.72 209.48,287.31" fill="#5a52a8" stroke="#222233" stroke-width="0.5" stroke-linejoin="round" />
<polygon points="248.56,434.14 269.47,411.86 270.67,278.05 248.44,299.72" fill="#2f2c62" stroke="#222233" stroke-width="0.5" stroke-linejoin="round" />
<polygon points="209.48,287.31 248.44,299.72 270.67,278.05 232.11,265.99" fill="#584ea0" stroke="#222233" stroke-width="0.5" stroke-linejoin="round" />
<polygon points="209.48,287.31 248.44,299.72 248.44,297.05 209.44,284.64" fill="#554c9e" stroke="#222233" stroke-width="0.5" stroke-linejoin="round" />
<polygon points="248.44,299.72 270.67,278.05 270.70,275.38 248.44,297.05" fill="#38336f" stroke="#222233" stroke-width="0.5" stroke-linejoin="round" />
<polygon points="209.44,284.64 248.44,297.05 270.70,275.38 232.09,263.34" fill="#584ea0" stroke="#222233" stroke-width="0.5" stroke-linejoin="round" />
<line x1="210.43" y1="286.73" x2="248.44" y2="298.83" stroke="#8a82c8" stroke-width="1.1"/>
<line x1="248.44" y1="298.83" x2="270.13" y2="277.69" stroke="#5a54a0" stroke-width="1.0"/>
<line x1="209.38" y1="281.82" x2="248.44" y2="294.22" stroke="#111" stroke-width="0.6"/>
<line x1="248.44" y1="294.22" x2="270.72" y2="272.57" stroke="#111" stroke-width="0.6"/>
<line x1="270.72" y1="272.57" x2="232.06" y2="260.53" stroke="#111" stroke-width="0.6"/>
<line x1="232.06" y1="260.53" x2="209.38" y2="281.82" stroke="#111" stroke-width="0.6"/>
<line x1="209.44" y1="284.64" x2="209.38" y2="281.82" stroke="#111" stroke-width="0.6"/>
<line x1="248.44" y1="297.05" x2="248.44" y2="294.22" stroke="#111" stroke-width="0.6"/>
<line x1="270.70" y1="275.38" x2="270.72" y2="272.57" stroke="#111" stroke-width="0.6"/>
<line x1="232.09" y1="263.34" x2="232.06" y2="260.53" stroke="#111" stroke-width="0.6"/>
<polygon points="138.94,433.57 175.30,446.47 175.25,445.03 138.86,432.12" fill="#f7f5c4" stroke="#2a2a20" stroke-width="0.8" stroke-linejoin="round" />
<polygon points="175.30,446.47 197.42,423.84 197.38,422.40 175.25,445.03" fill="#9c9b77" stroke="#2a2a20" stroke-width="0.8" stroke-linejoin="round" />
<polygon points="138.86,432.12 175.25,445.03 197.38,422.40 161.33,409.85" fill="#a5a47f" stroke="#2a2a20" stroke-width="0.8" stroke-linejoin="round" />
<polygon points="257.81,437.35 295.17,450.31 295.20,448.86 257.81,435.90" fill="#f7f5c4" stroke="#2a2a20" stroke-width="0.8" stroke-linejoin="round" />
<polygon points="295.17,450.31 315.62,427.58 315.66,426.14 295.20,448.86" fill="#9c9b77" stroke="#2a2a20" stroke-width="0.8" stroke-linejoin="round" />
<polygon points="257.81,435.90 295.20,448.86 315.66,426.14 278.65,413.54" fill="#a5a47f" stroke="#2a2a20" stroke-width="0.8" stroke-linejoin="round" />
<polygon points="184.49,449.73 221.57,462.90 221.55,461.45 184.44,448.29" fill="#f7f5c4" stroke="#2a2a20" stroke-width="0.8" stroke-linejoin="round" />
<polygon points="221.57,462.90 243.24,439.81 243.23,438.36 221.55,461.45" fill="#9c9b77" stroke="#2a2a20" stroke-width="0.8" stroke-linejoin="round" />
<polygon points="184.44,448.29 221.55,461.45 243.23,438.36 206.48,425.57" fill="#a5a47f" stroke="#2a2a20" stroke-width="0.8" stroke-linejoin="round" />
<polygon points="230.94,466.22 268.76,479.65 269.98,343.43 229.66,330.27" fill="#5a52a8" stroke="#222233" stroke-width="0.5" stroke-linejoin="round" />
<polygon points="268.76,479.65 289.96,456.09 292.55,320.43 269.98,343.43" fill="#2f2c62" stroke="#222233" stroke-width="0.5" stroke-linejoin="round" />
<polygon points="229.66,330.27 269.98,343.43 292.55,320.43 252.65,307.66" fill="#584ea0" stroke="#222233" stroke-width="0.5" stroke-linejoin="round" />
<polygon points="229.66,330.27 269.98,343.43 270.01,340.72 229.64,327.57" fill="#554c9e" stroke="#222233" stroke-width="0.5" stroke-linejoin="round" />
<polygon points="269.98,343.43 292.55,320.43 292.60,317.74 270.01,340.72" fill="#38336f" stroke="#222233" stroke-width="0.5" stroke-linejoin="round" />
<polygon points="229.64,327.57 270.01,340.72 292.60,317.74 252.65,304.98" fill="#584ea0" stroke="#222233" stroke-width="0.5" stroke-linejoin="round" />
<line x1="230.65" y1="329.70" x2="269.99" y2="342.53" stroke="#8a82c8" stroke-width="1.1"/>
<line x1="269.99" y1="342.53" x2="292.01" y2="320.10" stroke="#5a54a0" stroke-width="1.0"/>
<line x1="229.62" y1="325.47" x2="270.03" y2="338.62" stroke="#111" stroke-width="0.6"/>
<line x1="270.03" y1="338.62" x2="292.64" y2="315.64" stroke="#111" stroke-width="0.6"/>
<line x1="292.64" y1="315.64" x2="252.66" y2="302.89" stroke="#111" stroke-width="0.6"/>
<line x1="252.66" y1="302.89" x2="229.62" y2="325.47" stroke="#111" stroke-width="0.6"/>
<line x1="229.64" y1="327.57" x2="229.62" y2="325.47" stroke="#111" stroke-width="0.6"/>
<line x1="270.01" y1="340.72" x2="270.03" y2="338.62" stroke="#111" stroke-width="0.6"/>
<line x1="292.60" y1="317.74" x2="292.64" y2="315.64" stroke="#111" stroke-width="0.6"/>
<line x1="252.65" y1="304.98" x2="252.66" y2="302.89" stroke="#111" stroke-width="0.6"/>
<line x1="86.94" y1="418.91" x2="76.17" y2="279.26" stroke="#111" stroke-width="1.3"/>
<line x1="86.94" y1="418.91" x2="270.85" y2="484.34" stroke="#111" stroke-width="1.3"/>
<line x1="270.85" y1="484.34" x2="371.19" y2="372.36" stroke="#111" stroke-width="1.3"/>
<line x1="86.94" y1="418.91" x2="84.29" y2="417.97" stroke="#111" stroke-width="1.3"/>
<line x1="81.73" y1="351.31" x2="79.00" y2="350.38" stroke="#111" stroke-width="1.3"/>
<line x1="76.17" y1="279.26" x2="73.36" y2="278.34" stroke="#111" stroke-width="1.3"/>
<line x1="106.84" y1="429.06" x2="111.46" y2="424.57" stroke="#111" stroke-width="1.1"/>
<line x1="280.39" y1="468.12" x2="287.99" y2="470.79" stroke="#111" stroke-width="1.1"/>
<line x1="151.95" y1="445.14" x2="156.49" y2="440.56" stroke="#111" stroke-width="1.1"/>
<line x1="306.40" y1="439.19" x2="313.91" y2="441.77" stroke="#111" stroke-width="1.1"/>
<line x1="197.95" y1="461.53" x2="202.40" y2="456.87" stroke="#111" stroke-width="1.1"/>
<line x1="331.51" y1="411.27" x2="338.92" y2="413.76" stroke="#111" stroke-width="1.1"/>
<line x1="244.88" y1="478.26" x2="249.23" y2="473.50" stroke="#111" stroke-width="1.1"/>
<line x1="355.75" y1="384.31" x2="363.07" y2="386.72" stroke="#111" stroke-width="1.1"/>
<line x1="88.91" y1="765.99" x2="199.36" y2="664.12" stroke="#b9b9b9" stroke-width="1.4"/>
<line x1="199.36" y1="664.12" x2="380.48" y2="720.80" stroke="#b9b9b9" stroke-width="1.4"/>
<line x1="84.06" y1="694.21" x2="198.25" y2="593.91" stroke="#b9b9b9" stroke-width="1.4"/>
<line x1="198.25" y1="593.91" x2="385.17" y2="649.31" stroke="#b9b9b9" stroke-width="1.4"/>
<line x1="93.45" y1="833.32" x2="200.41" y2="730.24" stroke="#b9b9b9" stroke-width="1.4"/>
<line x1="200.41" y1="730.24" x2="376.07" y2="787.95" stroke="#b9b9b9" stroke-width="1.4"/>
<line x1="200.41" y1="730.24" x2="198.25" y2="593.91" stroke="#b9b9b9" stroke-width="1.4"/>
<line x1="376.07" y1="787.95" x2="385.17" y2="649.31" stroke="#b9b9b9" stroke-width="1.4"/>
<polygon points="181.77,753.73 216.14,765.26 216.13,763.84 181.74,752.31" fill="#f7f5c4" stroke="#2a2a20" stroke-width="0.8" stroke-linejoin="round" />
<polygon points="216.14,765.26 236.22,745.28 236.22,743.86 216.13,763.84" fill="#9c9b77" stroke="#2a2a20" stroke-width="0.8" stroke-linejoin="round" />
<polygon points="181.74,752.31 216.13,763.84 236.22,743.86 202.10,732.63" fill="#a5a47f" stroke="#2a2a20" stroke-width="0.8" stroke-linejoin="round" />
<polygon points="224.82,768.18 259.90,779.95 259.92,778.52 224.82,766.75" fill="#f7f5c4" stroke="#2a2a20" stroke-width="0.8" stroke-linejoin="round" />
<polygon points="259.90,779.95 279.63,759.58 279.66,758.15 259.92,778.52" fill="#9c9b77" stroke="#2a2a20" stroke-width="0.8" stroke-linejoin="round" />
<polygon points="224.82,766.75 259.92,778.52 279.66,758.15 244.84,746.70" fill="#a5a47f" stroke="#2a2a20" stroke-width="0.8" stroke-linejoin="round" />
<polygon points="155.61,779.04 190.31,790.97 190.26,788.37 155.51,776.44" fill="#f7f5c4" stroke="#2a2a20" stroke-width="0.8" stroke-linejoin="round" />
<polygon points="190.31,790.97 211.04,770.34 211.01,767.75 190.26,788.37" fill="#9c9b77" stroke="#2a2a20" stroke-width="0.8" stroke-linejoin="round" />
<polygon points="155.51,776.44 190.26,788.37 211.01,767.75 176.54,756.14" fill="#a5a47f" stroke="#2a2a20" stroke-width="0.8" stroke-linejoin="round" />
<polygon points="268.76,782.92 304.58,794.94 304.66,792.33 268.80,780.32" fill="#f7f5c4" stroke="#2a2a20" stroke-width="0.8" stroke-linejoin="round" />
<polygon points="304.58,794.94 323.94,774.17 324.05,771.57 304.66,792.33" fill="#9c9b77" stroke="#2a2a20" stroke-width="0.8" stroke-linejoin="round" />
<polygon points="268.80,780.32 304.66,792.33 324.05,771.57 288.49,759.88" fill="#a5a47f" stroke="#2a2a20" stroke-width="0.8" stroke-linejoin="round" />
<polygon points="199.08,793.98 234.52,806.16 234.52,804.21 199.05,792.03" fill="#f7f5c4" stroke="#2a2a20" stroke-width="0.8" stroke-linejoin="round" />
<polygon points="234.52,806.16 254.89,785.12 254.91,783.17 234.52,804.21" fill="#9c9b77" stroke="#2a2a20" stroke-width="0.8" stroke-linejoin="round" />
<polygon points="199.05,792.03 234.52,804.21 254.91,783.17 219.73,771.33" fill="#a5a47f" stroke="#2a2a20" stroke-width="0.8" stroke-linejoin="round" />
<polygon points="313.62,797.98 350.19,810.25 357.17,681.39 318.34,669.52" fill="#5a52a8" stroke="#222233" stroke-width="0.5" stroke-linejoin="round" />
<polygon points="350.19,810.25 369.17,789.06 377.18,660.70 357.17,681.39" fill="#2f2c62" stroke="#222233" stroke-width="0.5" stroke-linejoin="round" />
<polygon points="318.34,669.52 357.17,681.39 377.18,660.70 338.70,649.17" fill="#584ea0" stroke="#222233" stroke-width="0.5" stroke-linejoin="round" />
<polygon points="318.34,669.52 357.17,681.39 357.53,674.75 318.58,662.91" fill="#554c9e" stroke="#222233" stroke-width="0.5" stroke-linejoin="round" />
<polygon points="357.17,681.39 377.18,660.70 377.59,654.09 357.53,674.75" fill="#38336f" stroke="#222233" stroke-width="0.5" stroke-linejoin="round" />
<polygon points="318.58,662.91 357.53,674.75 377.59,654.09 339.00,642.59" fill="#584ea0" stroke="#222233" stroke-width="0.5" stroke-linejoin="round" />
<line x1="319.33" y1="668.93" x2="357.21" y2="680.50" stroke="#8a82c8" stroke-width="1.1"/>
<line x1="357.21" y1="680.50" x2="376.74" y2="660.33" stroke="#5a54a0" stroke-width="1.0"/>
<line x1="318.72" y1="659.22" x2="357.73" y2="671.05" stroke="#111" stroke-width="0.6"/>
<line x1="357.73" y1="671.05" x2="377.82" y2="650.41" stroke="#111" stroke-width="0.6"/>
<line x1="377.82" y1="650.41" x2="339.17" y2="638.92" stroke="#111" stroke-width="0.6"/>
<line x1="339.17" y1="638.92" x2="318.72" y2="659.22" stroke="#111" stroke-width="0.6"/>
<line x1="318.58" y1="662.91" x2="318.72" y2="659.22" stroke="#111" stroke-width="0.6"/>
<line x1="357.53" y1="674.75" x2="357.73" y2="671.05" stroke="#111" stroke-width="0.6"/>
<line x1="377.59" y1="654.09" x2="377.82" y2="650.41" stroke="#111" stroke-width="0.6"/>
<line x1="339.00" y1="642.59" x2="339.17" y2="638.92" stroke="#111" stroke-width="0.6"/>
<polygon points="128.59,805.17 163.64,817.52 159.31,689.67 122.21,677.72" fill="#5a52a8" stroke="#222233" stroke-width="0.5" stroke-linejoin="round" />
<polygon points="163.64,817.52 185.05,796.21 182.06,668.85 159.31,689.67" fill="#2f2c62" stroke="#222233" stroke-width="0.5" stroke-linejoin="round" />
<polygon points="122.21,677.72 159.31,689.67 182.06,668.85 145.26,657.24" fill="#584ea0" stroke="#222233" stroke-width="0.5" stroke-linejoin="round" />
<polygon points="122.21,677.72 159.31,689.67 159.19,686.00 122.02,674.06" fill="#554c9e" stroke="#222233" stroke-width="0.5" stroke-linejoin="round" />
<polygon points="159.31,689.67 182.06,668.85 181.97,665.20 159.19,686.00" fill="#38336f" stroke="#222233" stroke-width="0.5" stroke-linejoin="round" />
<polygon points="122.02,674.06 159.19,686.00 181.97,665.20 145.11,653.60" fill="#584ea0" stroke="#222233" stroke-width="0.5" stroke-linejoin="round" />
<line x1="123.08" y1="677.14" x2="159.28" y2="688.79" stroke="#8a82c8" stroke-width="1.1"/>
<line x1="159.28" y1="688.79" x2="181.48" y2="668.49" stroke="#5a54a0" stroke-width="1.0"/>
<line x1="121.66" y1="666.71" x2="158.94" y2="678.63" stroke="#111" stroke-width="0.6"/>
<line x1="158.94" y1="678.63" x2="181.80" y2="657.86" stroke="#111" stroke-width="0.6"/>
<line x1="181.80" y1="657.86" x2="144.82" y2="646.29" stroke="#111" stroke-width="0.6"/>
<line x1="144.82" y1="646.29" x2="121.66" y2="666.71" stroke="#111" stroke-width="0.6"/>
<line x1="122.02" y1="674.06" x2="121.66" y2="666.71" stroke="#111" stroke-width="0.6"/>
<line x1="159.19" y1="686.00" x2="158.94" y2="678.63" stroke="#111" stroke-width="0.6"/>
<line x1="181.97" y1="665.20" x2="181.80" y2="657.86" stroke="#111" stroke-width="0.6"/>
<line x1="145.11" y1="653.60" x2="144.82" y2="646.29" stroke="#111" stroke-width="0.6"/>
<polygon points="243.47,809.24 279.66,821.68 282.40,691.24 243.97,679.20" fill="#5a52a8" stroke="#222233" stroke-width="0.5" stroke-linejoin="round" />
<polygon points="279.66,821.68 299.66,800.22 303.58,670.27 282.40,691.24" fill="#2f2c62" stroke="#222233" stroke-width="0.5" stroke-linejoin="round" />
<polygon points="243.97,679.20 282.40,691.24 303.58,670.27 265.49,658.58" fill="#584ea0" stroke="#222233" stroke-width="0.5" stroke-linejoin="round" />
<polygon points="243.97,679.20 282.40,691.24 282.49,686.81 243.99,674.79" fill="#554c9e" stroke="#222233" stroke-width="0.5" stroke-linejoin="round" />
<polygon points="282.40,691.24 303.58,670.27 303.71,665.86 282.49,686.81" fill="#38336f" stroke="#222233" stroke-width="0.5" stroke-linejoin="round" />
<polygon points="243.99,674.79 282.49,686.81 303.71,665.86 265.55,654.19" fill="#584ea0" stroke="#222233" stroke-width="0.5" stroke-linejoin="round" />
<line x1="244.93" y1="678.62" x2="282.42" y2="690.35" stroke="#8a82c8" stroke-width="1.1"/>
<line x1="282.42" y1="690.35" x2="303.08" y2="669.91" stroke="#5a54a0" stroke-width="1.0"/>
<line x1="244.01" y1="670.36" x2="282.59" y2="682.36" stroke="#111" stroke-width="0.6"/>
<line x1="282.59" y1="682.36" x2="303.85" y2="661.44" stroke="#111" stroke-width="0.6"/>
<line x1="303.85" y1="661.44" x2="265.61" y2="649.78" stroke="#111" stroke-width="0.6"/>
<line x1="265.61" y1="649.78" x2="244.01" y2="670.36" stroke="#111" stroke-width="0.6"/>
<line x1="243.99" y1="674.79" x2="244.01" y2="670.36" stroke="#111" stroke-width="0.6"/>
<line x1="282.49" y1="686.81" x2="282.59" y2="682.36" stroke="#111" stroke-width="0.6"/>
<line x1="303.71" y1="665.86" x2="303.85" y2="661.44" stroke="#111" stroke-width="0.6"/>
<line x1="265.55" y1="654.19" x2="265.61" y2="649.78" stroke="#111" stroke-width="0.6"/>
<polygon points="172.49,820.63 208.29,833.24 208.25,830.63 172.41,818.02" fill="#f7f5c4" stroke="#2a2a20" stroke-width="0.8" stroke-linejoin="round" />
<polygon points="208.29,833.24 229.34,811.51 229.33,808.90 208.25,830.63" fill="#9c9b77" stroke="#2a2a20" stroke-width="0.8" stroke-linejoin="round" />
<polygon points="172.41,818.02 208.25,830.63 229.33,808.90 193.78,796.64" fill="#a5a47f" stroke="#2a2a20" stroke-width="0.8" stroke-linejoin="round" />
<polygon points="288.80,824.82 325.76,837.53 325.91,834.25 288.88,821.55" fill="#f7f5c4" stroke="#2a2a20" stroke-width="0.8" stroke-linejoin="round" />
<polygon points="325.76,837.53 345.37,815.63 345.54,812.36 325.91,834.25" fill="#9c9b77" stroke="#2a2a20" stroke-width="0.8" stroke-linejoin="round" />
<polygon points="288.88,821.55 325.91,834.25 345.54,812.36 308.84,800.01" fill="#a5a47f" stroke="#2a2a20" stroke-width="0.8" stroke-linejoin="round" />
<polygon points="100.68,832.16 136.07,844.95 135.94,842.33 100.51,829.55" fill="#f7f5c4" stroke="#2a2a20" stroke-width="0.8" stroke-linejoin="round" />
<polygon points="136.07,844.95 158.19,822.93 158.10,820.32 135.94,842.33" fill="#9c9b77" stroke="#2a2a20" stroke-width="0.8" stroke-linejoin="round" />
<polygon points="100.51,829.55 135.94,842.33 158.10,820.32 122.94,807.89" fill="#a5a47f" stroke="#2a2a20" stroke-width="0.8" stroke-linejoin="round" />
<polygon points="217.33,836.43 253.90,849.31 253.91,847.87 217.32,834.99" fill="#f7f5c4" stroke="#2a2a20" stroke-width="0.8" stroke-linejoin="round" />
<polygon points="253.90,849.31 274.57,827.13 274.60,825.69 253.91,847.87" fill="#9c9b77" stroke="#2a2a20" stroke-width="0.8" stroke-linejoin="round" />
<polygon points="217.32,834.99 253.91,847.87 274.60,825.69 238.31,813.17" fill="#a5a47f" stroke="#2a2a20" stroke-width="0.8" stroke-linejoin="round" />
<polygon points="145.01,848.18 181.17,861.24 177.89,735.31 139.58,722.61" fill="#5a52a8" stroke="#222233" stroke-width="0.5" stroke-linejoin="round" />
<polygon points="181.17,861.24 202.94,838.77 201.00,713.27 177.89,735.31" fill="#2f2c62" stroke="#222233" stroke-width="0.5" stroke-linejoin="round" />
<polygon points="139.58,722.61 177.89,735.31 201.00,713.27 163.02,700.94" fill="#584ea0" stroke="#222233" stroke-width="0.5" stroke-linejoin="round" />
<polygon points="139.58,722.61 177.89,735.31 177.80,731.61 139.43,718.93" fill="#554c9e" stroke="#222233" stroke-width="0.5" stroke-linejoin="round" />
<polygon points="177.89,735.31 201.00,713.27 200.95,709.59 177.80,731.61" fill="#38336f" stroke="#222233" stroke-width="0.5" stroke-linejoin="round" />
<polygon points="139.43,718.93 177.80,731.61 200.95,709.59 162.91,697.28" fill="#584ea0" stroke="#222233" stroke-width="0.5" stroke-linejoin="round" />
<line x1="140.50" y1="722.04" x2="177.87" y2="734.42" stroke="#8a82c8" stroke-width="1.1"/>
<line x1="177.87" y1="734.42" x2="200.42" y2="712.93" stroke="#5a54a0" stroke-width="1.0"/>
<line x1="138.98" y1="708.55" x2="177.52" y2="721.20" stroke="#111" stroke-width="0.6"/>
<line x1="177.52" y1="721.20" x2="200.79" y2="699.22" stroke="#111" stroke-width="0.6"/>
<line x1="200.79" y1="699.22" x2="162.57" y2="686.94" stroke="#111" stroke-width="0.6"/>
<line x1="162.57" y1="686.94" x2="138.98" y2="708.55" stroke="#111" stroke-width="0.6"/>
<line x1="139.43" y1="718.93" x2="138.98" y2="708.55" stroke="#111" stroke-width="0.6"/>
<line x1="177.80" y1="731.61" x2="177.52" y2="721.20" stroke="#111" stroke-width="0.6"/>
<line x1="200.95" y1="709.59" x2="200.79" y2="699.22" stroke="#111" stroke-width="0.6"/>
<line x1="162.91" y1="697.28" x2="162.57" y2="686.94" stroke="#111" stroke-width="0.6"/>
<polygon points="263.14,852.57 300.51,865.73 300.56,864.28 263.16,851.12" fill="#f7f5c4" stroke="#2a2a20" stroke-width="0.8" stroke-linejoin="round" />
<polygon points="300.51,865.73 320.78,843.09 320.84,841.65 300.56,864.28" fill="#9c9b77" stroke="#2a2a20" stroke-width="0.8" stroke-linejoin="round" />
<polygon points="263.16,851.12 300.56,864.28 320.84,841.65 283.77,828.86" fill="#a5a47f" stroke="#2a2a20" stroke-width="0.8" stroke-linejoin="round" />
<polygon points="190.31,864.54 227.27,877.89 227.26,876.44 190.28,863.10" fill="#f7f5c4" stroke="#2a2a20" stroke-width="0.8" stroke-linejoin="round" />
<polygon points="227.27,877.89 248.65,854.95 248.66,853.51 227.26,876.44" fill="#9c9b77" stroke="#2a2a20" stroke-width="0.8" stroke-linejoin="round" />
<polygon points="190.28,863.10 227.26,876.44 248.66,853.51 211.98,840.54" fill="#a5a47f" stroke="#2a2a20" stroke-width="0.8" stroke-linejoin="round" />
<polygon points="236.61,881.26 274.38,894.91 274.41,893.46 236.61,879.81" fill="#f7f5c4" stroke="#2a2a20" stroke-width="0.8" stroke-linejoin="round" />
<polygon points="274.38,894.91 295.36,871.49 295.40,870.04 274.41,893.46" fill="#9c9b77" stroke="#2a2a20" stroke-width="0.8" stroke-linejoin="round" />
<polygon points="236.61,879.81 274.41,893.46 295.40,870.04 257.92,856.79" fill="#a5a47f" stroke="#2a2a20" stroke-width="0.8" stroke-linejoin="round" />
<line x1="93.45" y1="833.32" x2="84.06" y2="694.21" stroke="#111" stroke-width="1.3"/>
<line x1="93.45" y1="833.32" x2="276.50" y2="899.61" stroke="#111" stroke-width="1.3"/>
<line x1="276.50" y1="899.61" x2="376.07" y2="787.95" stroke="#111" stroke-width="1.3"/>
<line x1="93.45" y1="833.32" x2="90.82" y2="832.37" stroke="#111" stroke-width="1.3"/>
<line x1="88.91" y1="765.99" x2="86.20" y2="765.06" stroke="#111" stroke-width="1.3"/>
<line x1="84.06" y1="694.21" x2="81.27" y2="693.29" stroke="#111" stroke-width="1.3"/>
<line x1="113.21" y1="843.52" x2="117.73" y2="839.08" stroke="#111" stroke-width="1.1"/>
<line x1="285.89" y1="883.46" x2="293.50" y2="886.18" stroke="#111" stroke-width="1.1"/>
<line x1="158.00" y1="859.78" x2="162.46" y2="855.25" stroke="#111" stroke-width="1.1"/>
<line x1="311.65" y1="854.66" x2="319.17" y2="857.29" stroke="#111" stroke-width="1.1"/>
<line x1="203.78" y1="876.39" x2="208.16" y2="871.76" stroke="#111" stroke-width="1.1"/>
<line x1="336.56" y1="826.82" x2="344.00" y2="829.36" stroke="#111" stroke-width="1.1"/>
<line x1="250.58" y1="893.37" x2="254.88" y2="888.64" stroke="#111" stroke-width="1.1"/>
<line x1="360.66" y1="799.89" x2="368.02" y2="802.34" stroke="#111" stroke-width="1.1"/>
<line x1="521.80" y1="341.51" x2="631.75" y2="238.05" stroke="#b9b9b9" stroke-width="1.4"/>
<line x1="631.75" y1="238.05" x2="812.87" y2="295.97" stroke="#b9b9b9" stroke-width="1.4"/>
<line x1="517.16" y1="267.07" x2="630.80" y2="165.27" stroke="#b9b9b9" stroke-width="1.4"/>
<line x1="630.80" y1="165.27" x2="817.71" y2="221.76" stroke="#b9b9b9" stroke-width="1.4"/>
<line x1="526.14" y1="411.36" x2="632.64" y2="306.60" stroke="#b9b9b9" stroke-width="1.4"/>
<line x1="632.64" y1="306.60" x2="808.31" y2="365.69" stroke="#b9b9b9" stroke-width="1.4"/>
<line x1="632.64" y1="306.60" x2="630.80" y2="165.27" stroke="#b9b9b9" stroke-width="1.4"/>
<line x1="808.31" y1="365.69" x2="817.71" y2="221.76" stroke="#b9b9b9" stroke-width="1.4"/>
<polygon points="623.43,318.45 640.44,324.24 639.14,189.78 621.14,184.25" fill="#5a52a8" stroke="#222233" stroke-width="0.5" stroke-linejoin="round" />
<polygon points="640.44,324.24 650.44,314.24 649.74,180.08 639.14,189.78" fill="#2f2c62" stroke="#222233" stroke-width="0.5" stroke-linejoin="round" />
<polygon points="621.14,184.25 639.14,189.78 649.74,180.08 631.81,174.62" fill="#584ea0" stroke="#222233" stroke-width="0.5" stroke-linejoin="round" />
<polygon points="621.14,184.25 639.14,189.78 639.11,186.78 621.09,181.25" fill="#554c9e" stroke="#222233" stroke-width="0.5" stroke-linejoin="round" />
<polygon points="639.14,189.78 649.74,180.08 649.72,177.09 639.11,186.78" fill="#38336f" stroke="#222233" stroke-width="0.5" stroke-linejoin="round" />
<polygon points="621.09,181.25 639.11,186.78 649.72,177.09 631.77,171.64" fill="#584ea0" stroke="#222233" stroke-width="0.5" stroke-linejoin="round" />
<line x1="621.57" y1="183.49" x2="639.13" y2="188.88" stroke="#8a82c8" stroke-width="1.1"/>
<line x1="639.13" y1="188.88" x2="649.47" y2="179.43" stroke="#5a54a0" stroke-width="1.0"/>
<line x1="621.01" y1="176.74" x2="639.07" y2="182.26" stroke="#111" stroke-width="0.6"/>
<line x1="639.07" y1="182.26" x2="649.70" y2="172.58" stroke="#111" stroke-width="0.6"/>
<line x1="649.70" y1="172.58" x2="631.71" y2="167.14" stroke="#111" stroke-width="0.6"/>
<line x1="631.71" y1="167.14" x2="621.01" y2="176.74" stroke="#111" stroke-width="0.6"/>
<line x1="621.09" y1="181.25" x2="621.01" y2="176.74" stroke="#111" stroke-width="0.6"/>
<line x1="639.11" y1="186.78" x2="639.07" y2="182.26" stroke="#111" stroke-width="0.6"/>
<line x1="649.72" y1="177.09" x2="649.70" y2="172.58" stroke="#111" stroke-width="0.6"/>
<line x1="631.77" y1="171.64" x2="631.71" y2="167.14" stroke="#111" stroke-width="0.6"/>
<polygon points="644.71,325.69 661.90,331.53 661.90,330.73 644.71,324.89" fill="#f7f5c4" stroke="#2a2a20" stroke-width="0.65" stroke-linejoin="round" />
<polygon points="661.90,331.53 671.81,321.44 671.82,320.64 661.90,330.73" fill="#9c9b77" stroke="#2a2a20" stroke-width="0.65" stroke-linejoin="round" />
<polygon points="644.71,324.89 661.90,330.73 671.82,320.64 654.69,314.88" fill="#a5a47f" stroke="#2a2a20" stroke-width="0.65" stroke-linejoin="round" />
<polygon points="610.67,331.02 627.76,336.90 627.75,336.10 610.66,330.22" fill="#f7f5c4" stroke="#2a2a20" stroke-width="0.65" stroke-linejoin="round" />
<polygon points="627.76,336.90 637.92,326.75 637.91,325.95 627.75,336.10" fill="#9c9b77" stroke="#2a2a20" stroke-width="0.65" stroke-linejoin="round" />
<polygon points="610.66,330.22 627.75,336.10 637.91,325.95 620.88,320.15" fill="#a5a47f" stroke="#2a2a20" stroke-width="0.65" stroke-linejoin="round" />
<polygon points="666.21,333.00 683.58,338.90 683.59,338.10 666.22,332.20" fill="#f7f5c4" stroke="#2a2a20" stroke-width="0.65" stroke-linejoin="round" />
<polygon points="683.58,338.90 693.41,328.72 693.42,327.91 683.59,338.10" fill="#9c9b77" stroke="#2a2a20" stroke-width="0.65" stroke-linejoin="round" />
<polygon points="666.22,332.20 683.59,338.10 693.42,327.91 676.12,322.09" fill="#a5a47f" stroke="#2a2a20" stroke-width="0.65" stroke-linejoin="round" />
<polygon points="632.06,338.38 649.32,344.32 648.54,209.20 630.25,203.51" fill="#5a52a8" stroke="#222233" stroke-width="0.5" stroke-linejoin="round" />
<polygon points="649.32,344.32 659.40,334.07 659.22,199.24 648.54,209.20" fill="#2f2c62" stroke="#222233" stroke-width="0.5" stroke-linejoin="round" />
<polygon points="630.25,203.51 648.54,209.20 659.22,199.24 641.00,193.62" fill="#584ea0" stroke="#222233" stroke-width="0.5" stroke-linejoin="round" />
<polygon points="630.25,203.51 648.54,209.20 648.52,206.19 630.21,200.49" fill="#554c9e" stroke="#222233" stroke-width="0.5" stroke-linejoin="round" />
<polygon points="648.54,209.20 659.22,199.24 659.22,196.23 648.52,206.19" fill="#38336f" stroke="#222233" stroke-width="0.5" stroke-linejoin="round" />
<polygon points="630.21,200.49 648.52,206.19 659.22,196.23 640.97,190.62" fill="#584ea0" stroke="#222233" stroke-width="0.5" stroke-linejoin="round" />
<line x1="630.69" y1="202.74" x2="648.53" y2="208.30" stroke="#8a82c8" stroke-width="1.1"/>
<line x1="648.53" y1="208.30" x2="658.95" y2="198.59" stroke="#5a54a0" stroke-width="1.0"/>
<line x1="630.15" y1="195.96" x2="648.50" y2="201.64" stroke="#111" stroke-width="0.6"/>
<line x1="648.50" y1="201.64" x2="659.21" y2="191.70" stroke="#111" stroke-width="0.6"/>
<line x1="659.21" y1="191.70" x2="640.93" y2="186.10" stroke="#111" stroke-width="0.6"/>
<line x1="640.93" y1="186.10" x2="630.15" y2="195.96" stroke="#111" stroke-width="0.6"/>
<line x1="630.21" y1="200.49" x2="630.15" y2="195.96" stroke="#111" stroke-width="0.6"/>
<line x1="648.52" y1="206.19" x2="648.50" y2="201.64" stroke="#111" stroke-width="0.6"/>
<line x1="659.22" y1="196.23" x2="659.21" y2="191.70" stroke="#111" stroke-width="0.6"/>
<line x1="640.97" y1="190.62" x2="640.93" y2="186.10" stroke="#111" stroke-width="0.6"/>
<polygon points="687.94,340.39 705.49,346.35 705.50,345.55 687.95,339.58" fill="#f7f5c4" stroke="#2a2a20" stroke-width="0.65" stroke-linejoin="round" />
<polygon points="705.49,346.35 715.24,336.07 715.25,335.26 705.50,345.55" fill="#9c9b77" stroke="#2a2a20" stroke-width="0.65" stroke-linejoin="round" />
<polygon points="687.95,339.58 705.50,345.55 715.25,335.26 697.77,329.38" fill="#a5a47f" stroke="#2a2a20" stroke-width="0.65" stroke-linejoin="round" />
<polygon points="597.72,343.79 614.89,349.77 614.87,348.97 597.69,342.99" fill="#f7f5c4" stroke="#2a2a20" stroke-width="0.65" stroke-linejoin="round" />
<polygon points="614.89,349.77 625.20,339.46 625.19,338.66 614.87,348.97" fill="#9c9b77" stroke="#2a2a20" stroke-width="0.65" stroke-linejoin="round" />
<polygon points="597.69,342.99 614.87,348.97 625.19,338.66 608.08,332.76" fill="#a5a47f" stroke="#2a2a20" stroke-width="0.65" stroke-linejoin="round" />
<polygon points="653.66,345.82 671.11,351.82 671.11,351.02 653.66,345.01" fill="#f7f5c4" stroke="#2a2a20" stroke-width="0.65" stroke-linejoin="round" />
<polygon points="671.11,351.82 681.10,341.47 681.11,340.67 671.11,351.02" fill="#9c9b77" stroke="#2a2a20" stroke-width="0.65" stroke-linejoin="round" />
<polygon points="653.66,345.01 671.11,351.02 681.11,340.67 663.72,334.74" fill="#a5a47f" stroke="#2a2a20" stroke-width="0.65" stroke-linejoin="round" />
<polygon points="709.90,347.85 727.63,353.88 727.65,353.07 709.91,347.05" fill="#f7f5c4" stroke="#2a2a20" stroke-width="0.65" stroke-linejoin="round" />
<polygon points="727.63,353.88 737.29,343.49 737.32,342.69 727.65,353.07" fill="#9c9b77" stroke="#2a2a20" stroke-width="0.65" stroke-linejoin="round" />
<polygon points="709.91,347.05 727.65,353.07 737.32,342.69 719.65,336.74" fill="#a5a47f" stroke="#2a2a20" stroke-width="0.65" stroke-linejoin="round" />
<polygon points="619.20,351.28 636.55,357.32 636.54,356.51 619.18,350.47" fill="#f7f5c4" stroke="#2a2a20" stroke-width="0.65" stroke-linejoin="round" />
<polygon points="636.55,357.32 646.78,346.91 646.78,346.10 636.54,356.51" fill="#9c9b77" stroke="#2a2a20" stroke-width="0.65" stroke-linejoin="round" />
<polygon points="619.18,350.47 636.54,356.51 646.78,346.10 629.49,340.14" fill="#a5a47f" stroke="#2a2a20" stroke-width="0.65" stroke-linejoin="round" />
<polygon points="675.50,353.33 693.13,359.40 693.14,358.59 675.50,352.52" fill="#f7f5c4" stroke="#2a2a20" stroke-width="0.65" stroke-linejoin="round" />
<polygon points="693.13,359.40 703.03,348.95 703.05,348.14 693.14,358.59" fill="#9c9b77" stroke="#2a2a20" stroke-width="0.65" stroke-linejoin="round" />
<polygon points="675.50,352.52 693.14,358.59 703.05,348.14 685.48,342.15" fill="#a5a47f" stroke="#2a2a20" stroke-width="0.65" stroke-linejoin="round" />
<polygon points="732.09,355.40 750.01,361.49 750.04,360.68 732.11,354.59" fill="#f7f5c4" stroke="#2a2a20" stroke-width="0.65" stroke-linejoin="round" />
<polygon points="750.01,361.49 759.57,351.00 759.61,350.19 750.04,360.68" fill="#9c9b77" stroke="#2a2a20" stroke-width="0.65" stroke-linejoin="round" />
<polygon points="732.11,354.59 750.04,360.68 759.61,350.19 741.76,344.18" fill="#a5a47f" stroke="#2a2a20" stroke-width="0.65" stroke-linejoin="round" />
<polygon points="584.55,356.76 601.80,362.85 601.78,362.04 584.53,355.96" fill="#f7f5c4" stroke="#2a2a20" stroke-width="0.65" stroke-linejoin="round" />
<polygon points="601.80,362.85 612.29,352.37 612.27,351.57 601.78,362.04" fill="#9c9b77" stroke="#2a2a20" stroke-width="0.65" stroke-linejoin="round" />
<polygon points="584.53,355.96 601.78,362.04 612.27,351.57 595.08,345.57" fill="#a5a47f" stroke="#2a2a20" stroke-width="0.65" stroke-linejoin="round" />
<polygon points="640.91,358.84 658.44,364.95 658.20,229.17 639.61,223.31" fill="#5a52a8" stroke="#222233" stroke-width="0.5" stroke-linejoin="round" />
<polygon points="658.44,364.95 668.59,354.43 668.97,218.94 658.20,229.17" fill="#2f2c62" stroke="#222233" stroke-width="0.5" stroke-linejoin="round" />
<polygon points="639.61,223.31 658.20,229.17 668.97,218.94 650.45,213.15" fill="#584ea0" stroke="#222233" stroke-width="0.5" stroke-linejoin="round" />
<polygon points="639.61,223.31 658.20,229.17 658.20,226.14 639.58,220.28" fill="#554c9e" stroke="#222233" stroke-width="0.5" stroke-linejoin="round" />
<polygon points="658.20,229.17 668.97,218.94 668.98,215.91 658.20,226.14" fill="#38336f" stroke="#222233" stroke-width="0.5" stroke-linejoin="round" />
<polygon points="639.58,220.28 658.20,226.14 668.98,215.91 650.44,210.13" fill="#584ea0" stroke="#222233" stroke-width="0.5" stroke-linejoin="round" />
<line x1="640.07" y1="222.54" x2="658.20" y2="228.26" stroke="#8a82c8" stroke-width="1.1"/>
<line x1="658.20" y1="228.26" x2="668.70" y2="218.28" stroke="#5a54a0" stroke-width="1.0"/>
<line x1="639.54" y1="215.72" x2="658.19" y2="221.57" stroke="#111" stroke-width="0.6"/>
<line x1="658.19" y1="221.57" x2="668.99" y2="211.35" stroke="#111" stroke-width="0.6"/>
<line x1="668.99" y1="211.35" x2="650.41" y2="205.58" stroke="#111" stroke-width="0.6"/>
<line x1="650.41" y1="205.58" x2="639.54" y2="215.72" stroke="#111" stroke-width="0.6"/>
<line x1="639.58" y1="220.28" x2="639.54" y2="215.72" stroke="#111" stroke-width="0.6"/>
<line x1="658.20" y1="226.14" x2="658.19" y2="221.57" stroke="#111" stroke-width="0.6"/>
<line x1="668.98" y1="215.91" x2="668.99" y2="211.35" stroke="#111" stroke-width="0.6"/>
<line x1="650.44" y1="210.13" x2="650.41" y2="205.58" stroke="#111" stroke-width="0.6"/>
<polygon points="697.56,360.93 715.38,367.06 715.40,366.25 697.57,360.12" fill="#f7f5c4" stroke="#2a2a20" stroke-width="0.65" stroke-linejoin="round" />
<polygon points="715.38,367.06 725.20,356.50 725.22,355.69 715.40,366.25" fill="#9c9b77" stroke="#2a2a20" stroke-width="0.65" stroke-linejoin="round" />
<polygon points="697.57,360.12 715.40,366.25 725.22,355.69 707.46,349.64" fill="#a5a47f" stroke="#2a2a20" stroke-width="0.65" stroke-linejoin="round" />
<polygon points="754.51,363.02 772.62,369.18 772.66,368.37 754.54,362.21" fill="#f7f5c4" stroke="#2a2a20" stroke-width="0.65" stroke-linejoin="round" />
<polygon points="772.62,369.18 782.10,358.58 782.14,357.77 772.66,368.37" fill="#9c9b77" stroke="#2a2a20" stroke-width="0.65" stroke-linejoin="round" />
<polygon points="754.54,362.21 772.66,368.37 782.14,357.77 764.10,351.70" fill="#a5a47f" stroke="#2a2a20" stroke-width="0.65" stroke-linejoin="round" />
<polygon points="606.14,364.38 623.57,370.52 623.56,369.71 606.12,363.57" fill="#f7f5c4" stroke="#2a2a20" stroke-width="0.65" stroke-linejoin="round" />
<polygon points="623.57,370.52 633.97,359.94 633.96,359.14 623.56,369.71" fill="#9c9b77" stroke="#2a2a20" stroke-width="0.65" stroke-linejoin="round" />
<polygon points="606.12,363.57 623.56,369.71 633.96,359.14 616.59,353.07" fill="#a5a47f" stroke="#2a2a20" stroke-width="0.65" stroke-linejoin="round" />
<polygon points="662.85,366.48 680.57,372.66 680.58,371.85 662.85,365.67" fill="#f7f5c4" stroke="#2a2a20" stroke-width="0.65" stroke-linejoin="round" />
<polygon points="680.57,372.66 690.63,362.03 690.64,361.23 680.58,371.85" fill="#9c9b77" stroke="#2a2a20" stroke-width="0.65" stroke-linejoin="round" />
<polygon points="662.85,365.67 680.58,371.85 690.64,361.23 672.99,355.14" fill="#a5a47f" stroke="#2a2a20" stroke-width="0.65" stroke-linejoin="round" />
<polygon points="777.17,370.73 795.48,376.95 795.53,376.14 777.22,369.92" fill="#f7f5c4" stroke="#2a2a20" stroke-width="0.65" stroke-linejoin="round" />
<polygon points="795.48,376.95 804.86,366.25 804.91,365.44 795.53,376.14" fill="#9c9b77" stroke="#2a2a20" stroke-width="0.65" stroke-linejoin="round" />
<polygon points="777.22,369.92 795.53,376.14 804.91,365.44 786.67,359.30" fill="#a5a47f" stroke="#2a2a20" stroke-width="0.65" stroke-linejoin="round" />
<polygon points="719.86,368.60 737.87,374.80 737.90,373.99 719.88,367.79" fill="#f7f5c4" stroke="#2a2a20" stroke-width="0.65" stroke-linejoin="round" />
<polygon points="737.87,374.80 747.60,364.14 747.63,363.33 737.90,373.99" fill="#9c9b77" stroke="#2a2a20" stroke-width="0.65" stroke-linejoin="round" />
<polygon points="719.88,367.79 737.90,373.99 747.63,363.33 729.68,357.21" fill="#a5a47f" stroke="#2a2a20" stroke-width="0.65" stroke-linejoin="round" />
<polygon points="571.18,369.94 588.51,376.13 588.49,375.32 571.15,369.13" fill="#f7f5c4" stroke="#2a2a20" stroke-width="0.65" stroke-linejoin="round" />
<polygon points="588.51,376.13 599.16,365.49 599.14,364.68 588.49,375.32" fill="#9c9b77" stroke="#2a2a20" stroke-width="0.65" stroke-linejoin="round" />
<polygon points="571.15,369.13 588.49,375.32 599.14,364.68 581.87,358.58" fill="#a5a47f" stroke="#2a2a20" stroke-width="0.65" stroke-linejoin="round" />
<polygon points="627.95,372.07 645.57,378.28 645.57,377.47 627.94,371.26" fill="#f7f5c4" stroke="#2a2a20" stroke-width="0.65" stroke-linejoin="round" />
<polygon points="645.57,378.28 655.89,367.60 655.88,366.79 645.57,377.47" fill="#9c9b77" stroke="#2a2a20" stroke-width="0.65" stroke-linejoin="round" />
<polygon points="627.94,371.26 645.57,377.47 655.88,366.79 638.33,360.66" fill="#a5a47f" stroke="#2a2a20" stroke-width="0.65" stroke-linejoin="round" />
<polygon points="685.03,374.21 702.94,380.45 702.95,379.63 685.03,373.40" fill="#f7f5c4" stroke="#2a2a20" stroke-width="0.65" stroke-linejoin="round" />
<polygon points="702.94,380.45 712.91,369.72 712.93,368.91 702.95,379.63" fill="#9c9b77" stroke="#2a2a20" stroke-width="0.65" stroke-linejoin="round" />
<polygon points="685.03,373.40 702.95,379.63 712.93,368.91 695.08,362.76" fill="#a5a47f" stroke="#2a2a20" stroke-width="0.65" stroke-linejoin="round" />
<polygon points="742.40,376.36 760.61,382.62 760.64,381.81 742.43,375.54" fill="#f7f5c4" stroke="#2a2a20" stroke-width="0.65" stroke-linejoin="round" />
<polygon points="760.61,382.62 770.23,371.85 770.27,371.04 760.64,381.81" fill="#9c9b77" stroke="#2a2a20" stroke-width="0.65" stroke-linejoin="round" />
<polygon points="742.43,375.54 760.64,381.81 770.27,371.04 752.14,364.86" fill="#a5a47f" stroke="#2a2a20" stroke-width="0.65" stroke-linejoin="round" />
<polygon points="592.87,377.69 610.38,383.94 610.37,383.13 592.84,376.88" fill="#f7f5c4" stroke="#2a2a20" stroke-width="0.65" stroke-linejoin="round" />
<polygon points="610.38,383.94 620.95,373.19 620.94,372.38 610.37,383.13" fill="#9c9b77" stroke="#2a2a20" stroke-width="0.65" stroke-linejoin="round" />
<polygon points="592.84,376.88 610.37,383.13 620.94,372.38 603.48,366.21" fill="#a5a47f" stroke="#2a2a20" stroke-width="0.65" stroke-linejoin="round" />
<polygon points="650.00,379.84 667.81,386.13 668.14,249.71 649.24,243.67" fill="#5a52a8" stroke="#222233" stroke-width="0.5" stroke-linejoin="round" />
<polygon points="667.81,386.13 678.04,375.33 678.99,239.19 668.14,249.71" fill="#2f2c62" stroke="#222233" stroke-width="0.5" stroke-linejoin="round" />
<polygon points="649.24,243.67 668.14,249.71 678.99,239.19 660.17,233.24" fill="#584ea0" stroke="#222233" stroke-width="0.5" stroke-linejoin="round" />
<polygon points="649.24,243.67 668.14,249.71 668.15,246.66 649.22,240.62" fill="#554c9e" stroke="#222233" stroke-width="0.5" stroke-linejoin="round" />
<polygon points="668.14,249.71 678.99,239.19 679.01,236.15 668.15,246.66" fill="#38336f" stroke="#222233" stroke-width="0.5" stroke-linejoin="round" />
<polygon points="649.22,240.62 668.15,246.66 679.01,236.15 660.17,230.20" fill="#584ea0" stroke="#222233" stroke-width="0.5" stroke-linejoin="round" />
<line x1="649.71" y1="242.91" x2="668.15" y2="248.80" stroke="#8a82c8" stroke-width="1.1"/>
<line x1="668.15" y1="248.80" x2="678.73" y2="238.54" stroke="#5a54a0" stroke-width="1.0"/>
<line x1="649.20" y1="236.04" x2="668.16" y2="242.07" stroke="#111" stroke-width="0.6"/>
<line x1="668.16" y1="242.07" x2="679.05" y2="231.56" stroke="#111" stroke-width="0.6"/>
<line x1="679.05" y1="231.56" x2="660.16" y2="225.62" stroke="#111" stroke-width="0.6"/>
<line x1="660.16" y1="225.62" x2="649.20" y2="236.04" stroke="#111" stroke-width="0.6"/>
<line x1="649.22" y1="240.62" x2="649.20" y2="236.04" stroke="#111" stroke-width="0.6"/>
<line x1="668.15" y1="246.66" x2="668.16" y2="242.07" stroke="#111" stroke-width="0.6"/>
<line x1="679.01" y1="236.15" x2="679.05" y2="231.56" stroke="#111" stroke-width="0.6"/>
<line x1="660.17" y1="230.20" x2="660.16" y2="225.62" stroke="#111" stroke-width="0.6"/>
<polygon points="707.44,382.01 725.54,388.32 725.57,387.51 707.45,381.20" fill="#f7f5c4" stroke="#2a2a20" stroke-width="0.65" stroke-linejoin="round" />
<polygon points="725.54,388.32 735.42,377.49 735.45,376.67 725.57,387.51" fill="#9c9b77" stroke="#2a2a20" stroke-width="0.65" stroke-linejoin="round" />
<polygon points="707.45,381.20 725.57,387.51 735.45,376.67 717.41,370.45" fill="#a5a47f" stroke="#2a2a20" stroke-width="0.65" stroke-linejoin="round" />
<polygon points="765.18,384.20 783.59,390.53 783.63,389.72 765.22,383.38" fill="#f7f5c4" stroke="#2a2a20" stroke-width="0.65" stroke-linejoin="round" />
<polygon points="783.59,390.53 793.12,379.65 793.17,378.84 783.63,389.72" fill="#9c9b77" stroke="#2a2a20" stroke-width="0.65" stroke-linejoin="round" />
<polygon points="765.22,383.38 783.63,389.72 793.17,378.84 774.83,372.59" fill="#a5a47f" stroke="#2a2a20" stroke-width="0.65" stroke-linejoin="round" />
<polygon points="557.59,383.33 575.01,389.63 574.97,388.82 557.55,382.52" fill="#f7f5c4" stroke="#2a2a20" stroke-width="0.65" stroke-linejoin="round" />
<polygon points="575.01,389.63 585.83,378.81 585.80,378.00 574.97,388.82" fill="#9c9b77" stroke="#2a2a20" stroke-width="0.65" stroke-linejoin="round" />
<polygon points="557.55,382.52 574.97,388.82 585.80,378.00 568.45,371.79" fill="#a5a47f" stroke="#2a2a20" stroke-width="0.65" stroke-linejoin="round" />
<polygon points="614.79,385.51 632.49,391.83 632.48,391.02 614.77,384.70" fill="#f7f5c4" stroke="#2a2a20" stroke-width="0.65" stroke-linejoin="round" />
<polygon points="632.49,391.83 642.97,380.98 642.97,380.17 632.48,391.02" fill="#9c9b77" stroke="#2a2a20" stroke-width="0.65" stroke-linejoin="round" />
<polygon points="614.77,384.70 632.48,391.02 642.97,380.17 625.32,373.93" fill="#a5a47f" stroke="#2a2a20" stroke-width="0.65" stroke-linejoin="round" />
<polygon points="672.29,387.70 690.29,394.05 690.30,393.24 672.29,386.89" fill="#f7f5c4" stroke="#2a2a20" stroke-width="0.65" stroke-linejoin="round" />
<polygon points="690.29,394.05 700.42,383.15 700.44,382.34 690.30,393.24" fill="#9c9b77" stroke="#2a2a20" stroke-width="0.65" stroke-linejoin="round" />
<polygon points="672.29,386.89 690.30,393.24 700.44,382.34 682.50,376.08" fill="#a5a47f" stroke="#2a2a20" stroke-width="0.65" stroke-linejoin="round" />
<polygon points="730.09,389.91 748.40,396.28 748.43,395.47 730.12,389.09" fill="#f7f5c4" stroke="#2a2a20" stroke-width="0.65" stroke-linejoin="round" />
<polygon points="748.40,396.28 758.18,385.34 758.22,384.52 748.43,395.47" fill="#9c9b77" stroke="#2a2a20" stroke-width="0.65" stroke-linejoin="round" />
<polygon points="730.12,389.09 748.43,395.47 758.22,384.52 739.98,378.24" fill="#a5a47f" stroke="#2a2a20" stroke-width="0.65" stroke-linejoin="round" />
<polygon points="579.38,391.21 596.98,397.58 596.96,396.76 579.35,390.40" fill="#f7f5c4" stroke="#2a2a20" stroke-width="0.65" stroke-linejoin="round" />
<polygon points="596.98,397.58 607.72,386.65 607.70,385.84 596.96,396.76" fill="#9c9b77" stroke="#2a2a20" stroke-width="0.65" stroke-linejoin="round" />
<polygon points="579.35,390.40 596.96,396.76 607.70,385.84 590.16,379.56" fill="#a5a47f" stroke="#2a2a20" stroke-width="0.65" stroke-linejoin="round" />
<polygon points="636.94,393.42 654.84,399.82 654.84,399.00 636.93,392.61" fill="#f7f5c4" stroke="#2a2a20" stroke-width="0.65" stroke-linejoin="round" />
<polygon points="654.84,399.82 665.23,388.85 665.23,388.03 654.84,399.00" fill="#9c9b77" stroke="#2a2a20" stroke-width="0.65" stroke-linejoin="round" />
<polygon points="636.93,392.61 654.84,399.00 665.23,388.03 647.40,381.73" fill="#a5a47f" stroke="#2a2a20" stroke-width="0.65" stroke-linejoin="round" />
<polygon points="543.78,396.94 561.28,403.35 561.24,402.54 543.74,396.13" fill="#f7f5c4" stroke="#2a2a20" stroke-width="0.65" stroke-linejoin="round" />
<polygon points="561.28,403.35 572.28,392.35 572.24,391.54 561.24,402.54" fill="#9c9b77" stroke="#2a2a20" stroke-width="0.65" stroke-linejoin="round" />
<polygon points="543.74,396.13 561.24,402.54 572.24,391.54 554.81,385.23" fill="#a5a47f" stroke="#2a2a20" stroke-width="0.65" stroke-linejoin="round" />
<polygon points="694.81,395.65 713.01,402.07 713.03,401.25 694.83,394.84" fill="#f7f5c4" stroke="#2a2a20" stroke-width="0.65" stroke-linejoin="round" />
<polygon points="713.01,402.07 723.05,391.05 723.08,390.24 713.03,401.25" fill="#9c9b77" stroke="#2a2a20" stroke-width="0.65" stroke-linejoin="round" />
<polygon points="694.83,394.84 713.03,401.25 723.08,390.24 704.95,383.91" fill="#a5a47f" stroke="#2a2a20" stroke-width="0.65" stroke-linejoin="round" />
<polygon points="753.00,397.89 771.50,404.33 771.54,403.51 753.03,397.07" fill="#f7f5c4" stroke="#2a2a20" stroke-width="0.65" stroke-linejoin="round" />
<polygon points="771.50,404.33 781.18,393.27 781.23,392.46 771.54,403.51" fill="#9c9b77" stroke="#2a2a20" stroke-width="0.65" stroke-linejoin="round" />
<polygon points="753.03,397.07 771.54,403.51 781.23,392.46 762.80,386.10" fill="#a5a47f" stroke="#2a2a20" stroke-width="0.65" stroke-linejoin="round" />
<polygon points="601.41,399.18 619.20,405.61 619.18,404.80 601.38,398.36" fill="#f7f5c4" stroke="#2a2a20" stroke-width="0.65" stroke-linejoin="round" />
<polygon points="619.20,405.61 629.85,394.57 629.84,393.76 619.18,404.80" fill="#9c9b77" stroke="#2a2a20" stroke-width="0.65" stroke-linejoin="round" />
<polygon points="601.38,398.36 619.18,404.80 629.84,393.76 612.11,387.42" fill="#a5a47f" stroke="#2a2a20" stroke-width="0.65" stroke-linejoin="round" />
<polygon points="659.34,401.42 677.43,407.88 678.37,270.85 659.15,264.62" fill="#5a52a8" stroke="#222233" stroke-width="0.5" stroke-linejoin="round" />
<polygon points="677.43,407.88 687.73,396.80 689.31,260.03 678.37,270.85" fill="#2f2c62" stroke="#222233" stroke-width="0.5" stroke-linejoin="round" />
<polygon points="659.15,264.62 678.37,270.85 689.31,260.03 670.17,253.89" fill="#584ea0" stroke="#222233" stroke-width="0.5" stroke-linejoin="round" />
<polygon points="659.15,264.62 678.37,270.85 678.39,267.78 659.15,261.56" fill="#554c9e" stroke="#222233" stroke-width="0.5" stroke-linejoin="round" />
<polygon points="678.37,270.85 689.31,260.03 689.34,256.97 678.39,267.78" fill="#38336f" stroke="#222233" stroke-width="0.5" stroke-linejoin="round" />
<polygon points="659.15,261.56 678.39,267.78 689.34,256.97 670.18,250.84" fill="#584ea0" stroke="#222233" stroke-width="0.5" stroke-linejoin="round" />
<line x1="659.63" y1="263.86" x2="678.38" y2="269.93" stroke="#8a82c8" stroke-width="1.1"/>
<line x1="678.38" y1="269.93" x2="689.05" y2="259.38" stroke="#5a54a0" stroke-width="1.0"/>
<line x1="659.14" y1="256.95" x2="678.43" y2="263.16" stroke="#111" stroke-width="0.6"/>
<line x1="678.43" y1="263.16" x2="689.40" y2="252.36" stroke="#111" stroke-width="0.6"/>
<line x1="689.40" y1="252.36" x2="670.19" y2="246.24" stroke="#111" stroke-width="0.6"/>
<line x1="670.19" y1="246.24" x2="659.14" y2="256.95" stroke="#111" stroke-width="0.6"/>
<line x1="659.15" y1="261.56" x2="659.14" y2="256.95" stroke="#111" stroke-width="0.6"/>
<line x1="678.39" y1="267.78" x2="678.43" y2="263.16" stroke="#111" stroke-width="0.6"/>
<line x1="689.34" y1="256.97" x2="689.40" y2="252.36" stroke="#111" stroke-width="0.6"/>
<line x1="670.18" y1="250.84" x2="670.19" y2="246.24" stroke="#111" stroke-width="0.6"/>
<polygon points="717.59,403.68 735.98,410.17 736.01,409.35 717.61,402.86" fill="#f7f5c4" stroke="#2a2a20" stroke-width="0.65" stroke-linejoin="round" />
<polygon points="735.98,410.17 745.93,399.04 745.96,398.23 736.01,409.35" fill="#9c9b77" stroke="#2a2a20" stroke-width="0.65" stroke-linejoin="round" />
<polygon points="717.61,402.86 736.01,409.35 745.96,398.23 727.63,391.83" fill="#a5a47f" stroke="#2a2a20" stroke-width="0.65" stroke-linejoin="round" />
<polygon points="565.68,404.96 583.36,411.43 583.33,410.62 565.64,404.15" fill="#f7f5c4" stroke="#2a2a20" stroke-width="0.65" stroke-linejoin="round" />
<polygon points="583.36,411.43 594.28,400.33 594.25,399.52 583.33,410.62" fill="#9c9b77" stroke="#2a2a20" stroke-width="0.65" stroke-linejoin="round" />
<polygon points="565.64,404.15 583.33,410.62 594.25,399.52 576.63,393.13" fill="#a5a47f" stroke="#2a2a20" stroke-width="0.65" stroke-linejoin="round" />
<polygon points="623.67,407.23 641.66,413.73 641.65,412.92 623.66,406.41" fill="#f7f5c4" stroke="#2a2a20" stroke-width="0.65" stroke-linejoin="round" />
<polygon points="641.66,413.73 652.22,402.58 652.22,401.77 641.65,412.92" fill="#9c9b77" stroke="#2a2a20" stroke-width="0.65" stroke-linejoin="round" />
<polygon points="623.66,406.41 641.65,412.92 652.22,401.77 634.30,395.35" fill="#a5a47f" stroke="#2a2a20" stroke-width="0.65" stroke-linejoin="round" />
<polygon points="529.75,410.77 547.32,417.29 547.28,416.48 529.70,409.96" fill="#f7f5c4" stroke="#2a2a20" stroke-width="0.65" stroke-linejoin="round" />
<polygon points="547.32,417.29 558.51,406.12 558.47,405.31 547.28,416.48" fill="#9c9b77" stroke="#2a2a20" stroke-width="0.65" stroke-linejoin="round" />
<polygon points="529.70,409.96 547.28,416.48 558.47,405.31 540.95,398.88" fill="#a5a47f" stroke="#2a2a20" stroke-width="0.65" stroke-linejoin="round" />
<polygon points="681.98,409.51 700.27,416.04 700.29,415.22 681.99,408.69" fill="#f7f5c4" stroke="#2a2a20" stroke-width="0.65" stroke-linejoin="round" />
<polygon points="700.27,416.04 710.48,404.84 710.50,404.03 700.29,415.22" fill="#9c9b77" stroke="#2a2a20" stroke-width="0.65" stroke-linejoin="round" />
<polygon points="681.99,408.69 700.29,415.22 710.50,404.03 692.27,397.59" fill="#a5a47f" stroke="#2a2a20" stroke-width="0.65" stroke-linejoin="round" />
<polygon points="740.61,411.80 759.21,418.36 759.24,417.54 740.64,410.98" fill="#f7f5c4" stroke="#2a2a20" stroke-width="0.65" stroke-linejoin="round" />
<polygon points="759.21,418.36 769.06,407.12 769.09,406.30 759.24,417.54" fill="#9c9b77" stroke="#2a2a20" stroke-width="0.65" stroke-linejoin="round" />
<polygon points="740.64,410.98 759.24,417.54 769.09,406.30 750.57,399.83" fill="#a5a47f" stroke="#2a2a20" stroke-width="0.65" stroke-linejoin="round" />
<polygon points="587.81,413.06 605.69,419.61 605.66,418.80 587.78,412.25" fill="#f7f5c4" stroke="#2a2a20" stroke-width="0.65" stroke-linejoin="round" />
<polygon points="605.69,419.61 616.51,408.39 616.50,407.58 605.66,418.80" fill="#9c9b77" stroke="#2a2a20" stroke-width="0.65" stroke-linejoin="round" />
<polygon points="587.78,412.25 605.66,418.80 616.50,407.58 598.68,401.12" fill="#a5a47f" stroke="#2a2a20" stroke-width="0.65" stroke-linejoin="round" />
<polygon points="646.18,415.36 664.36,421.94 664.37,421.12 646.17,414.55" fill="#f7f5c4" stroke="#2a2a20" stroke-width="0.65" stroke-linejoin="round" />
<polygon points="664.36,421.94 674.84,410.68 674.84,409.86 664.37,421.12" fill="#9c9b77" stroke="#2a2a20" stroke-width="0.65" stroke-linejoin="round" />
<polygon points="646.17,414.55 664.37,421.12 674.84,409.86 656.72,403.38" fill="#a5a47f" stroke="#2a2a20" stroke-width="0.65" stroke-linejoin="round" />
<polygon points="704.87,417.68 723.36,424.28 723.39,423.47 704.89,416.86" fill="#f7f5c4" stroke="#2a2a20" stroke-width="0.65" stroke-linejoin="round" />
<polygon points="723.36,424.28 733.48,412.97 733.50,412.16 723.39,423.47" fill="#9c9b77" stroke="#2a2a20" stroke-width="0.65" stroke-linejoin="round" />
<polygon points="704.89,416.86 723.39,423.47 733.50,412.16 715.08,405.65" fill="#a5a47f" stroke="#2a2a20" stroke-width="0.65" stroke-linejoin="round" />
<polygon points="551.74,418.93 569.51,425.52 569.48,424.71 551.70,418.12" fill="#f7f5c4" stroke="#2a2a20" stroke-width="0.65" stroke-linejoin="round" />
<polygon points="569.51,425.52 580.61,414.23 580.58,413.42 569.48,424.71" fill="#9c9b77" stroke="#2a2a20" stroke-width="0.65" stroke-linejoin="round" />
<polygon points="551.70,418.12 569.48,424.71 580.58,413.42 562.87,406.92" fill="#a5a47f" stroke="#2a2a20" stroke-width="0.65" stroke-linejoin="round" />
<polygon points="610.18,421.26 628.26,427.88 628.24,427.06 610.16,420.44" fill="#f7f5c4" stroke="#2a2a20" stroke-width="0.65" stroke-linejoin="round" />
<polygon points="628.26,427.88 639.00,416.54 638.99,415.73 628.24,427.06" fill="#9c9b77" stroke="#2a2a20" stroke-width="0.65" stroke-linejoin="round" />
<polygon points="610.16,420.44 628.24,427.06 638.99,415.73 620.98,409.20" fill="#a5a47f" stroke="#2a2a20" stroke-width="0.65" stroke-linejoin="round" />
<polygon points="668.94,423.59 687.32,430.24 688.90,292.61 669.35,286.19" fill="#5a52a8" stroke="#222233" stroke-width="0.5" stroke-linejoin="round" />
<polygon points="687.32,430.24 697.70,418.86 699.92,281.48 688.90,292.61" fill="#2f2c62" stroke="#222233" stroke-width="0.5" stroke-linejoin="round" />
<polygon points="669.35,286.19 688.90,292.61 699.92,281.48 680.46,275.15" fill="#584ea0" stroke="#222233" stroke-width="0.5" stroke-linejoin="round" />
<polygon points="669.35,286.19 688.90,292.61 688.94,289.53 669.36,283.11" fill="#554c9e" stroke="#222233" stroke-width="0.5" stroke-linejoin="round" />
<polygon points="688.90,292.61 699.92,281.48 699.97,278.40 688.94,289.53" fill="#38336f" stroke="#222233" stroke-width="0.5" stroke-linejoin="round" />
<polygon points="669.36,283.11 688.94,289.53 699.97,278.40 680.48,272.08" fill="#584ea0" stroke="#222233" stroke-width="0.5" stroke-linejoin="round" />
<line x1="669.84" y1="285.42" x2="688.92" y2="291.69" stroke="#8a82c8" stroke-width="1.1"/>
<line x1="688.92" y1="291.69" x2="699.67" y2="280.83" stroke="#5a54a0" stroke-width="1.0"/>
<line x1="669.37" y1="278.47" x2="688.99" y2="284.88" stroke="#111" stroke-width="0.6"/>
<line x1="688.99" y1="284.88" x2="700.05" y2="273.77" stroke="#111" stroke-width="0.6"/>
<line x1="700.05" y1="273.77" x2="680.52" y2="267.46" stroke="#111" stroke-width="0.6"/>
<line x1="680.52" y1="267.46" x2="669.37" y2="278.47" stroke="#111" stroke-width="0.6"/>
<line x1="669.36" y1="283.11" x2="669.37" y2="278.47" stroke="#111" stroke-width="0.6"/>
<line x1="688.94" y1="289.53" x2="688.99" y2="284.88" stroke="#111" stroke-width="0.6"/>
<line x1="699.97" y1="278.40" x2="700.05" y2="273.77" stroke="#111" stroke-width="0.6"/>
<line x1="680.48" y1="272.08" x2="680.52" y2="267.46" stroke="#111" stroke-width="0.6"/>
<polygon points="728.01,425.94 746.71,432.62 746.74,431.80 728.04,425.13" fill="#f7f5c4" stroke="#2a2a20" stroke-width="0.65" stroke-linejoin="round" />
<polygon points="746.71,432.62 756.72,421.19 756.76,420.37 746.74,431.80" fill="#9c9b77" stroke="#2a2a20" stroke-width="0.65" stroke-linejoin="round" />
<polygon points="728.04,425.13 746.74,431.80 756.76,420.37 738.13,413.79" fill="#a5a47f" stroke="#2a2a20" stroke-width="0.65" stroke-linejoin="round" />
<polygon points="573.98,427.18 591.95,433.84 591.92,433.03 573.95,426.36" fill="#f7f5c4" stroke="#2a2a20" stroke-width="0.65" stroke-linejoin="round" />
<polygon points="591.95,433.84 602.96,422.44 602.93,421.62 591.92,433.03" fill="#9c9b77" stroke="#2a2a20" stroke-width="0.65" stroke-linejoin="round" />
<polygon points="573.95,426.36 591.92,433.03 602.93,421.62 585.03,415.05" fill="#a5a47f" stroke="#2a2a20" stroke-width="0.65" stroke-linejoin="round" />
<polygon points="632.80,429.54 651.08,436.23 651.07,435.42 632.79,428.72" fill="#f7f5c4" stroke="#2a2a20" stroke-width="0.65" stroke-linejoin="round" />
<polygon points="651.08,436.23 661.72,424.78 661.72,423.96 651.07,435.42" fill="#9c9b77" stroke="#2a2a20" stroke-width="0.65" stroke-linejoin="round" />
<polygon points="632.79,428.72 651.07,435.42 661.72,423.96 643.51,417.37" fill="#a5a47f" stroke="#2a2a20" stroke-width="0.65" stroke-linejoin="round" />
<polygon points="691.94,431.91 710.54,438.64 710.55,437.82 691.96,431.10" fill="#f7f5c4" stroke="#2a2a20" stroke-width="0.65" stroke-linejoin="round" />
<polygon points="710.54,438.64 720.82,427.13 720.84,426.32 710.55,437.82" fill="#9c9b77" stroke="#2a2a20" stroke-width="0.65" stroke-linejoin="round" />
<polygon points="691.96,431.10 710.55,437.82 720.84,426.32 702.32,419.69" fill="#a5a47f" stroke="#2a2a20" stroke-width="0.65" stroke-linejoin="round" />
<polygon points="596.46,435.52 614.63,442.26 614.61,441.44 596.44,434.70" fill="#f7f5c4" stroke="#2a2a20" stroke-width="0.65" stroke-linejoin="round" />
<polygon points="614.63,442.26 625.55,430.73 625.54,429.92 614.61,441.44" fill="#9c9b77" stroke="#2a2a20" stroke-width="0.65" stroke-linejoin="round" />
<polygon points="596.44,434.70 614.61,441.44 625.54,429.92 607.43,423.27" fill="#a5a47f" stroke="#2a2a20" stroke-width="0.65" stroke-linejoin="round" />
<polygon points="655.67,437.92 674.15,444.68 674.16,443.86 655.67,437.10" fill="#f7f5c4" stroke="#2a2a20" stroke-width="0.65" stroke-linejoin="round" />
<polygon points="674.15,444.68 684.71,433.11 684.71,432.29 674.16,443.86" fill="#9c9b77" stroke="#2a2a20" stroke-width="0.65" stroke-linejoin="round" />
<polygon points="655.67,437.10 674.16,443.86 684.71,432.29 666.30,425.62" fill="#a5a47f" stroke="#2a2a20" stroke-width="0.65" stroke-linejoin="round" />
<polygon points="715.21,440.33 734.01,447.12 734.03,446.30 715.23,439.51" fill="#f7f5c4" stroke="#2a2a20" stroke-width="0.65" stroke-linejoin="round" />
<polygon points="734.01,447.12 744.19,435.50 744.22,434.68 734.03,446.30" fill="#9c9b77" stroke="#2a2a20" stroke-width="0.65" stroke-linejoin="round" />
<polygon points="715.23,439.51 734.03,446.30 744.22,434.68 725.49,427.98" fill="#a5a47f" stroke="#2a2a20" stroke-width="0.65" stroke-linejoin="round" />
<polygon points="619.20,443.95 637.57,450.77 637.56,449.95 619.18,443.13" fill="#f7f5c4" stroke="#2a2a20" stroke-width="0.65" stroke-linejoin="round" />
<polygon points="637.57,450.77 648.39,439.12 648.39,438.30 637.56,449.95" fill="#9c9b77" stroke="#2a2a20" stroke-width="0.65" stroke-linejoin="round" />
<polygon points="619.18,443.13 637.56,449.95 648.39,438.30 630.09,431.59" fill="#a5a47f" stroke="#2a2a20" stroke-width="0.65" stroke-linejoin="round" />
<polygon points="678.80,446.39 697.49,453.23 699.75,315.02 679.85,308.40" fill="#5a52a8" stroke="#222233" stroke-width="0.5" stroke-linejoin="round" />
<polygon points="697.49,453.23 707.94,441.53 710.86,303.57 699.75,315.02" fill="#2f2c62" stroke="#222233" stroke-width="0.5" stroke-linejoin="round" />
<polygon points="679.85,308.40 699.75,315.02 710.86,303.57 691.05,297.04" fill="#584ea0" stroke="#222233" stroke-width="0.5" stroke-linejoin="round" />
<polygon points="679.85,308.40 699.75,315.02 699.80,311.92 679.88,305.30" fill="#554c9e" stroke="#222233" stroke-width="0.5" stroke-linejoin="round" />
<polygon points="699.75,315.02 710.86,303.57 710.92,300.47 699.80,311.92" fill="#38336f" stroke="#222233" stroke-width="0.5" stroke-linejoin="round" />
<polygon points="679.88,305.30 699.80,311.92 710.92,300.47 691.09,293.95" fill="#584ea0" stroke="#222233" stroke-width="0.5" stroke-linejoin="round" />
<line x1="680.35" y1="307.63" x2="699.76" y2="314.09" stroke="#8a82c8" stroke-width="1.1"/>
<line x1="699.76" y1="314.09" x2="710.60" y2="302.92" stroke="#5a54a0" stroke-width="1.0"/>
<line x1="679.91" y1="300.64" x2="699.88" y2="307.25" stroke="#111" stroke-width="0.6"/>
<line x1="699.88" y1="307.25" x2="711.02" y2="295.81" stroke="#111" stroke-width="0.6"/>
<line x1="711.02" y1="295.81" x2="691.14" y2="289.30" stroke="#111" stroke-width="0.6"/>
<line x1="691.14" y1="289.30" x2="679.91" y2="300.64" stroke="#111" stroke-width="0.6"/>
<line x1="679.88" y1="305.30" x2="679.91" y2="300.64" stroke="#111" stroke-width="0.6"/>
<line x1="699.80" y1="311.92" x2="699.88" y2="307.25" stroke="#111" stroke-width="0.6"/>
<line x1="710.92" y1="300.47" x2="711.02" y2="295.81" stroke="#111" stroke-width="0.6"/>
<line x1="691.09" y1="293.95" x2="691.14" y2="289.30" stroke="#111" stroke-width="0.6"/>
<polygon points="642.19,452.48 660.76,459.37 660.76,458.55 642.18,451.66" fill="#f7f5c4" stroke="#2a2a20" stroke-width="0.65" stroke-linejoin="round" />
<polygon points="660.76,459.37 671.49,447.60 671.50,446.78 660.76,458.55" fill="#9c9b77" stroke="#2a2a20" stroke-width="0.65" stroke-linejoin="round" />
<polygon points="642.18,451.66 660.76,458.55 671.50,446.78 652.99,439.99" fill="#a5a47f" stroke="#2a2a20" stroke-width="0.65" stroke-linejoin="round" />
<polygon points="702.19,454.95 721.09,461.87 721.11,461.05 702.20,454.13" fill="#f7f5c4" stroke="#2a2a20" stroke-width="0.65" stroke-linejoin="round" />
<polygon points="721.09,461.87 731.44,450.05 731.47,449.23 721.11,461.05" fill="#9c9b77" stroke="#2a2a20" stroke-width="0.65" stroke-linejoin="round" />
<polygon points="702.20,454.13 721.11,461.05 731.47,449.23 712.64,442.41" fill="#a5a47f" stroke="#2a2a20" stroke-width="0.65" stroke-linejoin="round" />
<polygon points="665.43,461.10 684.22,468.07 684.23,467.25 665.44,460.28" fill="#f7f5c4" stroke="#2a2a20" stroke-width="0.65" stroke-linejoin="round" />
<polygon points="684.22,468.07 694.85,456.18 694.87,455.36 684.23,467.25" fill="#9c9b77" stroke="#2a2a20" stroke-width="0.65" stroke-linejoin="round" />
<polygon points="665.44,460.28 684.23,467.25 694.87,455.36 676.15,448.49" fill="#a5a47f" stroke="#2a2a20" stroke-width="0.65" stroke-linejoin="round" />
<polygon points="688.94,469.82 707.95,476.87 710.92,338.11 690.67,331.28" fill="#5a52a8" stroke="#222233" stroke-width="0.5" stroke-linejoin="round" />
<polygon points="707.95,476.87 718.48,464.85 722.12,326.32 710.92,338.11" fill="#2f2c62" stroke="#222233" stroke-width="0.5" stroke-linejoin="round" />
<polygon points="690.67,331.28 710.92,338.11 722.12,326.32 701.96,319.58" fill="#584ea0" stroke="#222233" stroke-width="0.5" stroke-linejoin="round" />
<polygon points="690.67,331.28 710.92,338.11 710.99,335.00 690.71,328.16" fill="#554c9e" stroke="#222233" stroke-width="0.5" stroke-linejoin="round" />
<polygon points="710.92,338.11 722.12,326.32 722.20,323.21 710.99,335.00" fill="#38336f" stroke="#222233" stroke-width="0.5" stroke-linejoin="round" />
<polygon points="690.71,328.16 710.99,335.00 722.20,323.21 702.01,316.48" fill="#584ea0" stroke="#222233" stroke-width="0.5" stroke-linejoin="round" />
<line x1="691.19" y1="330.51" x2="710.94" y2="337.18" stroke="#8a82c8" stroke-width="1.1"/>
<line x1="710.94" y1="337.18" x2="721.86" y2="325.68" stroke="#5a54a0" stroke-width="1.0"/>
<line x1="690.77" y1="323.48" x2="711.09" y2="330.31" stroke="#111" stroke-width="0.6"/>
<line x1="711.09" y1="330.31" x2="722.32" y2="318.53" stroke="#111" stroke-width="0.6"/>
<line x1="722.32" y1="318.53" x2="702.09" y2="311.81" stroke="#111" stroke-width="0.6"/>
<line x1="702.09" y1="311.81" x2="690.77" y2="323.48" stroke="#111" stroke-width="0.6"/>
<line x1="690.71" y1="328.16" x2="690.77" y2="323.48" stroke="#111" stroke-width="0.6"/>
<line x1="710.99" y1="335.00" x2="711.09" y2="330.31" stroke="#111" stroke-width="0.6"/>
<line x1="722.20" y1="323.21" x2="722.32" y2="318.53" stroke="#111" stroke-width="0.6"/>
<line x1="702.01" y1="316.48" x2="702.09" y2="311.81" stroke="#111" stroke-width="0.6"/>
<line x1="526.14" y1="411.36" x2="517.16" y2="267.07" stroke="#111" stroke-width="1.3"/>
<line x1="526.14" y1="411.36" x2="709.01" y2="479.27" stroke="#111" stroke-width="1.3"/>
<line x1="709.01" y1="479.27" x2="808.31" y2="365.69" stroke="#111" stroke-width="1.3"/>
<line x1="526.14" y1="411.36" x2="523.52" y2="410.38" stroke="#111" stroke-width="1.3"/>
<line x1="521.80" y1="341.51" x2="519.09" y2="340.56" stroke="#111" stroke-width="1.3"/>
<line x1="517.16" y1="267.07" x2="514.37" y2="266.13" stroke="#111" stroke-width="1.3"/>
<line x1="534.84" y1="417.67" x2="539.36" y2="413.19" stroke="#111" stroke-width="1.1"/>
<line x1="711.80" y1="470.31" x2="719.43" y2="473.13" stroke="#111" stroke-width="1.1"/>
<line x1="556.96" y1="425.91" x2="561.45" y2="421.37" stroke="#111" stroke-width="1.1"/>
<line x1="724.86" y1="455.42" x2="732.45" y2="458.19" stroke="#111" stroke-width="1.1"/>
<line x1="579.32" y1="434.23" x2="583.78" y2="429.65" stroke="#111" stroke-width="1.1"/>
<line x1="737.70" y1="440.78" x2="745.25" y2="443.50" stroke="#111" stroke-width="1.1"/>
<line x1="601.94" y1="442.64" x2="606.35" y2="438.02" stroke="#111" stroke-width="1.1"/>
<line x1="750.33" y1="426.39" x2="757.84" y2="429.05" stroke="#111" stroke-width="1.1"/>
<line x1="624.80" y1="451.15" x2="629.18" y2="446.48" stroke="#111" stroke-width="1.1"/>
<line x1="762.75" y1="412.23" x2="770.21" y2="414.85" stroke="#111" stroke-width="1.1"/>
<line x1="647.92" y1="459.76" x2="652.27" y2="455.03" stroke="#111" stroke-width="1.1"/>
<line x1="774.97" y1="398.30" x2="782.39" y2="400.88" stroke="#111" stroke-width="1.1"/>
<line x1="671.31" y1="468.46" x2="675.61" y2="463.69" stroke="#111" stroke-width="1.1"/>
<line x1="786.98" y1="384.60" x2="794.37" y2="387.13" stroke="#111" stroke-width="1.1"/>
<line x1="694.96" y1="477.27" x2="699.22" y2="472.44" stroke="#111" stroke-width="1.1"/>
<line x1="798.81" y1="371.12" x2="806.16" y2="373.60" stroke="#111" stroke-width="1.1"/>
<line x1="523.50" y1="754.09" x2="629.63" y2="650.92" stroke="#b9b9b9" stroke-width="1.4"/>
<line x1="629.63" y1="650.92" x2="804.03" y2="709.22" stroke="#b9b9b9" stroke-width="1.4"/>
<line x1="519.50" y1="678.79" x2="628.95" y2="578.01" stroke="#b9b9b9" stroke-width="1.4"/>
<line x1="628.95" y1="578.01" x2="808.52" y2="635.23" stroke="#b9b9b9" stroke-width="1.4"/>
<line x1="527.27" y1="825.01" x2="630.26" y2="719.88" stroke="#b9b9b9" stroke-width="1.4"/>
<line x1="630.26" y1="719.88" x2="799.79" y2="779.04" stroke="#b9b9b9" stroke-width="1.4"/>
<line x1="630.26" y1="719.88" x2="628.95" y2="578.01" stroke="#b9b9b9" stroke-width="1.4"/>
<line x1="799.79" y1="779.04" x2="808.52" y2="635.23" stroke="#b9b9b9" stroke-width="1.4"/>
<polygon points="621.43,731.72 637.95,737.54 637.94,736.73 621.42,730.91" fill="#f7f5c4" stroke="#2a2a20" stroke-width="0.65" stroke-linejoin="round" />
<polygon points="637.95,737.54 647.55,727.56 647.55,726.76 637.94,736.73" fill="#9c9b77" stroke="#2a2a20" stroke-width="0.65" stroke-linejoin="round" />
<polygon points="621.42,730.91 637.94,736.73 647.55,726.76 631.10,721.02" fill="#a5a47f" stroke="#2a2a20" stroke-width="0.65" stroke-linejoin="round" />
<polygon points="642.09,739.00 658.76,744.87 658.76,744.06 642.09,738.19" fill="#f7f5c4" stroke="#2a2a20" stroke-width="0.65" stroke-linejoin="round" />
<polygon points="658.76,744.87 668.26,734.80 668.27,733.99 658.76,744.06" fill="#9c9b77" stroke="#2a2a20" stroke-width="0.65" stroke-linejoin="round" />
<polygon points="642.09,738.19 658.76,744.06 668.27,733.99 651.68,728.20" fill="#a5a47f" stroke="#2a2a20" stroke-width="0.65" stroke-linejoin="round" />
<polygon points="609.14,744.28 625.76,750.20 625.71,746.13 609.07,740.23" fill="#f7f5c4" stroke="#2a2a20" stroke-width="0.65" stroke-linejoin="round" />
<polygon points="625.76,750.20 635.52,740.05 635.50,736.00 625.71,746.13" fill="#9c9b77" stroke="#2a2a20" stroke-width="0.65" stroke-linejoin="round" />
<polygon points="609.07,740.23 625.71,746.13 635.50,736.00 618.93,730.17" fill="#a5a47f" stroke="#2a2a20" stroke-width="0.65" stroke-linejoin="round" />
<polygon points="662.94,746.34 679.76,752.26 679.76,751.45 662.95,745.53" fill="#f7f5c4" stroke="#2a2a20" stroke-width="0.65" stroke-linejoin="round" />
<polygon points="679.76,752.26 689.16,742.10 689.17,741.29 679.76,751.45" fill="#9c9b77" stroke="#2a2a20" stroke-width="0.65" stroke-linejoin="round" />
<polygon points="662.95,745.53 679.76,751.45 689.17,741.29 672.43,735.45" fill="#a5a47f" stroke="#2a2a20" stroke-width="0.65" stroke-linejoin="round" />
<polygon points="629.93,751.68 646.69,757.65 646.69,756.83 629.92,750.87" fill="#f7f5c4" stroke="#2a2a20" stroke-width="0.65" stroke-linejoin="round" />
<polygon points="646.69,757.65 656.36,747.41 656.36,746.60 646.69,756.83" fill="#9c9b77" stroke="#2a2a20" stroke-width="0.65" stroke-linejoin="round" />
<polygon points="629.92,750.87 646.69,756.83 656.36,746.60 639.67,740.71" fill="#a5a47f" stroke="#2a2a20" stroke-width="0.65" stroke-linejoin="round" />
<polygon points="683.98,753.75 700.94,759.73 700.96,758.91 683.99,752.94" fill="#f7f5c4" stroke="#2a2a20" stroke-width="0.65" stroke-linejoin="round" />
<polygon points="700.94,759.73 710.24,749.47 710.26,748.66 700.96,758.91" fill="#9c9b77" stroke="#2a2a20" stroke-width="0.65" stroke-linejoin="round" />
<polygon points="683.99,752.94 700.96,758.91 710.26,748.66 693.37,742.76" fill="#a5a47f" stroke="#2a2a20" stroke-width="0.65" stroke-linejoin="round" />
<polygon points="596.65,757.07 613.36,763.07 613.35,762.26 596.63,756.25" fill="#f7f5c4" stroke="#2a2a20" stroke-width="0.65" stroke-linejoin="round" />
<polygon points="613.36,763.07 623.29,752.75 623.28,751.94 613.35,762.26" fill="#9c9b77" stroke="#2a2a20" stroke-width="0.65" stroke-linejoin="round" />
<polygon points="596.63,756.25 613.35,762.26 623.28,751.94 606.65,746.01" fill="#a5a47f" stroke="#2a2a20" stroke-width="0.65" stroke-linejoin="round" />
<polygon points="650.90,759.15 667.82,765.16 667.82,764.35 650.90,758.33" fill="#f7f5c4" stroke="#2a2a20" stroke-width="0.65" stroke-linejoin="round" />
<polygon points="667.82,765.16 677.38,754.83 677.39,754.01 667.82,764.35" fill="#9c9b77" stroke="#2a2a20" stroke-width="0.65" stroke-linejoin="round" />
<polygon points="650.90,758.33 667.82,764.35 677.39,754.01 660.55,748.07" fill="#a5a47f" stroke="#2a2a20" stroke-width="0.65" stroke-linejoin="round" />
<polygon points="705.20,761.23 722.32,767.26 722.34,766.44 705.22,760.41" fill="#f7f5c4" stroke="#2a2a20" stroke-width="0.65" stroke-linejoin="round" />
<polygon points="722.32,767.26 731.52,756.90 731.54,756.09 722.34,766.44" fill="#9c9b77" stroke="#2a2a20" stroke-width="0.65" stroke-linejoin="round" />
<polygon points="705.22,760.41 722.34,766.44 731.54,756.09 714.50,750.14" fill="#a5a47f" stroke="#2a2a20" stroke-width="0.65" stroke-linejoin="round" />
<polygon points="617.56,764.58 634.42,770.65 634.41,769.83 617.54,763.77" fill="#f7f5c4" stroke="#2a2a20" stroke-width="0.65" stroke-linejoin="round" />
<polygon points="634.42,770.65 644.26,760.23 644.25,759.42 634.41,769.83" fill="#9c9b77" stroke="#2a2a20" stroke-width="0.65" stroke-linejoin="round" />
<polygon points="617.54,763.77 634.41,769.83 644.25,759.42 627.46,753.43" fill="#a5a47f" stroke="#2a2a20" stroke-width="0.65" stroke-linejoin="round" />
<polygon points="672.07,766.68 689.14,772.75 689.15,771.93 672.07,765.86" fill="#f7f5c4" stroke="#2a2a20" stroke-width="0.65" stroke-linejoin="round" />
<polygon points="689.14,772.75 698.60,762.31 698.61,761.50 689.15,771.93" fill="#9c9b77" stroke="#2a2a20" stroke-width="0.65" stroke-linejoin="round" />
<polygon points="672.07,765.86 689.15,771.93 698.61,761.50 681.62,755.51" fill="#a5a47f" stroke="#2a2a20" stroke-width="0.65" stroke-linejoin="round" />
<polygon points="726.62,768.77 743.89,774.85 744.15,768.05 726.83,761.97" fill="#f7f5c4" stroke="#2a2a20" stroke-width="0.65" stroke-linejoin="round" />
<polygon points="743.89,774.85 752.98,764.40 753.26,757.61 744.15,768.05" fill="#9c9b77" stroke="#2a2a20" stroke-width="0.65" stroke-linejoin="round" />
<polygon points="726.83,761.97 744.15,768.05 753.26,757.61 736.02,751.61" fill="#a5a47f" stroke="#2a2a20" stroke-width="0.65" stroke-linejoin="round" />
<polygon points="583.93,770.07 600.74,776.18 600.73,775.36 583.91,769.25" fill="#f7f5c4" stroke="#2a2a20" stroke-width="0.65" stroke-linejoin="round" />
<polygon points="600.74,776.18 610.85,765.68 610.84,764.86 600.73,775.36" fill="#9c9b77" stroke="#2a2a20" stroke-width="0.65" stroke-linejoin="round" />
<polygon points="583.91,769.25 600.73,775.36 610.84,764.86 594.10,758.83" fill="#a5a47f" stroke="#2a2a20" stroke-width="0.65" stroke-linejoin="round" />
<polygon points="638.66,772.17 655.67,778.29 655.67,777.47 638.65,771.36" fill="#f7f5c4" stroke="#2a2a20" stroke-width="0.65" stroke-linejoin="round" />
<polygon points="655.67,778.29 665.41,767.77 665.41,766.96 655.67,777.47" fill="#9c9b77" stroke="#2a2a20" stroke-width="0.65" stroke-linejoin="round" />
<polygon points="638.65,771.36 655.67,777.47 665.41,766.96 648.47,760.92" fill="#a5a47f" stroke="#2a2a20" stroke-width="0.65" stroke-linejoin="round" />
<polygon points="693.42,774.28 710.65,780.40 710.81,773.59 693.54,767.46" fill="#f7f5c4" stroke="#2a2a20" stroke-width="0.65" stroke-linejoin="round" />
<polygon points="710.65,780.40 720.00,769.87 720.19,763.07 710.81,773.59" fill="#9c9b77" stroke="#2a2a20" stroke-width="0.65" stroke-linejoin="round" />
<polygon points="693.54,767.46 710.81,773.59 720.19,763.07 703.00,757.02" fill="#a5a47f" stroke="#2a2a20" stroke-width="0.65" stroke-linejoin="round" />
<polygon points="748.23,776.38 765.66,782.52 765.70,781.71 748.26,775.57" fill="#f7f5c4" stroke="#2a2a20" stroke-width="0.65" stroke-linejoin="round" />
<polygon points="765.66,782.52 774.64,771.96 774.68,771.15 765.70,781.71" fill="#9c9b77" stroke="#2a2a20" stroke-width="0.65" stroke-linejoin="round" />
<polygon points="748.26,775.57 765.70,781.71 774.68,771.15 757.33,765.09" fill="#a5a47f" stroke="#2a2a20" stroke-width="0.65" stroke-linejoin="round" />
<polygon points="604.97,777.71 621.93,783.88 621.92,783.06 604.95,776.89" fill="#f7f5c4" stroke="#2a2a20" stroke-width="0.65" stroke-linejoin="round" />
<polygon points="621.93,783.88 631.94,773.28 631.93,772.46 621.92,783.06" fill="#9c9b77" stroke="#2a2a20" stroke-width="0.65" stroke-linejoin="round" />
<polygon points="604.95,776.89 621.92,783.06 631.93,772.46 615.04,766.38" fill="#a5a47f" stroke="#2a2a20" stroke-width="0.65" stroke-linejoin="round" />
<polygon points="659.95,779.83 677.12,786.00 677.13,785.18 659.95,779.01" fill="#f7f5c4" stroke="#2a2a20" stroke-width="0.65" stroke-linejoin="round" />
<polygon points="677.12,786.00 686.75,775.38 686.76,774.57 677.13,785.18" fill="#9c9b77" stroke="#2a2a20" stroke-width="0.65" stroke-linejoin="round" />
<polygon points="659.95,779.01 677.13,785.18 686.76,774.57 669.67,768.47" fill="#a5a47f" stroke="#2a2a20" stroke-width="0.65" stroke-linejoin="round" />
<polygon points="770.04,784.06 787.63,790.26 793.38,687.36 775.02,681.29" fill="#5a52a8" stroke="#222233" stroke-width="0.5" stroke-linejoin="round" />
<polygon points="787.63,790.26 796.50,779.60 802.59,676.99 793.38,687.36" fill="#2f2c62" stroke="#222233" stroke-width="0.5" stroke-linejoin="round" />
<polygon points="775.02,681.29 793.38,687.36 802.59,676.99 784.32,671.01" fill="#584ea0" stroke="#222233" stroke-width="0.5" stroke-linejoin="round" />
<polygon points="775.02,681.29 793.38,687.36 794.87,660.73 776.31,654.70" fill="#8a82c8" stroke="#222233" stroke-width="0.5" stroke-linejoin="round" />
<polygon points="793.38,687.36 802.59,676.99 804.16,650.45 794.87,660.73" fill="#4b4590" stroke="#222233" stroke-width="0.5" stroke-linejoin="round" />
<polygon points="776.31,654.70 794.87,660.73 804.16,650.45 785.70,644.51" fill="#5a50a2" stroke="#222233" stroke-width="0.5" stroke-linejoin="round" />
<line x1="777.02" y1="639.98" x2="795.70" y2="645.98" stroke="#111" stroke-width="0.6"/>
<line x1="795.70" y1="645.98" x2="805.03" y2="635.76" stroke="#111" stroke-width="0.6"/>
<line x1="805.03" y1="635.76" x2="786.46" y2="629.83" stroke="#111" stroke-width="0.6"/>
<line x1="786.46" y1="629.83" x2="777.02" y2="639.98" stroke="#111" stroke-width="0.6"/>
<line x1="776.31" y1="654.70" x2="777.02" y2="639.98" stroke="#111" stroke-width="0.6"/>
<line x1="794.87" y1="660.73" x2="795.70" y2="645.98" stroke="#111" stroke-width="0.6"/>
<line x1="804.16" y1="650.45" x2="805.03" y2="635.76" stroke="#111" stroke-width="0.6"/>
<line x1="785.70" y1="644.51" x2="786.46" y2="629.83" stroke="#111" stroke-width="0.6"/>
<polygon points="714.97,781.94 732.36,788.13 732.38,787.31 714.99,781.13" fill="#f7f5c4" stroke="#2a2a20" stroke-width="0.65" stroke-linejoin="round" />
<polygon points="732.36,788.13 741.60,777.49 741.63,776.68 732.38,787.31" fill="#9c9b77" stroke="#2a2a20" stroke-width="0.65" stroke-linejoin="round" />
<polygon points="714.99,781.13 732.38,787.31 741.63,776.68 724.33,770.57" fill="#a5a47f" stroke="#2a2a20" stroke-width="0.65" stroke-linejoin="round" />
<polygon points="571.00,783.30 587.91,789.51 587.88,788.69 570.97,782.48" fill="#f7f5c4" stroke="#2a2a20" stroke-width="0.65" stroke-linejoin="round" />
<polygon points="587.91,789.51 598.19,778.83 598.18,778.01 587.88,788.69" fill="#9c9b77" stroke="#2a2a20" stroke-width="0.65" stroke-linejoin="round" />
<polygon points="570.97,782.48 587.88,788.69 598.18,778.01 581.34,771.88" fill="#a5a47f" stroke="#2a2a20" stroke-width="0.65" stroke-linejoin="round" />
<polygon points="626.19,785.42 643.31,791.65 643.31,790.83 626.18,784.61" fill="#f7f5c4" stroke="#2a2a20" stroke-width="0.65" stroke-linejoin="round" />
<polygon points="643.31,791.65 653.22,780.94 653.22,780.13 643.31,790.83" fill="#9c9b77" stroke="#2a2a20" stroke-width="0.65" stroke-linejoin="round" />
<polygon points="626.18,784.61 643.31,790.83 653.22,780.13 636.17,773.99" fill="#a5a47f" stroke="#2a2a20" stroke-width="0.65" stroke-linejoin="round" />
<polygon points="681.43,787.55 698.77,793.79 698.78,792.97 681.44,786.74" fill="#f7f5c4" stroke="#2a2a20" stroke-width="0.65" stroke-linejoin="round" />
<polygon points="698.77,793.79 708.29,783.06 708.31,782.25 698.78,792.97" fill="#9c9b77" stroke="#2a2a20" stroke-width="0.65" stroke-linejoin="round" />
<polygon points="681.44,786.74 698.78,792.97 708.31,782.25 691.05,776.10" fill="#a5a47f" stroke="#2a2a20" stroke-width="0.65" stroke-linejoin="round" />
<polygon points="736.72,789.68 754.26,795.93 759.20,678.65 740.79,672.55" fill="#5a52a8" stroke="#222233" stroke-width="0.5" stroke-linejoin="round" />
<polygon points="754.26,795.93 763.40,785.18 768.75,668.24 759.20,678.65" fill="#2f2c62" stroke="#222233" stroke-width="0.5" stroke-linejoin="round" />
<polygon points="740.79,672.55 759.20,678.65 768.75,668.24 750.43,662.23" fill="#584ea0" stroke="#222233" stroke-width="0.5" stroke-linejoin="round" />
<polygon points="740.79,672.55 759.20,678.65 759.63,668.55 741.14,662.47" fill="#8a82c8" stroke="#222233" stroke-width="0.5" stroke-linejoin="round" />
<polygon points="759.20,678.65 768.75,668.24 769.21,658.18 759.63,668.55" fill="#4b4590" stroke="#222233" stroke-width="0.5" stroke-linejoin="round" />
<polygon points="741.14,662.47 759.63,668.55 769.21,658.18 750.81,652.19" fill="#5a50a2" stroke="#222233" stroke-width="0.5" stroke-linejoin="round" />
<line x1="741.73" y1="645.30" x2="760.35" y2="651.35" stroke="#111" stroke-width="0.6"/>
<line x1="760.35" y1="651.35" x2="769.99" y2="641.04" stroke="#111" stroke-width="0.6"/>
<line x1="769.99" y1="641.04" x2="751.47" y2="635.07" stroke="#111" stroke-width="0.6"/>
<line x1="751.47" y1="635.07" x2="741.73" y2="645.30" stroke="#111" stroke-width="0.6"/>
<line x1="741.14" y1="662.47" x2="741.73" y2="645.30" stroke="#111" stroke-width="0.6"/>
<line x1="759.63" y1="668.55" x2="760.35" y2="651.35" stroke="#111" stroke-width="0.6"/>
<line x1="769.21" y1="658.18" x2="769.99" y2="641.04" stroke="#111" stroke-width="0.6"/>
<line x1="750.81" y1="652.19" x2="751.47" y2="635.07" stroke="#111" stroke-width="0.6"/>
<polygon points="592.15,791.07 609.22,797.34 609.05,787.73 591.91,781.47" fill="#f7f5c4" stroke="#2a2a20" stroke-width="0.65" stroke-linejoin="round" />
<polygon points="609.22,797.34 619.41,786.55 619.27,776.96 609.05,787.73" fill="#9c9b77" stroke="#2a2a20" stroke-width="0.65" stroke-linejoin="round" />
<polygon points="591.91,781.47 609.05,787.73 619.27,776.96 602.22,770.79" fill="#a5a47f" stroke="#2a2a20" stroke-width="0.65" stroke-linejoin="round" />
<polygon points="647.61,793.21 664.89,799.49 664.90,798.67 647.61,792.39" fill="#f7f5c4" stroke="#2a2a20" stroke-width="0.65" stroke-linejoin="round" />
<polygon points="664.89,799.49 674.69,788.68 674.70,787.86 664.90,798.67" fill="#9c9b77" stroke="#2a2a20" stroke-width="0.65" stroke-linejoin="round" />
<polygon points="647.61,792.39 664.90,798.67 674.70,787.86 657.50,781.67" fill="#a5a47f" stroke="#2a2a20" stroke-width="0.65" stroke-linejoin="round" />
<polygon points="758.67,797.49 776.37,803.79 776.42,802.97 758.70,796.67" fill="#f7f5c4" stroke="#2a2a20" stroke-width="0.65" stroke-linejoin="round" />
<polygon points="776.37,803.79 785.40,792.95 785.44,792.13 776.42,802.97" fill="#9c9b77" stroke="#2a2a20" stroke-width="0.65" stroke-linejoin="round" />
<polygon points="758.70,796.67 776.42,802.97 785.44,792.13 767.82,785.91" fill="#a5a47f" stroke="#2a2a20" stroke-width="0.65" stroke-linejoin="round" />
<polygon points="703.12,795.35 720.61,801.64 723.52,698.33 705.27,692.16" fill="#5a52a8" stroke="#222233" stroke-width="0.5" stroke-linejoin="round" />
<polygon points="720.61,801.64 730.02,790.81 733.31,687.79 723.52,698.33" fill="#2f2c62" stroke="#222233" stroke-width="0.5" stroke-linejoin="round" />
<polygon points="705.27,692.16 723.52,698.33 733.31,687.79 715.15,681.71" fill="#584ea0" stroke="#222233" stroke-width="0.5" stroke-linejoin="round" />
<polygon points="705.27,692.16 723.52,698.33 724.13,676.58 705.72,670.45" fill="#8a82c8" stroke="#222233" stroke-width="0.5" stroke-linejoin="round" />
<polygon points="723.52,698.33 733.31,687.79 734.01,666.12 724.13,676.58" fill="#4b4590" stroke="#222233" stroke-width="0.5" stroke-linejoin="round" />
<polygon points="705.72,670.45 724.13,676.58 734.01,666.12 715.69,660.07" fill="#5a50a2" stroke="#222233" stroke-width="0.5" stroke-linejoin="round" />
<line x1="706.13" y1="650.66" x2="724.69" y2="656.76" stroke="#111" stroke-width="0.6"/>
<line x1="724.69" y1="656.76" x2="734.64" y2="646.37" stroke="#111" stroke-width="0.6"/>
<line x1="734.64" y1="646.37" x2="716.17" y2="640.35" stroke="#111" stroke-width="0.6"/>
<line x1="716.17" y1="640.35" x2="706.13" y2="650.66" stroke="#111" stroke-width="0.6"/>
<line x1="705.72" y1="670.45" x2="706.13" y2="650.66" stroke="#111" stroke-width="0.6"/>
<line x1="724.13" y1="676.58" x2="724.69" y2="656.76" stroke="#111" stroke-width="0.6"/>
<line x1="734.01" y1="666.12" x2="734.64" y2="646.37" stroke="#111" stroke-width="0.6"/>
<line x1="715.69" y1="660.07" x2="716.17" y2="640.35" stroke="#111" stroke-width="0.6"/>
<polygon points="557.83,796.76 574.84,803.08 570.58,673.09 552.67,666.93" fill="#5a52a8" stroke="#222233" stroke-width="0.5" stroke-linejoin="round" />
<polygon points="574.84,803.08 585.31,792.20 581.65,662.59 570.58,673.09" fill="#2f2c62" stroke="#222233" stroke-width="0.5" stroke-linejoin="round" />
<polygon points="552.67,666.93 570.58,673.09 581.65,662.59 563.82,656.52" fill="#584ea0" stroke="#222233" stroke-width="0.5" stroke-linejoin="round" />
<polygon points="552.67,666.93 570.58,673.09 570.43,668.51 552.49,662.36" fill="#8a82c8" stroke="#222233" stroke-width="0.5" stroke-linejoin="round" />
<polygon points="570.58,673.09 581.65,662.59 581.52,658.03 570.43,668.51" fill="#4b4590" stroke="#222233" stroke-width="0.5" stroke-linejoin="round" />
<polygon points="552.49,662.36 570.43,668.51 581.52,658.03 563.66,651.97" fill="#5a50a2" stroke="#222233" stroke-width="0.5" stroke-linejoin="round" />
<line x1="552.06" y1="651.64" x2="570.08" y2="657.77" stroke="#111" stroke-width="0.6"/>
<line x1="570.08" y1="657.77" x2="581.22" y2="647.32" stroke="#111" stroke-width="0.6"/>
<line x1="581.22" y1="647.32" x2="563.29" y2="641.28" stroke="#111" stroke-width="0.6"/>
<line x1="563.29" y1="641.28" x2="552.06" y2="651.64" stroke="#111" stroke-width="0.6"/>
<line x1="552.49" y1="662.36" x2="552.06" y2="651.64" stroke="#111" stroke-width="0.6"/>
<line x1="570.43" y1="668.51" x2="570.08" y2="657.77" stroke="#111" stroke-width="0.6"/>
<line x1="581.52" y1="658.03" x2="581.22" y2="647.32" stroke="#111" stroke-width="0.6"/>
<line x1="563.66" y1="651.97" x2="563.29" y2="641.28" stroke="#111" stroke-width="0.6"/>
<polygon points="613.51,798.91 630.74,805.24 630.73,804.42 613.50,798.09" fill="#f7f5c4" stroke="#2a2a20" stroke-width="0.65" stroke-linejoin="round" />
<polygon points="630.74,805.24 640.82,794.35 640.81,793.53 630.73,804.42" fill="#9c9b77" stroke="#2a2a20" stroke-width="0.65" stroke-linejoin="round" />
<polygon points="613.50,798.09 630.73,804.42 640.81,793.53 623.66,787.28" fill="#a5a47f" stroke="#2a2a20" stroke-width="0.65" stroke-linejoin="round" />
<polygon points="669.23,801.07 686.68,807.40 688.39,685.12 670.05,678.93" fill="#5a52a8" stroke="#222233" stroke-width="0.5" stroke-linejoin="round" />
<polygon points="686.68,807.40 696.37,796.49 698.56,674.56 688.39,685.12" fill="#2f2c62" stroke="#222233" stroke-width="0.5" stroke-linejoin="round" />
<polygon points="670.05,678.93 688.39,685.12 698.56,674.56 680.32,668.46" fill="#584ea0" stroke="#222233" stroke-width="0.5" stroke-linejoin="round" />
<polygon points="670.05,678.93 688.39,685.12 688.49,678.30 670.10,672.12" fill="#8a82c8" stroke="#222233" stroke-width="0.5" stroke-linejoin="round" />
<polygon points="688.39,685.12 698.56,674.56 698.68,667.75 688.49,678.30" fill="#4b4590" stroke="#222233" stroke-width="0.5" stroke-linejoin="round" />
<polygon points="670.10,672.12 688.49,678.30 698.68,667.75 680.39,661.67" fill="#5a50a2" stroke="#222233" stroke-width="0.5" stroke-linejoin="round" />
<line x1="670.21" y1="656.08" x2="688.71" y2="662.23" stroke="#111" stroke-width="0.6"/>
<line x1="688.71" y1="662.23" x2="698.97" y2="651.74" stroke="#111" stroke-width="0.6"/>
<line x1="698.97" y1="651.74" x2="680.56" y2="645.68" stroke="#111" stroke-width="0.6"/>
<line x1="680.56" y1="645.68" x2="670.21" y2="656.08" stroke="#111" stroke-width="0.6"/>
<line x1="670.10" y1="672.12" x2="670.21" y2="656.08" stroke="#111" stroke-width="0.6"/>
<line x1="688.49" y1="678.30" x2="688.71" y2="662.23" stroke="#111" stroke-width="0.6"/>
<line x1="698.68" y1="667.75" x2="698.97" y2="651.74" stroke="#111" stroke-width="0.6"/>
<line x1="680.39" y1="661.67" x2="680.56" y2="645.68" stroke="#111" stroke-width="0.6"/>
<polygon points="725.00,803.22 742.66,809.57 742.69,808.75 725.03,802.40" fill="#f7f5c4" stroke="#2a2a20" stroke-width="0.65" stroke-linejoin="round" />
<polygon points="742.66,809.57 751.96,798.63 751.99,797.82 742.69,808.75" fill="#9c9b77" stroke="#2a2a20" stroke-width="0.65" stroke-linejoin="round" />
<polygon points="725.03,802.40 742.69,808.75 751.99,797.82 734.42,791.55" fill="#a5a47f" stroke="#2a2a20" stroke-width="0.65" stroke-linejoin="round" />
<polygon points="579.12,804.67 596.29,811.04 596.27,810.22 579.09,803.84" fill="#f7f5c4" stroke="#2a2a20" stroke-width="0.65" stroke-linejoin="round" />
<polygon points="596.29,811.04 606.65,800.06 606.64,799.24 596.27,810.22" fill="#9c9b77" stroke="#2a2a20" stroke-width="0.65" stroke-linejoin="round" />
<polygon points="579.09,803.84 596.27,810.22 606.64,799.24 589.54,792.95" fill="#a5a47f" stroke="#2a2a20" stroke-width="0.65" stroke-linejoin="round" />
<polygon points="635.06,806.83 652.45,813.22 652.41,693.71 634.16,687.47" fill="#5a52a8" stroke="#222233" stroke-width="0.5" stroke-linejoin="round" />
<polygon points="652.45,813.22 662.42,802.21 662.88,683.05 652.41,693.71" fill="#2f2c62" stroke="#222233" stroke-width="0.5" stroke-linejoin="round" />
<polygon points="634.16,687.47 652.41,693.71 662.88,683.05 644.72,676.90" fill="#584ea0" stroke="#222233" stroke-width="0.5" stroke-linejoin="round" />
<polygon points="634.16,687.47 652.41,693.71 652.41,683.08 634.08,676.86" fill="#8a82c8" stroke="#222233" stroke-width="0.5" stroke-linejoin="round" />
<polygon points="652.41,693.71 662.88,683.05 662.92,672.46 652.41,683.08" fill="#4b4590" stroke="#222233" stroke-width="0.5" stroke-linejoin="round" />
<polygon points="634.08,676.86 652.41,683.08 662.92,672.46 644.69,666.32" fill="#5a50a2" stroke="#222233" stroke-width="0.5" stroke-linejoin="round" />
<line x1="633.96" y1="661.54" x2="652.40" y2="667.74" stroke="#111" stroke-width="0.6"/>
<line x1="652.40" y1="667.74" x2="662.98" y2="657.16" stroke="#111" stroke-width="0.6"/>
<line x1="662.98" y1="657.16" x2="644.63" y2="651.05" stroke="#111" stroke-width="0.6"/>
<line x1="644.63" y1="651.05" x2="633.96" y2="661.54" stroke="#111" stroke-width="0.6"/>
<line x1="634.08" y1="676.86" x2="633.96" y2="661.54" stroke="#111" stroke-width="0.6"/>
<line x1="652.41" y1="683.08" x2="652.40" y2="667.74" stroke="#111" stroke-width="0.6"/>
<line x1="662.92" y1="672.46" x2="662.98" y2="657.16" stroke="#111" stroke-width="0.6"/>
<line x1="644.69" y1="666.32" x2="644.63" y2="651.05" stroke="#111" stroke-width="0.6"/>
<polygon points="691.06,808.99 708.66,815.39 708.68,814.57 691.07,808.17" fill="#f7f5c4" stroke="#2a2a20" stroke-width="0.65" stroke-linejoin="round" />
<polygon points="708.66,815.39 718.24,804.37 718.26,803.55 708.68,814.57" fill="#9c9b77" stroke="#2a2a20" stroke-width="0.65" stroke-linejoin="round" />
<polygon points="691.07,808.17 708.68,814.57 718.26,803.55 700.74,797.24" fill="#a5a47f" stroke="#2a2a20" stroke-width="0.65" stroke-linejoin="round" />
<polygon points="747.09,811.16 764.91,817.57 765.43,806.56 747.53,800.17" fill="#f7f5c4" stroke="#2a2a20" stroke-width="0.65" stroke-linejoin="round" />
<polygon points="764.91,817.57 774.10,806.53 774.65,795.55 765.43,806.56" fill="#9c9b77" stroke="#2a2a20" stroke-width="0.65" stroke-linejoin="round" />
<polygon points="747.53,800.17 765.43,806.56 774.65,795.55 756.84,789.24" fill="#a5a47f" stroke="#2a2a20" stroke-width="0.65" stroke-linejoin="round" />
<polygon points="544.43,810.47 561.54,816.89 561.51,816.07 544.39,809.64" fill="#f7f5c4" stroke="#2a2a20" stroke-width="0.65" stroke-linejoin="round" />
<polygon points="561.54,816.89 572.20,805.82 572.17,805.00 561.51,816.07" fill="#9c9b77" stroke="#2a2a20" stroke-width="0.65" stroke-linejoin="round" />
<polygon points="544.39,809.64 561.51,816.07 572.17,805.00 555.13,798.66" fill="#a5a47f" stroke="#2a2a20" stroke-width="0.65" stroke-linejoin="round" />
<polygon points="600.60,812.64 617.93,819.08 617.81,810.81 600.42,804.38" fill="#f7f5c4" stroke="#2a2a20" stroke-width="0.65" stroke-linejoin="round" />
<polygon points="617.93,819.08 628.19,807.99 628.11,799.74 617.81,810.81" fill="#9c9b77" stroke="#2a2a20" stroke-width="0.65" stroke-linejoin="round" />
<polygon points="600.42,804.38 617.81,810.81 628.11,799.74 610.80,793.40" fill="#a5a47f" stroke="#2a2a20" stroke-width="0.65" stroke-linejoin="round" />
<polygon points="656.82,814.82 674.37,821.27 674.37,820.44 656.82,814.00" fill="#f7f5c4" stroke="#2a2a20" stroke-width="0.65" stroke-linejoin="round" />
<polygon points="674.37,821.27 684.23,810.16 684.24,809.33 674.37,820.44" fill="#9c9b77" stroke="#2a2a20" stroke-width="0.65" stroke-linejoin="round" />
<polygon points="656.82,814.00 674.37,820.44 684.24,809.33 666.77,802.98" fill="#a5a47f" stroke="#2a2a20" stroke-width="0.65" stroke-linejoin="round" />
<polygon points="713.08,817.00 730.85,823.45 731.21,812.43 713.36,805.98" fill="#f7f5c4" stroke="#2a2a20" stroke-width="0.65" stroke-linejoin="round" />
<polygon points="730.85,823.45 740.31,812.33 740.72,801.33 731.21,812.43" fill="#9c9b77" stroke="#2a2a20" stroke-width="0.65" stroke-linejoin="round" />
<polygon points="713.36,805.98 731.21,812.43 740.72,801.33 722.96,794.97" fill="#a5a47f" stroke="#2a2a20" stroke-width="0.65" stroke-linejoin="round" />
<polygon points="565.84,818.50 583.12,824.99 579.46,701.20 561.30,694.87" fill="#5a52a8" stroke="#222233" stroke-width="0.5" stroke-linejoin="round" />
<polygon points="583.12,824.99 593.67,813.81 590.59,690.37 579.46,701.20" fill="#2f2c62" stroke="#222233" stroke-width="0.5" stroke-linejoin="round" />
<polygon points="561.30,694.87 579.46,701.20 590.59,690.37 572.52,684.13" fill="#584ea0" stroke="#222233" stroke-width="0.5" stroke-linejoin="round" />
<polygon points="561.30,694.87 579.46,701.20 579.28,695.09 561.08,688.77" fill="#8a82c8" stroke="#222233" stroke-width="0.5" stroke-linejoin="round" />
<polygon points="579.46,701.20 590.59,690.37 590.44,684.28 579.28,695.09" fill="#4b4590" stroke="#222233" stroke-width="0.5" stroke-linejoin="round" />
<polygon points="561.08,688.77 579.28,695.09 590.44,684.28 572.32,678.05" fill="#5a50a2" stroke="#222233" stroke-width="0.5" stroke-linejoin="round" />
<line x1="560.48" y1="672.61" x2="578.80" y2="678.91" stroke="#111" stroke-width="0.6"/>
<line x1="578.80" y1="678.91" x2="590.03" y2="668.16" stroke="#111" stroke-width="0.6"/>
<line x1="590.03" y1="668.16" x2="571.81" y2="661.95" stroke="#111" stroke-width="0.6"/>
<line x1="571.81" y1="661.95" x2="560.48" y2="672.61" stroke="#111" stroke-width="0.6"/>
<line x1="561.08" y1="688.77" x2="560.48" y2="672.61" stroke="#111" stroke-width="0.6"/>
<line x1="579.28" y1="695.09" x2="578.80" y2="678.91" stroke="#111" stroke-width="0.6"/>
<line x1="590.44" y1="684.28" x2="590.03" y2="668.16" stroke="#111" stroke-width="0.6"/>
<line x1="572.32" y1="678.05" x2="571.81" y2="661.95" stroke="#111" stroke-width="0.6"/>
<polygon points="622.29,820.69 639.78,827.19 639.78,826.36 622.28,819.87" fill="#f7f5c4" stroke="#2a2a20" stroke-width="0.65" stroke-linejoin="round" />
<polygon points="639.78,827.19 649.93,815.99 649.93,815.17 639.78,826.36" fill="#9c9b77" stroke="#2a2a20" stroke-width="0.65" stroke-linejoin="round" />
<polygon points="622.28,819.87 639.78,826.36 649.93,815.17 632.52,808.76" fill="#a5a47f" stroke="#2a2a20" stroke-width="0.65" stroke-linejoin="round" />
<polygon points="530.79,824.42 548.01,830.95 547.88,828.19 530.65,821.66" fill="#f7f5c4" stroke="#2a2a20" stroke-width="0.65" stroke-linejoin="round" />
<polygon points="548.01,830.95 558.86,819.68 558.75,816.93 547.88,828.19" fill="#9c9b77" stroke="#2a2a20" stroke-width="0.65" stroke-linejoin="round" />
<polygon points="530.65,821.66 547.88,828.19 558.75,816.93 541.59,810.49" fill="#a5a47f" stroke="#2a2a20" stroke-width="0.65" stroke-linejoin="round" />
<polygon points="678.78,822.88 696.49,829.39 696.51,828.57 678.78,822.06" fill="#f7f5c4" stroke="#2a2a20" stroke-width="0.65" stroke-linejoin="round" />
<polygon points="696.49,829.39 706.24,818.17 706.26,817.35 696.51,828.57" fill="#9c9b77" stroke="#2a2a20" stroke-width="0.65" stroke-linejoin="round" />
<polygon points="678.78,822.06 696.51,828.57 706.26,817.35 688.63,810.93" fill="#a5a47f" stroke="#2a2a20" stroke-width="0.65" stroke-linejoin="round" />
<polygon points="735.31,825.08 753.25,831.59 753.28,830.77 735.34,824.25" fill="#f7f5c4" stroke="#2a2a20" stroke-width="0.65" stroke-linejoin="round" />
<polygon points="753.25,831.59 762.60,820.35 762.63,819.53 753.28,830.77" fill="#9c9b77" stroke="#2a2a20" stroke-width="0.65" stroke-linejoin="round" />
<polygon points="735.34,824.25 753.28,830.77 762.63,819.53 744.79,813.10" fill="#a5a47f" stroke="#2a2a20" stroke-width="0.65" stroke-linejoin="round" />
<polygon points="587.46,826.62 604.90,833.16 604.88,832.34 587.44,825.79" fill="#f7f5c4" stroke="#2a2a20" stroke-width="0.65" stroke-linejoin="round" />
<polygon points="604.90,833.16 615.34,821.87 615.33,821.05 604.88,832.34" fill="#9c9b77" stroke="#2a2a20" stroke-width="0.65" stroke-linejoin="round" />
<polygon points="587.44,825.79 604.88,832.34 615.33,821.05 597.97,814.59" fill="#a5a47f" stroke="#2a2a20" stroke-width="0.65" stroke-linejoin="round" />
<polygon points="644.18,828.82 661.84,835.38 661.84,834.55 644.17,827.99" fill="#f7f5c4" stroke="#2a2a20" stroke-width="0.65" stroke-linejoin="round" />
<polygon points="661.84,835.38 671.88,824.07 671.89,823.24 661.84,834.55" fill="#9c9b77" stroke="#2a2a20" stroke-width="0.65" stroke-linejoin="round" />
<polygon points="644.17,827.99 661.84,834.55 671.89,823.24 654.31,816.78" fill="#a5a47f" stroke="#2a2a20" stroke-width="0.65" stroke-linejoin="round" />
<polygon points="700.94,831.02 718.82,837.59 718.85,836.77 700.96,830.20" fill="#f7f5c4" stroke="#2a2a20" stroke-width="0.65" stroke-linejoin="round" />
<polygon points="718.82,837.59 728.46,826.26 728.49,825.44 718.85,836.77" fill="#9c9b77" stroke="#2a2a20" stroke-width="0.65" stroke-linejoin="round" />
<polygon points="700.96,830.20 718.85,836.77 728.49,825.44 710.69,818.96" fill="#a5a47f" stroke="#2a2a20" stroke-width="0.65" stroke-linejoin="round" />
<polygon points="552.33,832.59 569.71,839.19 569.68,838.36 552.30,831.77" fill="#f7f5c4" stroke="#2a2a20" stroke-width="0.65" stroke-linejoin="round" />
<polygon points="569.71,839.19 580.46,827.81 580.43,826.98 569.68,838.36" fill="#9c9b77" stroke="#2a2a20" stroke-width="0.65" stroke-linejoin="round" />
<polygon points="552.30,831.77 569.68,838.36 580.43,826.98 563.13,820.48" fill="#a5a47f" stroke="#2a2a20" stroke-width="0.65" stroke-linejoin="round" />
<polygon points="609.28,834.81 626.88,841.42 626.78,831.72 609.10,825.12" fill="#f7f5c4" stroke="#2a2a20" stroke-width="0.65" stroke-linejoin="round" />
<polygon points="626.88,841.42 637.22,830.01 637.16,820.34 626.78,831.72" fill="#9c9b77" stroke="#2a2a20" stroke-width="0.65" stroke-linejoin="round" />
<polygon points="609.10,825.12 626.78,831.72 637.16,820.34 619.57,813.83" fill="#a5a47f" stroke="#2a2a20" stroke-width="0.65" stroke-linejoin="round" />
<polygon points="666.27,837.02 684.10,843.64 684.11,842.82 666.28,836.20" fill="#f7f5c4" stroke="#2a2a20" stroke-width="0.65" stroke-linejoin="round" />
<polygon points="684.10,843.64 694.03,832.22 694.05,831.40 684.11,842.82" fill="#9c9b77" stroke="#2a2a20" stroke-width="0.65" stroke-linejoin="round" />
<polygon points="666.28,836.20 684.11,842.82 694.05,831.40 676.30,824.87" fill="#a5a47f" stroke="#2a2a20" stroke-width="0.65" stroke-linejoin="round" />
<polygon points="723.32,839.24 741.37,845.87 741.40,845.05 723.34,838.42" fill="#f7f5c4" stroke="#2a2a20" stroke-width="0.65" stroke-linejoin="round" />
<polygon points="741.37,845.87 750.89,834.43 750.92,833.60 741.40,845.05" fill="#9c9b77" stroke="#2a2a20" stroke-width="0.65" stroke-linejoin="round" />
<polygon points="723.34,838.42 741.40,845.05 750.92,833.60 732.96,827.07" fill="#a5a47f" stroke="#2a2a20" stroke-width="0.65" stroke-linejoin="round" />
<polygon points="574.08,840.85 591.63,847.51 588.14,714.65 569.62,708.15" fill="#5a52a8" stroke="#222233" stroke-width="0.5" stroke-linejoin="round" />
<polygon points="591.63,847.51 602.26,836.01 599.40,703.52 588.14,714.65" fill="#2f2c62" stroke="#222233" stroke-width="0.5" stroke-linejoin="round" />
<polygon points="569.62,708.15 588.14,714.65 599.40,703.52 580.98,697.11" fill="#584ea0" stroke="#222233" stroke-width="0.5" stroke-linejoin="round" />
<line x1="569.15" y1="694.20" x2="587.78" y2="700.69" stroke="#111" stroke-width="0.6"/>
<line x1="587.78" y1="700.69" x2="599.10" y2="689.61" stroke="#111" stroke-width="0.6"/>
<line x1="599.10" y1="689.61" x2="580.57" y2="683.22" stroke="#111" stroke-width="0.6"/>
<line x1="580.57" y1="683.22" x2="569.15" y2="694.20" stroke="#111" stroke-width="0.6"/>
<line x1="569.62" y1="708.15" x2="569.15" y2="694.20" stroke="#111" stroke-width="0.6"/>
<line x1="588.14" y1="714.65" x2="587.78" y2="700.69" stroke="#111" stroke-width="0.6"/>
<line x1="599.40" y1="703.52" x2="599.10" y2="689.61" stroke="#111" stroke-width="0.6"/>
<line x1="580.98" y1="697.11" x2="580.57" y2="683.22" stroke="#111" stroke-width="0.6"/>
<polygon points="631.31,843.08 649.08,849.75 649.08,848.92 631.30,842.25" fill="#f7f5c4" stroke="#2a2a20" stroke-width="0.65" stroke-linejoin="round" />
<polygon points="649.08,849.75 659.30,838.23 659.31,837.40 649.08,848.92" fill="#9c9b77" stroke="#2a2a20" stroke-width="0.65" stroke-linejoin="round" />
<polygon points="631.30,842.25 649.08,848.92 659.31,837.40 641.62,830.82" fill="#a5a47f" stroke="#2a2a20" stroke-width="0.65" stroke-linejoin="round" />
<polygon points="688.58,845.31 706.58,851.99 706.60,851.16 688.59,844.48" fill="#f7f5c4" stroke="#2a2a20" stroke-width="0.65" stroke-linejoin="round" />
<polygon points="706.58,851.99 716.39,840.45 716.41,839.62 706.60,851.16" fill="#9c9b77" stroke="#2a2a20" stroke-width="0.65" stroke-linejoin="round" />
<polygon points="688.59,844.48 706.60,851.16 716.41,839.62 698.50,833.03" fill="#a5a47f" stroke="#2a2a20" stroke-width="0.65" stroke-linejoin="round" />
<polygon points="596.03,849.18 613.75,855.90 613.74,855.07 596.01,848.35" fill="#f7f5c4" stroke="#2a2a20" stroke-width="0.65" stroke-linejoin="round" />
<polygon points="613.75,855.90 624.28,844.29 624.27,843.46 613.74,855.07" fill="#9c9b77" stroke="#2a2a20" stroke-width="0.65" stroke-linejoin="round" />
<polygon points="596.01,848.35 613.74,855.07 624.27,843.46 606.63,836.83" fill="#a5a47f" stroke="#2a2a20" stroke-width="0.65" stroke-linejoin="round" />
<polygon points="653.54,851.42 671.49,858.16 671.49,857.33 653.54,850.59" fill="#f7f5c4" stroke="#2a2a20" stroke-width="0.65" stroke-linejoin="round" />
<polygon points="671.49,858.16 681.60,846.53 681.61,845.70 671.49,857.33" fill="#9c9b77" stroke="#2a2a20" stroke-width="0.65" stroke-linejoin="round" />
<polygon points="653.54,850.59 671.49,857.33 681.61,845.70 663.75,839.06" fill="#a5a47f" stroke="#2a2a20" stroke-width="0.65" stroke-linejoin="round" />
<polygon points="711.10,853.67 729.27,860.41 729.30,859.58 711.12,852.84" fill="#f7f5c4" stroke="#2a2a20" stroke-width="0.65" stroke-linejoin="round" />
<polygon points="729.27,860.41 738.97,848.76 739.00,847.93 729.30,859.58" fill="#9c9b77" stroke="#2a2a20" stroke-width="0.65" stroke-linejoin="round" />
<polygon points="711.12,852.84 729.30,859.58 739.00,847.93 720.91,841.28" fill="#a5a47f" stroke="#2a2a20" stroke-width="0.65" stroke-linejoin="round" />
<polygon points="618.20,857.59 636.09,864.38 636.08,863.55 618.19,856.76" fill="#f7f5c4" stroke="#2a2a20" stroke-width="0.65" stroke-linejoin="round" />
<polygon points="636.09,864.38 646.50,852.65 646.50,851.82 636.08,863.55" fill="#9c9b77" stroke="#2a2a20" stroke-width="0.65" stroke-linejoin="round" />
<polygon points="618.19,856.76 636.08,863.55 646.50,851.82 628.70,845.13" fill="#a5a47f" stroke="#2a2a20" stroke-width="0.65" stroke-linejoin="round" />
<polygon points="675.99,859.85 694.11,866.65 694.12,865.82 676.00,859.02" fill="#f7f5c4" stroke="#2a2a20" stroke-width="0.65" stroke-linejoin="round" />
<polygon points="694.11,866.65 704.10,854.90 704.12,854.07 694.12,865.82" fill="#9c9b77" stroke="#2a2a20" stroke-width="0.65" stroke-linejoin="round" />
<polygon points="676.00,859.02 694.12,865.82 704.12,854.07 686.09,847.37" fill="#a5a47f" stroke="#2a2a20" stroke-width="0.65" stroke-linejoin="round" />
<polygon points="640.58,866.09 658.64,872.94 658.64,872.11 640.57,865.25" fill="#f7f5c4" stroke="#2a2a20" stroke-width="0.65" stroke-linejoin="round" />
<polygon points="658.64,872.94 668.94,861.09 668.94,860.26 658.64,872.11" fill="#9c9b77" stroke="#2a2a20" stroke-width="0.65" stroke-linejoin="round" />
<polygon points="640.57,865.25 658.64,872.11 668.94,860.26 650.97,853.50" fill="#a5a47f" stroke="#2a2a20" stroke-width="0.65" stroke-linejoin="round" />
<polygon points="698.66,868.36 716.95,875.22 716.97,874.39 698.68,867.53" fill="#f7f5c4" stroke="#2a2a20" stroke-width="0.65" stroke-linejoin="round" />
<polygon points="716.95,875.22 726.83,863.35 726.85,862.52 716.97,874.39" fill="#9c9b77" stroke="#2a2a20" stroke-width="0.65" stroke-linejoin="round" />
<polygon points="698.68,867.53 716.97,874.39 726.85,862.52 708.65,855.75" fill="#a5a47f" stroke="#2a2a20" stroke-width="0.65" stroke-linejoin="round" />
<polygon points="663.17,874.66 681.41,881.58 681.42,880.75 663.18,873.83" fill="#f7f5c4" stroke="#2a2a20" stroke-width="0.65" stroke-linejoin="round" />
<polygon points="681.41,881.58 691.59,869.61 691.60,868.78 681.42,880.75" fill="#9c9b77" stroke="#2a2a20" stroke-width="0.65" stroke-linejoin="round" />
<polygon points="663.18,873.83 681.42,880.75 691.60,868.78 673.46,861.96" fill="#a5a47f" stroke="#2a2a20" stroke-width="0.65" stroke-linejoin="round" />
<polygon points="685.99,883.32 704.40,890.31 704.42,889.48 686.00,882.49" fill="#f7f5c4" stroke="#2a2a20" stroke-width="0.65" stroke-linejoin="round" />
<polygon points="704.40,890.31 714.46,878.22 714.48,877.39 704.42,889.48" fill="#9c9b77" stroke="#2a2a20" stroke-width="0.65" stroke-linejoin="round" />
<polygon points="686.00,882.49 704.42,889.48 714.48,877.39 696.16,870.50" fill="#a5a47f" stroke="#2a2a20" stroke-width="0.65" stroke-linejoin="round" />
<line x1="527.27" y1="825.01" x2="519.50" y2="678.79" stroke="#111" stroke-width="1.3"/>
<line x1="527.27" y1="825.01" x2="705.45" y2="892.71" stroke="#111" stroke-width="1.3"/>
<line x1="705.45" y1="892.71" x2="799.79" y2="779.04" stroke="#111" stroke-width="1.3"/>
<line x1="527.27" y1="825.01" x2="524.70" y2="824.03" stroke="#111" stroke-width="1.3"/>
<line x1="523.50" y1="754.09" x2="520.85" y2="753.12" stroke="#111" stroke-width="1.3"/>
<line x1="519.50" y1="678.79" x2="516.77" y2="677.84" stroke="#111" stroke-width="1.3"/>
<line x1="535.81" y1="831.36" x2="540.20" y2="826.83" stroke="#111" stroke-width="1.1"/>
<line x1="708.07" y1="883.72" x2="715.45" y2="886.51" stroke="#111" stroke-width="1.1"/>
<line x1="557.47" y1="839.61" x2="561.82" y2="835.03" stroke="#111" stroke-width="1.1"/>
<line x1="720.53" y1="868.75" x2="727.87" y2="871.49" stroke="#111" stroke-width="1.1"/>
<line x1="579.33" y1="847.93" x2="583.64" y2="843.31" stroke="#111" stroke-width="1.1"/>
<line x1="732.77" y1="854.06" x2="740.06" y2="856.75" stroke="#111" stroke-width="1.1"/>
<line x1="601.41" y1="856.33" x2="605.67" y2="851.66" stroke="#111" stroke-width="1.1"/>
<line x1="744.79" y1="839.63" x2="752.03" y2="842.28" stroke="#111" stroke-width="1.1"/>
<line x1="623.69" y1="864.81" x2="627.92" y2="860.10" stroke="#111" stroke-width="1.1"/>
<line x1="756.59" y1="825.47" x2="763.78" y2="828.07" stroke="#111" stroke-width="1.1"/>
<line x1="646.20" y1="873.38" x2="650.37" y2="868.62" stroke="#111" stroke-width="1.1"/>
<line x1="768.18" y1="811.55" x2="775.33" y2="814.11" stroke="#111" stroke-width="1.1"/>
<line x1="668.92" y1="882.03" x2="673.05" y2="877.22" stroke="#111" stroke-width="1.1"/>
<line x1="779.57" y1="797.88" x2="786.67" y2="800.39" stroke="#111" stroke-width="1.1"/>
<line x1="691.86" y1="890.76" x2="695.94" y2="885.90" stroke="#111" stroke-width="1.1"/>
<line x1="790.76" y1="784.45" x2="797.81" y2="786.92" stroke="#111" stroke-width="1.1"/>
<text transform="translate(8.56 29.05) scale(0.867 1)" font-size="34.0" fill="#231f20" stroke="#231f20" stroke-width="1.0">(a)</text>
<text transform="translate(9.72 191.57) scale(0.883 1)" font-size="34.0" fill="#231f20" stroke="#231f20" stroke-width="1.0">(b)</text>
<text transform="translate(13.59 595.88) scale(0.851 1)" font-size="34.0" fill="#231f20" stroke="#231f20" stroke-width="1.0">(c)</text>
<text transform="translate(475.62 30.32) scale(0.886 1)" font-size="34.0" fill="#231f20" stroke="#231f20" stroke-width="1.0">(d)</text>
<text transform="translate(476.34 191.57) scale(0.875 1)" font-size="34.0" fill="#231f20" stroke="#231f20" stroke-width="1.0">(e)</text>
<text transform="translate(488.48 593.83) scale(0.951 1)" font-size="34.0" fill="#231f20" stroke="#231f20" stroke-width="1.0">(f)</text>
<text transform="translate(48.55 297.89)" font-size="20" fill="#231f20" >1</text>
<text transform="translate(47.20 370.29)" font-size="20" fill="#231f20" >0.5</text>
<text transform="translate(61.15 437.89)" font-size="20" fill="#231f20" >0</text>
<text transform="translate(86.39 448.99)" font-size="20" fill="#231f20" >11</text>
<text transform="translate(131.21 465.54)" font-size="20" fill="#231f20" >10</text>
<text transform="translate(176.81 482.44)" font-size="20" fill="#231f20" >01</text>
<text transform="translate(224.59 500.39)" font-size="20" fill="#231f20" >00</text>
<text transform="translate(290.34 487.39)" font-size="20" fill="#231f20" >00</text>
<text transform="translate(314.71 457.99)" font-size="20" fill="#231f20" >01</text>
<text transform="translate(340.41 430.19)" font-size="20" fill="#231f20" >10</text>
<text transform="translate(364.74 402.39)" font-size="20" fill="#231f20" >11</text>
<text transform="translate(34.92 415.29) rotate(-90) scale(1.08 1)" font-size="22.5" fill="#231f20" >Probability</text>
<text transform="translate(128.68 497.52) rotate(18)" font-size="24.5" fill="#231f20" >Input</text>
<text transform="translate(332.97 498.90) rotate(-48)" font-size="24.5" fill="#231f20" >Output</text>
<text transform="translate(55.75 713.14)" font-size="20" fill="#231f20" >1</text>
<text transform="translate(54.00 785.74)" font-size="20" fill="#231f20" >0.5</text>
<text transform="translate(67.45 852.54)" font-size="20" fill="#231f20" >0</text>
<text transform="translate(91.99 862.64)" font-size="20" fill="#231f20" >11</text>
<text transform="translate(137.16 880.34)" font-size="20" fill="#231f20" >10</text>
<text transform="translate(183.11 896.89)" font-size="20" fill="#231f20" >01</text>
<text transform="translate(231.59 915.19)" font-size="20" fill="#231f20" >00</text>
<text transform="translate(296.09 902.64)" font-size="20" fill="#231f20" >00</text>
<text transform="translate(321.46 872.94)" font-size="20" fill="#231f20" >01</text>
<text transform="translate(346.66 844.24)" font-size="20" fill="#231f20" >10</text>
<text transform="translate(371.29 817.64)" font-size="20" fill="#231f20" >11</text>
<text transform="translate(41.17 831.19) rotate(-90) scale(1.08 1)" font-size="22.5" fill="#231f20" >Probability</text>
<text transform="translate(135.83 912.32) rotate(18)" font-size="24.5" fill="#231f20" >Input</text>
<text transform="translate(339.12 912.20) rotate(-48)" font-size="24.5" fill="#231f20" >Output</text>
<text transform="translate(490.95 285.54)" font-size="20" fill="#231f20" >1</text>
<text transform="translate(488.20 360.69)" font-size="20" fill="#231f20" >0.5</text>
<text transform="translate(502.65 429.54)" font-size="20" fill="#231f20" >0</text>
<text transform="translate(468.77 409.19) rotate(-90) scale(1.08 1)" font-size="22.5" fill="#231f20" >Probability</text>
<text transform="translate(519.48 448.24) rotate(-46)" font-size="18" fill="#231f20" >111</text>
<text transform="translate(542.47 457.69) rotate(-46)" font-size="18" fill="#231f20" >110</text>
<text transform="translate(563.94 466.34) rotate(-46)" font-size="18" fill="#231f20" >101</text>
<text transform="translate(587.41 475.29) rotate(-46)" font-size="18" fill="#231f20" >100</text>
<text transform="translate(610.06 483.66) rotate(-46)" font-size="18" fill="#231f20" >011</text>
<text transform="translate(633.10 493.06) rotate(-46)" font-size="18" fill="#231f20" >010</text>
<text transform="translate(654.99 501.27) rotate(-46)" font-size="18" fill="#231f20" >001</text>
<text transform="translate(678.46 510.22) rotate(-46)" font-size="18" fill="#231f20" >000</text>
<text transform="translate(724.79 484.24) rotate(20)" font-size="17" fill="#231f20" >000</text>
<text transform="translate(738.09 469.66) rotate(20)" font-size="17" fill="#231f20" >001</text>
<text transform="translate(749.73 455.98) rotate(20)" font-size="17" fill="#231f20" >010</text>
<text transform="translate(763.61 441.62) rotate(20)" font-size="17" fill="#231f20" >011</text>
<text transform="translate(775.00 427.57) rotate(20)" font-size="17" fill="#231f20" >100</text>
<text transform="translate(788.30 413.00) rotate(20)" font-size="17" fill="#231f20" >101</text>
<text transform="translate(800.52 399.53) rotate(20)" font-size="17" fill="#231f20" >110</text>
<text transform="translate(814.40 385.17) rotate(20)" font-size="17" fill="#231f20" >111</text>
<text transform="translate(561.68 507.47) rotate(18)" font-size="24.5" fill="#231f20" >Input</text>
<text transform="translate(787.37 511.60) rotate(-48)" font-size="24.5" fill="#231f20" >Output</text>
<text transform="translate(492.40 698.24)" font-size="20" fill="#231f20" >1</text>
<text transform="translate(490.60 773.74)" font-size="20" fill="#231f20" >0.5</text>
<text transform="translate(504.65 844.34)" font-size="20" fill="#231f20" >0</text>
<text transform="translate(472.58 821.55) rotate(-90) scale(1.08 1)" font-size="22.5" fill="#231f20" >Probability</text>
<text transform="translate(520.47 863.29) rotate(-46)" font-size="18" fill="#231f20" >111</text>
<text transform="translate(542.77 872.51) rotate(-46)" font-size="18" fill="#231f20" >110</text>
<text transform="translate(563.54 880.95) rotate(-46)" font-size="18" fill="#231f20" >101</text>
<text transform="translate(586.32 889.68) rotate(-46)" font-size="18" fill="#231f20" >100</text>
<text transform="translate(608.28 897.84) rotate(-46)" font-size="18" fill="#231f20" >011</text>
<text transform="translate(630.63 907.02) rotate(-46)" font-size="18" fill="#231f20" >010</text>
<text transform="translate(651.83 915.01) rotate(-46)" font-size="18" fill="#231f20" >001</text>
<text transform="translate(674.61 923.74) rotate(-46)" font-size="18" fill="#231f20" >000</text>
<text transform="translate(718.82 896.56) rotate(20)" font-size="17" fill="#231f20" >000</text>
<text transform="translate(731.88 881.67) rotate(20)" font-size="17" fill="#231f20" >001</text>
<text transform="translate(743.28 867.67) rotate(20)" font-size="17" fill="#231f20" >010</text>
<text transform="translate(756.93 853.00) rotate(20)" font-size="17" fill="#231f20" >011</text>
<text transform="translate(768.08 838.63) rotate(20)" font-size="17" fill="#231f20" >100</text>
<text transform="translate(781.14 823.74) rotate(20)" font-size="17" fill="#231f20" >101</text>
<text transform="translate(793.13 809.96) rotate(20)" font-size="17" fill="#231f20" >110</text>
<text transform="translate(806.77 795.29) rotate(20)" font-size="17" fill="#231f20" >111</text>
<text transform="translate(559.93 921.17) rotate(18)" font-size="24.5" fill="#231f20" >Input</text>
<text transform="translate(779.42 912.80) rotate(-48)" font-size="24.5" fill="#231f20" >Output</text>
</svg></body></html>
